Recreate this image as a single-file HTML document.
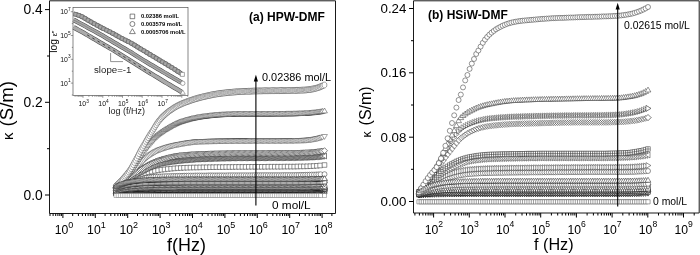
<!DOCTYPE html>
<html><head><meta charset="utf-8"><title>Conductivity spectra</title>
<style>
html,body{margin:0;padding:0;background:#fff;}
svg{display:block;}
svg text{font-family:"Liberation Sans",Arial,sans-serif;}
</style></head>
<body>
<svg width="700" height="255" viewBox="0 0 700 255">
<rect width="700" height="255" fill="#fff"/>
<defs><path id="m0" d="M-2.5 0a2.5 2.5 0 1 0 5 0a2.5 2.5 0 1 0 -5 0z"/><path id="m1" d="M-2.3 -2.3h4.6v4.6h-4.6z"/><path id="m2" d="M-2.9 0l4.9 2.9v-5.8z"/><path id="m3" d="M0 -3l3 3l-3 3l-3 -3z"/><path id="m4" d="M0 2.9l2.9 -4.9h-5.8z"/><path id="m5" d="M0 -2.9l2.9 4.9h-5.8z"/><path id="m6" d="M-2.4 0a2.4 2.4 0 1 0 4.7 0a2.4 2.4 0 1 0 -4.7 0z"/><path id="m7" d="M-2 -2h4v4h-4z"/><path id="m8" d="M-1.8 -1.8h3.6v3.6h-3.6z"/><path id="m9" d="M-2.2 0a2.2 2.2 0 1 0 4.4 0a2.2 2.2 0 1 0 -4.4 0z"/><path id="m10" d="M0 -2.5l2.5 4.2h-5z"/><path id="m11" d="M-2.3 -2.3h4.6v4.6h-4.6z"/><path id="m12" d="M-2.5 0a2.5 2.5 0 1 0 5 0a2.5 2.5 0 1 0 -5 0z"/><path id="m13" d="M0 -2.9l2.9 4.9h-5.8z"/><path id="m14" d="M2.9 0l-4.9 2.9v-5.8z"/><path id="m15" d="M-2.3 -2.3h4.6v4.6h-4.6zM0 -2.3v4.6M-2.3 0h4.6"/><path id="m16" d="M-2.1 -2.1h4.2v4.2h-4.2z"/></defs>
<g id="panelA">
<g fill="#fff" stroke="#2a2a2a" stroke-width="0.5"><use href="#m0" x="116" y="188.6"/><use href="#m0" x="118.2" y="187.1"/><use href="#m0" x="120.4" y="185.7"/><use href="#m0" x="122.6" y="184.4"/><use href="#m0" x="124.8" y="183.2"/><use href="#m0" x="127" y="182.2"/><use href="#m0" x="129.2" y="181.3"/><use href="#m0" x="131.4" y="180.5"/><use href="#m0" x="133.6" y="179.9"/><use href="#m0" x="135.8" y="179.3"/><use href="#m0" x="138" y="178.8"/><use href="#m0" x="140.2" y="178.5"/><use href="#m0" x="142.4" y="178.2"/><use href="#m0" x="144.6" y="177.9"/><use href="#m0" x="146.8" y="177.6"/><use href="#m0" x="149" y="177.3"/><use href="#m0" x="151.2" y="177.1"/><use href="#m0" x="153.4" y="176.9"/><use href="#m0" x="155.6" y="176.7"/><use href="#m0" x="157.8" y="176.6"/><use href="#m0" x="160" y="176.5"/><use href="#m0" x="162.2" y="176.4"/><use href="#m0" x="164.4" y="176.3"/><use href="#m0" x="166.6" y="176.2"/><use href="#m0" x="168.8" y="176.2"/><use href="#m0" x="171" y="176.1"/><use href="#m0" x="173.2" y="176"/><use href="#m0" x="175.4" y="176"/><use href="#m0" x="177.6" y="175.9"/><use href="#m0" x="179.8" y="175.8"/><use href="#m0" x="182" y="175.8"/><use href="#m0" x="184.2" y="175.7"/><use href="#m0" x="186.4" y="175.7"/><use href="#m0" x="188.6" y="175.6"/><use href="#m0" x="190.8" y="175.6"/><use href="#m0" x="193" y="175.6"/><use href="#m0" x="195.2" y="175.5"/><use href="#m0" x="197.4" y="175.5"/><use href="#m0" x="199.6" y="175.5"/><use href="#m0" x="201.8" y="175.5"/><use href="#m0" x="204" y="175.5"/><use href="#m0" x="206.2" y="175.5"/><use href="#m0" x="208.4" y="175.4"/><use href="#m0" x="210.6" y="175.4"/><use href="#m0" x="212.8" y="175.4"/><use href="#m0" x="215" y="175.4"/><use href="#m0" x="217.2" y="175.4"/><use href="#m0" x="219.4" y="175.4"/><use href="#m0" x="221.6" y="175.4"/><use href="#m0" x="223.8" y="175.4"/><use href="#m0" x="226" y="175.4"/><use href="#m0" x="228.2" y="175.3"/><use href="#m0" x="230.4" y="175.3"/><use href="#m0" x="232.6" y="175.3"/><use href="#m0" x="234.8" y="175.3"/><use href="#m0" x="237" y="175.3"/><use href="#m0" x="239.2" y="175.3"/><use href="#m0" x="241.4" y="175.3"/><use href="#m0" x="243.6" y="175.3"/><use href="#m0" x="245.8" y="175.3"/><use href="#m0" x="248" y="175.3"/><use href="#m0" x="250.2" y="175.3"/><use href="#m0" x="252.4" y="175.3"/><use href="#m0" x="254.6" y="175.2"/><use href="#m0" x="256.8" y="175.2"/><use href="#m0" x="259" y="175.2"/><use href="#m0" x="261.2" y="175.2"/><use href="#m0" x="263.4" y="175.2"/><use href="#m0" x="265.6" y="175.2"/><use href="#m0" x="267.8" y="175.2"/><use href="#m0" x="270" y="175.2"/><use href="#m0" x="272.2" y="175.2"/><use href="#m0" x="274.4" y="175.2"/><use href="#m0" x="276.6" y="175.2"/><use href="#m0" x="278.8" y="175.2"/><use href="#m0" x="281" y="175.2"/><use href="#m0" x="283.2" y="175.1"/><use href="#m0" x="285.4" y="175.1"/><use href="#m0" x="287.6" y="175.1"/><use href="#m0" x="289.8" y="175.1"/><use href="#m0" x="292" y="175.1"/><use href="#m0" x="294.2" y="175.1"/><use href="#m0" x="296.4" y="175"/><use href="#m0" x="298.6" y="175"/><use href="#m0" x="300.8" y="174.9"/><use href="#m0" x="303" y="174.9"/><use href="#m0" x="305.2" y="174.8"/><use href="#m0" x="307.4" y="174.8"/><use href="#m0" x="309.6" y="174.7"/><use href="#m0" x="311.8" y="174.6"/><use href="#m0" x="314" y="174.6"/><use href="#m0" x="316.2" y="174.5"/><use href="#m0" x="318.4" y="174.4"/><use href="#m0" x="320.6" y="174.3"/><use href="#m0" x="324.5" y="174.2"/></g>
<g fill="#fff" stroke="#2a2a2a" stroke-width="0.5"><use href="#m1" x="116" y="188.1"/><use href="#m1" x="119.2" y="185.4"/><use href="#m1" x="122.5" y="183.1"/><use href="#m1" x="125.7" y="180.9"/><use href="#m1" x="129" y="179"/><use href="#m1" x="132.2" y="177.4"/><use href="#m1" x="135.4" y="176"/><use href="#m1" x="138.7" y="174.8"/><use href="#m1" x="141.9" y="173.9"/><use href="#m1" x="145.2" y="173.1"/><use href="#m1" x="148.4" y="172.3"/><use href="#m1" x="151.6" y="171.6"/><use href="#m1" x="154.9" y="170.9"/><use href="#m1" x="158.1" y="170.3"/><use href="#m1" x="161.4" y="169.8"/><use href="#m1" x="164.6" y="169.4"/><use href="#m1" x="167.8" y="169"/><use href="#m1" x="171.1" y="168.7"/><use href="#m1" x="174.3" y="168.4"/><use href="#m1" x="177.6" y="168.1"/><use href="#m1" x="180.8" y="168"/><use href="#m1" x="184" y="167.8"/><use href="#m1" x="187.3" y="167.7"/><use href="#m1" x="190.5" y="167.6"/><use href="#m1" x="193.8" y="167.5"/><use href="#m1" x="197" y="167.5"/><use href="#m1" x="200.2" y="167.4"/><use href="#m1" x="203.5" y="167.3"/><use href="#m1" x="206.7" y="167.3"/><use href="#m1" x="210" y="167.2"/><use href="#m1" x="213.2" y="167.2"/><use href="#m1" x="216.4" y="167.1"/><use href="#m1" x="219.7" y="167.1"/><use href="#m1" x="222.9" y="167.1"/><use href="#m1" x="226.2" y="167"/><use href="#m1" x="229.4" y="167"/><use href="#m1" x="232.6" y="167"/><use href="#m1" x="235.9" y="166.9"/><use href="#m1" x="239.1" y="166.9"/><use href="#m1" x="242.4" y="166.9"/><use href="#m1" x="245.6" y="166.9"/><use href="#m1" x="248.8" y="166.8"/><use href="#m1" x="252.1" y="166.8"/><use href="#m1" x="255.3" y="166.8"/><use href="#m1" x="258.6" y="166.8"/><use href="#m1" x="261.8" y="166.8"/><use href="#m1" x="265" y="166.8"/><use href="#m1" x="268.3" y="166.7"/><use href="#m1" x="271.5" y="166.7"/><use href="#m1" x="274.8" y="166.7"/><use href="#m1" x="278" y="166.7"/><use href="#m1" x="281.2" y="166.7"/><use href="#m1" x="284.5" y="166.6"/><use href="#m1" x="287.7" y="166.6"/><use href="#m1" x="291" y="166.6"/><use href="#m1" x="294.2" y="166.6"/><use href="#m1" x="297.4" y="166.5"/><use href="#m1" x="300.7" y="166.4"/><use href="#m1" x="303.9" y="166.4"/><use href="#m1" x="307.2" y="166.3"/><use href="#m1" x="310.4" y="166.2"/><use href="#m1" x="313.6" y="166"/><use href="#m1" x="316.9" y="165.8"/><use href="#m1" x="320.1" y="165.5"/><use href="#m1" x="324.5" y="165"/></g>
<g fill="#fff" stroke="#2a2a2a" stroke-width="0.6"><use href="#m2" x="116" y="187.9"/><use href="#m2" x="117.2" y="186.9"/><use href="#m2" x="118.4" y="185.9"/><use href="#m2" x="119.6" y="184.9"/><use href="#m2" x="120.8" y="184"/><use href="#m2" x="122" y="183.1"/><use href="#m2" x="123.2" y="182.2"/><use href="#m2" x="124.4" y="181.3"/><use href="#m2" x="125.6" y="180.4"/><use href="#m2" x="126.8" y="179.6"/><use href="#m2" x="128" y="178.8"/><use href="#m2" x="129.2" y="178"/><use href="#m2" x="130.4" y="177.3"/><use href="#m2" x="131.6" y="176.5"/><use href="#m2" x="132.8" y="175.8"/><use href="#m2" x="134" y="175.2"/><use href="#m2" x="135.2" y="174.5"/><use href="#m2" x="136.4" y="173.9"/><use href="#m2" x="137.6" y="173.2"/><use href="#m2" x="138.8" y="172.6"/><use href="#m2" x="140" y="172"/><use href="#m2" x="141.2" y="171.4"/><use href="#m2" x="142.4" y="170.7"/><use href="#m2" x="143.6" y="170.1"/><use href="#m2" x="144.8" y="169.5"/><use href="#m2" x="146" y="168.9"/><use href="#m2" x="147.2" y="168.3"/><use href="#m2" x="148.4" y="167.7"/><use href="#m2" x="149.6" y="167.2"/><use href="#m2" x="150.8" y="166.7"/><use href="#m2" x="152" y="166.2"/><use href="#m2" x="153.2" y="165.7"/><use href="#m2" x="154.4" y="165.2"/><use href="#m2" x="155.6" y="164.8"/><use href="#m2" x="156.8" y="164.4"/><use href="#m2" x="158" y="164"/><use href="#m2" x="159.2" y="163.7"/><use href="#m2" x="160.4" y="163.4"/><use href="#m2" x="161.6" y="163.2"/><use href="#m2" x="162.8" y="162.9"/><use href="#m2" x="164" y="162.7"/><use href="#m2" x="165.2" y="162.5"/><use href="#m2" x="166.4" y="162.3"/><use href="#m2" x="167.6" y="162.1"/><use href="#m2" x="168.8" y="161.9"/><use href="#m2" x="170" y="161.7"/><use href="#m2" x="171.2" y="161.5"/><use href="#m2" x="172.4" y="161.4"/><use href="#m2" x="173.6" y="161.2"/><use href="#m2" x="174.8" y="161.1"/><use href="#m2" x="176" y="160.9"/><use href="#m2" x="177.2" y="160.8"/><use href="#m2" x="178.4" y="160.7"/><use href="#m2" x="179.6" y="160.5"/><use href="#m2" x="180.8" y="160.4"/><use href="#m2" x="182" y="160.3"/><use href="#m2" x="183.2" y="160.2"/><use href="#m2" x="184.4" y="160.1"/><use href="#m2" x="185.6" y="160"/><use href="#m2" x="186.8" y="159.9"/><use href="#m2" x="188" y="159.8"/><use href="#m2" x="189.2" y="159.7"/><use href="#m2" x="190.4" y="159.6"/><use href="#m2" x="191.6" y="159.5"/><use href="#m2" x="192.8" y="159.4"/><use href="#m2" x="194" y="159.3"/><use href="#m2" x="195.2" y="159.2"/><use href="#m2" x="196.4" y="159.2"/><use href="#m2" x="197.6" y="159.1"/><use href="#m2" x="198.8" y="159.1"/><use href="#m2" x="200" y="159"/><use href="#m2" x="201.2" y="159"/><use href="#m2" x="202.4" y="158.9"/><use href="#m2" x="203.6" y="158.9"/><use href="#m2" x="204.8" y="158.8"/><use href="#m2" x="206" y="158.8"/><use href="#m2" x="207.2" y="158.7"/><use href="#m2" x="208.4" y="158.7"/><use href="#m2" x="209.6" y="158.7"/><use href="#m2" x="210.8" y="158.6"/><use href="#m2" x="212" y="158.6"/><use href="#m2" x="213.2" y="158.5"/><use href="#m2" x="214.4" y="158.5"/><use href="#m2" x="215.6" y="158.5"/><use href="#m2" x="216.8" y="158.4"/><use href="#m2" x="218" y="158.4"/><use href="#m2" x="219.2" y="158.4"/><use href="#m2" x="220.4" y="158.3"/><use href="#m2" x="221.6" y="158.3"/><use href="#m2" x="222.8" y="158.3"/><use href="#m2" x="224" y="158.3"/><use href="#m2" x="225.2" y="158.2"/><use href="#m2" x="226.4" y="158.2"/><use href="#m2" x="227.6" y="158.2"/><use href="#m2" x="228.8" y="158.2"/><use href="#m2" x="230" y="158.1"/><use href="#m2" x="231.2" y="158.1"/><use href="#m2" x="232.4" y="158.1"/><use href="#m2" x="233.6" y="158.1"/><use href="#m2" x="234.8" y="158.1"/><use href="#m2" x="236" y="158"/><use href="#m2" x="237.2" y="158"/><use href="#m2" x="238.4" y="158"/><use href="#m2" x="239.6" y="158"/><use href="#m2" x="240.8" y="158"/><use href="#m2" x="242" y="158"/><use href="#m2" x="243.2" y="158"/><use href="#m2" x="244.4" y="158"/><use href="#m2" x="245.6" y="158"/><use href="#m2" x="246.8" y="157.9"/><use href="#m2" x="248" y="157.9"/><use href="#m2" x="249.2" y="157.9"/><use href="#m2" x="250.4" y="157.9"/><use href="#m2" x="251.6" y="157.9"/><use href="#m2" x="252.8" y="157.9"/><use href="#m2" x="254" y="157.9"/><use href="#m2" x="255.2" y="157.9"/><use href="#m2" x="256.4" y="157.9"/><use href="#m2" x="257.6" y="157.9"/><use href="#m2" x="258.8" y="157.9"/><use href="#m2" x="260" y="157.9"/><use href="#m2" x="261.2" y="157.9"/><use href="#m2" x="262.4" y="157.9"/><use href="#m2" x="263.6" y="157.9"/><use href="#m2" x="264.8" y="157.9"/><use href="#m2" x="266" y="157.9"/><use href="#m2" x="267.2" y="157.8"/><use href="#m2" x="268.4" y="157.8"/><use href="#m2" x="269.6" y="157.8"/><use href="#m2" x="270.8" y="157.8"/><use href="#m2" x="272" y="157.8"/><use href="#m2" x="273.2" y="157.8"/><use href="#m2" x="274.4" y="157.8"/><use href="#m2" x="275.6" y="157.8"/><use href="#m2" x="276.8" y="157.8"/><use href="#m2" x="278" y="157.8"/><use href="#m2" x="279.2" y="157.8"/><use href="#m2" x="280.4" y="157.8"/><use href="#m2" x="281.6" y="157.8"/><use href="#m2" x="282.8" y="157.8"/><use href="#m2" x="284" y="157.8"/><use href="#m2" x="285.2" y="157.7"/><use href="#m2" x="286.4" y="157.7"/><use href="#m2" x="287.6" y="157.7"/><use href="#m2" x="288.8" y="157.7"/><use href="#m2" x="290" y="157.7"/><use href="#m2" x="291.2" y="157.7"/><use href="#m2" x="292.4" y="157.7"/><use href="#m2" x="293.6" y="157.7"/><use href="#m2" x="294.8" y="157.6"/><use href="#m2" x="296" y="157.6"/><use href="#m2" x="297.2" y="157.6"/><use href="#m2" x="298.4" y="157.6"/><use href="#m2" x="299.6" y="157.5"/><use href="#m2" x="300.8" y="157.5"/><use href="#m2" x="302" y="157.5"/><use href="#m2" x="303.2" y="157.4"/><use href="#m2" x="304.4" y="157.4"/><use href="#m2" x="305.6" y="157.4"/><use href="#m2" x="306.8" y="157.3"/><use href="#m2" x="308" y="157.3"/><use href="#m2" x="309.2" y="157.2"/><use href="#m2" x="310.4" y="157.2"/><use href="#m2" x="311.6" y="157.1"/><use href="#m2" x="312.8" y="157.1"/><use href="#m2" x="314" y="157"/><use href="#m2" x="315.2" y="156.9"/><use href="#m2" x="316.4" y="156.8"/><use href="#m2" x="317.6" y="156.7"/><use href="#m2" x="318.8" y="156.6"/><use href="#m2" x="320" y="156.5"/><use href="#m2" x="321.2" y="156.3"/><use href="#m2" x="322.4" y="156.2"/><use href="#m2" x="324.5" y="156"/></g>
<g fill="#fff" stroke="#2a2a2a" stroke-width="0.6"><use href="#m3" x="116" y="187.4"/><use href="#m3" x="117.2" y="186.3"/><use href="#m3" x="118.4" y="185.2"/><use href="#m3" x="119.6" y="184.1"/><use href="#m3" x="120.8" y="183.1"/><use href="#m3" x="122" y="182.1"/><use href="#m3" x="123.2" y="181.1"/><use href="#m3" x="124.4" y="180.1"/><use href="#m3" x="125.6" y="179.2"/><use href="#m3" x="126.8" y="178.3"/><use href="#m3" x="128" y="177.4"/><use href="#m3" x="129.2" y="176.6"/><use href="#m3" x="130.4" y="175.7"/><use href="#m3" x="131.6" y="174.9"/><use href="#m3" x="132.8" y="174.2"/><use href="#m3" x="134" y="173.5"/><use href="#m3" x="135.2" y="172.8"/><use href="#m3" x="136.4" y="172.1"/><use href="#m3" x="137.6" y="171.4"/><use href="#m3" x="138.8" y="170.7"/><use href="#m3" x="140" y="170"/><use href="#m3" x="141.2" y="169.3"/><use href="#m3" x="142.4" y="168.5"/><use href="#m3" x="143.6" y="167.7"/><use href="#m3" x="144.8" y="167"/><use href="#m3" x="146" y="166.2"/><use href="#m3" x="147.2" y="165.5"/><use href="#m3" x="148.4" y="164.8"/><use href="#m3" x="149.6" y="164.2"/><use href="#m3" x="150.8" y="163.6"/><use href="#m3" x="152" y="163.1"/><use href="#m3" x="153.2" y="162.5"/><use href="#m3" x="154.4" y="162"/><use href="#m3" x="155.6" y="161.5"/><use href="#m3" x="156.8" y="161.1"/><use href="#m3" x="158" y="160.6"/><use href="#m3" x="159.2" y="160.2"/><use href="#m3" x="160.4" y="159.9"/><use href="#m3" x="161.6" y="159.5"/><use href="#m3" x="162.8" y="159.2"/><use href="#m3" x="164" y="158.9"/><use href="#m3" x="165.2" y="158.5"/><use href="#m3" x="166.4" y="158.2"/><use href="#m3" x="167.6" y="157.9"/><use href="#m3" x="168.8" y="157.6"/><use href="#m3" x="170" y="157.3"/><use href="#m3" x="171.2" y="157.1"/><use href="#m3" x="172.4" y="156.8"/><use href="#m3" x="173.6" y="156.6"/><use href="#m3" x="174.8" y="156.3"/><use href="#m3" x="176" y="156.1"/><use href="#m3" x="177.2" y="156"/><use href="#m3" x="178.4" y="155.8"/><use href="#m3" x="179.6" y="155.6"/><use href="#m3" x="180.8" y="155.5"/><use href="#m3" x="182" y="155.4"/><use href="#m3" x="183.2" y="155.3"/><use href="#m3" x="184.4" y="155.2"/><use href="#m3" x="185.6" y="155.1"/><use href="#m3" x="186.8" y="155"/><use href="#m3" x="188" y="154.9"/><use href="#m3" x="189.2" y="154.8"/><use href="#m3" x="190.4" y="154.7"/><use href="#m3" x="191.6" y="154.6"/><use href="#m3" x="192.8" y="154.5"/><use href="#m3" x="194" y="154.5"/><use href="#m3" x="195.2" y="154.4"/><use href="#m3" x="196.4" y="154.4"/><use href="#m3" x="197.6" y="154.3"/><use href="#m3" x="198.8" y="154.2"/><use href="#m3" x="200" y="154.2"/><use href="#m3" x="201.2" y="154.2"/><use href="#m3" x="202.4" y="154.1"/><use href="#m3" x="203.6" y="154.1"/><use href="#m3" x="204.8" y="154"/><use href="#m3" x="206" y="154"/><use href="#m3" x="207.2" y="154"/><use href="#m3" x="208.4" y="153.9"/><use href="#m3" x="209.6" y="153.9"/><use href="#m3" x="210.8" y="153.8"/><use href="#m3" x="212" y="153.8"/><use href="#m3" x="213.2" y="153.8"/><use href="#m3" x="214.4" y="153.7"/><use href="#m3" x="215.6" y="153.7"/><use href="#m3" x="216.8" y="153.7"/><use href="#m3" x="218" y="153.6"/><use href="#m3" x="219.2" y="153.6"/><use href="#m3" x="220.4" y="153.6"/><use href="#m3" x="221.6" y="153.6"/><use href="#m3" x="222.8" y="153.5"/><use href="#m3" x="224" y="153.5"/><use href="#m3" x="225.2" y="153.5"/><use href="#m3" x="226.4" y="153.5"/><use href="#m3" x="227.6" y="153.4"/><use href="#m3" x="228.8" y="153.4"/><use href="#m3" x="230" y="153.4"/><use href="#m3" x="231.2" y="153.4"/><use href="#m3" x="232.4" y="153.4"/><use href="#m3" x="233.6" y="153.3"/><use href="#m3" x="234.8" y="153.3"/><use href="#m3" x="236" y="153.3"/><use href="#m3" x="237.2" y="153.3"/><use href="#m3" x="238.4" y="153.3"/><use href="#m3" x="239.6" y="153.3"/><use href="#m3" x="240.8" y="153.3"/><use href="#m3" x="242" y="153.3"/><use href="#m3" x="243.2" y="153.3"/><use href="#m3" x="244.4" y="153.3"/><use href="#m3" x="245.6" y="153.3"/><use href="#m3" x="246.8" y="153.3"/><use href="#m3" x="248" y="153.3"/><use href="#m3" x="249.2" y="153.3"/><use href="#m3" x="250.4" y="153.3"/><use href="#m3" x="251.6" y="153.3"/><use href="#m3" x="252.8" y="153.3"/><use href="#m3" x="254" y="153.3"/><use href="#m3" x="255.2" y="153.3"/><use href="#m3" x="256.4" y="153.3"/><use href="#m3" x="257.6" y="153.3"/><use href="#m3" x="258.8" y="153.3"/><use href="#m3" x="260" y="153.3"/><use href="#m3" x="261.2" y="153.3"/><use href="#m3" x="262.4" y="153.3"/><use href="#m3" x="263.6" y="153.3"/><use href="#m3" x="264.8" y="153.3"/><use href="#m3" x="266" y="153.3"/><use href="#m3" x="267.2" y="153.3"/><use href="#m3" x="268.4" y="153.2"/><use href="#m3" x="269.6" y="153.2"/><use href="#m3" x="270.8" y="153.2"/><use href="#m3" x="272" y="153.2"/><use href="#m3" x="273.2" y="153.2"/><use href="#m3" x="274.4" y="153.2"/><use href="#m3" x="275.6" y="153.2"/><use href="#m3" x="276.8" y="153.2"/><use href="#m3" x="278" y="153.2"/><use href="#m3" x="279.2" y="153.2"/><use href="#m3" x="280.4" y="153.2"/><use href="#m3" x="281.6" y="153.2"/><use href="#m3" x="282.8" y="153.2"/><use href="#m3" x="284" y="153.2"/><use href="#m3" x="285.2" y="153.2"/><use href="#m3" x="286.4" y="153.2"/><use href="#m3" x="287.6" y="153.2"/><use href="#m3" x="288.8" y="153.2"/><use href="#m3" x="290" y="153.2"/><use href="#m3" x="291.2" y="153.2"/><use href="#m3" x="292.4" y="153.2"/><use href="#m3" x="293.6" y="153.2"/><use href="#m3" x="294.8" y="153.1"/><use href="#m3" x="296" y="153.1"/><use href="#m3" x="297.2" y="153.1"/><use href="#m3" x="298.4" y="153"/><use href="#m3" x="299.6" y="153"/><use href="#m3" x="300.8" y="152.9"/><use href="#m3" x="302" y="152.9"/><use href="#m3" x="303.2" y="152.8"/><use href="#m3" x="304.4" y="152.8"/><use href="#m3" x="305.6" y="152.7"/><use href="#m3" x="306.8" y="152.7"/><use href="#m3" x="308" y="152.6"/><use href="#m3" x="309.2" y="152.5"/><use href="#m3" x="310.4" y="152.5"/><use href="#m3" x="311.6" y="152.4"/><use href="#m3" x="312.8" y="152.3"/><use href="#m3" x="314" y="152.2"/><use href="#m3" x="315.2" y="152"/><use href="#m3" x="316.4" y="151.9"/><use href="#m3" x="317.6" y="151.7"/><use href="#m3" x="318.8" y="151.6"/><use href="#m3" x="320" y="151.4"/><use href="#m3" x="321.2" y="151.2"/><use href="#m3" x="322.4" y="151"/><use href="#m3" x="324.5" y="150.7"/></g>
<g fill="#fff" stroke="#2a2a2a" stroke-width="0.42"><use href="#m4" x="116" y="187"/><use href="#m4" x="117.2" y="186"/><use href="#m4" x="118.4" y="184.9"/><use href="#m4" x="119.6" y="183.8"/><use href="#m4" x="120.8" y="182.7"/><use href="#m4" x="122" y="181.6"/><use href="#m4" x="123.2" y="180.5"/><use href="#m4" x="124.4" y="179.3"/><use href="#m4" x="125.6" y="178.2"/><use href="#m4" x="126.8" y="177.1"/><use href="#m4" x="128" y="175.9"/><use href="#m4" x="129.2" y="174.8"/><use href="#m4" x="130.4" y="173.6"/><use href="#m4" x="131.6" y="172.4"/><use href="#m4" x="132.8" y="171.2"/><use href="#m4" x="134" y="170"/><use href="#m4" x="135.2" y="168.8"/><use href="#m4" x="136.4" y="167.6"/><use href="#m4" x="137.6" y="166.3"/><use href="#m4" x="138.8" y="165.2"/><use href="#m4" x="140" y="164"/><use href="#m4" x="141.2" y="162.8"/><use href="#m4" x="142.4" y="161.7"/><use href="#m4" x="143.6" y="160.5"/><use href="#m4" x="144.8" y="159.3"/><use href="#m4" x="146" y="158.2"/><use href="#m4" x="147.2" y="157.2"/><use href="#m4" x="148.4" y="156.2"/><use href="#m4" x="149.6" y="155.3"/><use href="#m4" x="150.8" y="154.5"/><use href="#m4" x="152" y="153.7"/><use href="#m4" x="153.2" y="153"/><use href="#m4" x="154.4" y="152.3"/><use href="#m4" x="155.6" y="151.6"/><use href="#m4" x="156.8" y="151"/><use href="#m4" x="158" y="150.4"/><use href="#m4" x="159.2" y="149.9"/><use href="#m4" x="160.4" y="149.5"/><use href="#m4" x="161.6" y="149"/><use href="#m4" x="162.8" y="148.6"/><use href="#m4" x="164" y="148.2"/><use href="#m4" x="165.2" y="147.8"/><use href="#m4" x="166.4" y="147.4"/><use href="#m4" x="167.6" y="147.1"/><use href="#m4" x="168.8" y="146.7"/><use href="#m4" x="170" y="146.4"/><use href="#m4" x="171.2" y="146.1"/><use href="#m4" x="172.4" y="145.8"/><use href="#m4" x="173.6" y="145.5"/><use href="#m4" x="174.8" y="145.2"/><use href="#m4" x="176" y="145"/><use href="#m4" x="177.2" y="144.7"/><use href="#m4" x="178.4" y="144.5"/><use href="#m4" x="179.6" y="144.3"/><use href="#m4" x="180.8" y="144.1"/><use href="#m4" x="182" y="143.8"/><use href="#m4" x="183.2" y="143.6"/><use href="#m4" x="184.4" y="143.4"/><use href="#m4" x="185.6" y="143.2"/><use href="#m4" x="186.8" y="143"/><use href="#m4" x="188" y="142.8"/><use href="#m4" x="189.2" y="142.7"/><use href="#m4" x="190.4" y="142.5"/><use href="#m4" x="191.6" y="142.3"/><use href="#m4" x="192.8" y="142.2"/><use href="#m4" x="194" y="142"/><use href="#m4" x="195.2" y="141.9"/><use href="#m4" x="196.4" y="141.8"/><use href="#m4" x="197.6" y="141.7"/><use href="#m4" x="198.8" y="141.7"/><use href="#m4" x="200" y="141.6"/><use href="#m4" x="201.2" y="141.6"/><use href="#m4" x="202.4" y="141.5"/><use href="#m4" x="203.6" y="141.5"/><use href="#m4" x="204.8" y="141.5"/><use href="#m4" x="206" y="141.4"/><use href="#m4" x="207.2" y="141.4"/><use href="#m4" x="208.4" y="141.4"/><use href="#m4" x="209.6" y="141.3"/><use href="#m4" x="210.8" y="141.3"/><use href="#m4" x="212" y="141.3"/><use href="#m4" x="213.2" y="141.2"/><use href="#m4" x="214.4" y="141.2"/><use href="#m4" x="215.6" y="141.2"/><use href="#m4" x="216.8" y="141.2"/><use href="#m4" x="218" y="141.1"/><use href="#m4" x="219.2" y="141.1"/><use href="#m4" x="220.4" y="141.1"/><use href="#m4" x="221.6" y="141.1"/><use href="#m4" x="222.8" y="141.1"/><use href="#m4" x="224" y="141.1"/><use href="#m4" x="225.2" y="141"/><use href="#m4" x="226.4" y="141"/><use href="#m4" x="227.6" y="141"/><use href="#m4" x="228.8" y="141"/><use href="#m4" x="230" y="141"/><use href="#m4" x="231.2" y="141"/><use href="#m4" x="232.4" y="141"/><use href="#m4" x="233.6" y="140.9"/><use href="#m4" x="234.8" y="140.9"/><use href="#m4" x="236" y="140.9"/><use href="#m4" x="237.2" y="140.9"/><use href="#m4" x="238.4" y="140.9"/><use href="#m4" x="239.6" y="140.9"/><use href="#m4" x="240.8" y="140.9"/><use href="#m4" x="242" y="140.9"/><use href="#m4" x="243.2" y="140.9"/><use href="#m4" x="244.4" y="140.9"/><use href="#m4" x="245.6" y="140.9"/><use href="#m4" x="246.8" y="140.9"/><use href="#m4" x="248" y="140.9"/><use href="#m4" x="249.2" y="140.9"/><use href="#m4" x="250.4" y="140.8"/><use href="#m4" x="251.6" y="140.8"/><use href="#m4" x="252.8" y="140.8"/><use href="#m4" x="254" y="140.8"/><use href="#m4" x="255.2" y="140.8"/><use href="#m4" x="256.4" y="140.8"/><use href="#m4" x="257.6" y="140.8"/><use href="#m4" x="258.8" y="140.8"/><use href="#m4" x="260" y="140.8"/><use href="#m4" x="261.2" y="140.8"/><use href="#m4" x="262.4" y="140.8"/><use href="#m4" x="263.6" y="140.8"/><use href="#m4" x="264.8" y="140.8"/><use href="#m4" x="266" y="140.8"/><use href="#m4" x="267.2" y="140.8"/><use href="#m4" x="268.4" y="140.8"/><use href="#m4" x="269.6" y="140.8"/><use href="#m4" x="270.8" y="140.8"/><use href="#m4" x="272" y="140.8"/><use href="#m4" x="273.2" y="140.8"/><use href="#m4" x="274.4" y="140.8"/><use href="#m4" x="275.6" y="140.8"/><use href="#m4" x="276.8" y="140.8"/><use href="#m4" x="278" y="140.8"/><use href="#m4" x="279.2" y="140.8"/><use href="#m4" x="280.4" y="140.8"/><use href="#m4" x="281.6" y="140.8"/><use href="#m4" x="282.8" y="140.7"/><use href="#m4" x="284" y="140.7"/><use href="#m4" x="285.2" y="140.7"/><use href="#m4" x="286.4" y="140.7"/><use href="#m4" x="287.6" y="140.7"/><use href="#m4" x="288.8" y="140.7"/><use href="#m4" x="290" y="140.7"/><use href="#m4" x="291.2" y="140.7"/><use href="#m4" x="292.4" y="140.7"/><use href="#m4" x="293.6" y="140.7"/><use href="#m4" x="294.8" y="140.6"/><use href="#m4" x="296" y="140.6"/><use href="#m4" x="297.2" y="140.6"/><use href="#m4" x="298.4" y="140.5"/><use href="#m4" x="299.6" y="140.5"/><use href="#m4" x="300.8" y="140.5"/><use href="#m4" x="302" y="140.4"/><use href="#m4" x="303.2" y="140.4"/><use href="#m4" x="304.4" y="140.3"/><use href="#m4" x="305.6" y="140.3"/><use href="#m4" x="306.8" y="140.2"/><use href="#m4" x="308" y="140.1"/><use href="#m4" x="309.2" y="139.9"/><use href="#m4" x="310.4" y="139.8"/><use href="#m4" x="311.6" y="139.6"/><use href="#m4" x="312.8" y="139.4"/><use href="#m4" x="314" y="139.2"/><use href="#m4" x="315.2" y="139"/><use href="#m4" x="316.4" y="138.7"/><use href="#m4" x="317.6" y="138.5"/><use href="#m4" x="318.8" y="138.2"/><use href="#m4" x="320" y="137.9"/><use href="#m4" x="321.2" y="137.5"/><use href="#m4" x="322.4" y="137.2"/><use href="#m4" x="324.5" y="136.5"/></g>
<g fill="#fff" stroke="#2a2a2a" stroke-width="0.47"><use href="#m5" x="116" y="186.7"/><use href="#m5" x="117.2" y="185.6"/><use href="#m5" x="118.4" y="184.5"/><use href="#m5" x="119.6" y="183.4"/><use href="#m5" x="120.8" y="182.2"/><use href="#m5" x="122" y="181"/><use href="#m5" x="123.2" y="179.7"/><use href="#m5" x="124.4" y="178.4"/><use href="#m5" x="125.6" y="177"/><use href="#m5" x="126.8" y="175.6"/><use href="#m5" x="128" y="174.1"/><use href="#m5" x="129.2" y="172.6"/><use href="#m5" x="130.4" y="171"/><use href="#m5" x="131.6" y="169.2"/><use href="#m5" x="132.8" y="167.4"/><use href="#m5" x="134" y="165.5"/><use href="#m5" x="135.2" y="163.5"/><use href="#m5" x="136.4" y="161.5"/><use href="#m5" x="137.6" y="159.5"/><use href="#m5" x="138.8" y="157.4"/><use href="#m5" x="140" y="155.5"/><use href="#m5" x="141.2" y="153.6"/><use href="#m5" x="142.4" y="151.8"/><use href="#m5" x="143.6" y="150.2"/><use href="#m5" x="144.8" y="148.6"/><use href="#m5" x="146" y="147.1"/><use href="#m5" x="147.2" y="145.6"/><use href="#m5" x="148.4" y="144.1"/><use href="#m5" x="149.6" y="142.7"/><use href="#m5" x="150.8" y="141.3"/><use href="#m5" x="152" y="140"/><use href="#m5" x="153.2" y="138.7"/><use href="#m5" x="154.4" y="137.5"/><use href="#m5" x="155.6" y="136.3"/><use href="#m5" x="156.8" y="135.3"/><use href="#m5" x="158" y="134.4"/><use href="#m5" x="159.2" y="133.5"/><use href="#m5" x="160.4" y="132.6"/><use href="#m5" x="161.6" y="131.8"/><use href="#m5" x="162.8" y="131"/><use href="#m5" x="164" y="130.2"/><use href="#m5" x="165.2" y="129.5"/><use href="#m5" x="166.4" y="128.8"/><use href="#m5" x="167.6" y="128.1"/><use href="#m5" x="168.8" y="127.4"/><use href="#m5" x="170" y="126.7"/><use href="#m5" x="171.2" y="126"/><use href="#m5" x="172.4" y="125.4"/><use href="#m5" x="173.6" y="124.8"/><use href="#m5" x="174.8" y="124.2"/><use href="#m5" x="176" y="123.6"/><use href="#m5" x="177.2" y="123.1"/><use href="#m5" x="178.4" y="122.6"/><use href="#m5" x="179.6" y="122.1"/><use href="#m5" x="180.8" y="121.7"/><use href="#m5" x="182" y="121.3"/><use href="#m5" x="183.2" y="121"/><use href="#m5" x="184.4" y="120.6"/><use href="#m5" x="185.6" y="120.2"/><use href="#m5" x="186.8" y="119.9"/><use href="#m5" x="188" y="119.6"/><use href="#m5" x="189.2" y="119.2"/><use href="#m5" x="190.4" y="118.9"/><use href="#m5" x="191.6" y="118.6"/><use href="#m5" x="192.8" y="118.4"/><use href="#m5" x="194" y="118.1"/><use href="#m5" x="195.2" y="117.9"/><use href="#m5" x="196.4" y="117.6"/><use href="#m5" x="197.6" y="117.4"/><use href="#m5" x="198.8" y="117.2"/><use href="#m5" x="200" y="117"/><use href="#m5" x="201.2" y="116.8"/><use href="#m5" x="202.4" y="116.6"/><use href="#m5" x="203.6" y="116.5"/><use href="#m5" x="204.8" y="116.3"/><use href="#m5" x="206" y="116.1"/><use href="#m5" x="207.2" y="116"/><use href="#m5" x="208.4" y="115.9"/><use href="#m5" x="209.6" y="115.7"/><use href="#m5" x="210.8" y="115.6"/><use href="#m5" x="212" y="115.5"/><use href="#m5" x="213.2" y="115.3"/><use href="#m5" x="214.4" y="115.2"/><use href="#m5" x="215.6" y="115.1"/><use href="#m5" x="216.8" y="115"/><use href="#m5" x="218" y="114.9"/><use href="#m5" x="219.2" y="114.8"/><use href="#m5" x="220.4" y="114.8"/><use href="#m5" x="221.6" y="114.7"/><use href="#m5" x="222.8" y="114.6"/><use href="#m5" x="224" y="114.6"/><use href="#m5" x="225.2" y="114.5"/><use href="#m5" x="226.4" y="114.4"/><use href="#m5" x="227.6" y="114.4"/><use href="#m5" x="228.8" y="114.3"/><use href="#m5" x="230" y="114.3"/><use href="#m5" x="231.2" y="114.2"/><use href="#m5" x="232.4" y="114.2"/><use href="#m5" x="233.6" y="114.1"/><use href="#m5" x="234.8" y="114.1"/><use href="#m5" x="236" y="114"/><use href="#m5" x="237.2" y="114"/><use href="#m5" x="238.4" y="114"/><use href="#m5" x="239.6" y="114"/><use href="#m5" x="240.8" y="114"/><use href="#m5" x="242" y="114"/><use href="#m5" x="243.2" y="114"/><use href="#m5" x="244.4" y="114"/><use href="#m5" x="245.6" y="114"/><use href="#m5" x="246.8" y="114"/><use href="#m5" x="248" y="114"/><use href="#m5" x="249.2" y="114"/><use href="#m5" x="250.4" y="114"/><use href="#m5" x="251.6" y="114"/><use href="#m5" x="252.8" y="114"/><use href="#m5" x="254" y="114"/><use href="#m5" x="255.2" y="114"/><use href="#m5" x="256.4" y="114"/><use href="#m5" x="257.6" y="114"/><use href="#m5" x="258.8" y="114"/><use href="#m5" x="260" y="114"/><use href="#m5" x="261.2" y="114"/><use href="#m5" x="262.4" y="114"/><use href="#m5" x="263.6" y="114"/><use href="#m5" x="264.8" y="114"/><use href="#m5" x="266" y="114"/><use href="#m5" x="267.2" y="114"/><use href="#m5" x="268.4" y="114"/><use href="#m5" x="269.6" y="114"/><use href="#m5" x="270.8" y="114"/><use href="#m5" x="272" y="114"/><use href="#m5" x="273.2" y="114"/><use href="#m5" x="274.4" y="113.9"/><use href="#m5" x="275.6" y="113.9"/><use href="#m5" x="276.8" y="113.9"/><use href="#m5" x="278" y="113.9"/><use href="#m5" x="279.2" y="113.9"/><use href="#m5" x="280.4" y="113.9"/><use href="#m5" x="281.6" y="113.9"/><use href="#m5" x="282.8" y="113.9"/><use href="#m5" x="284" y="113.9"/><use href="#m5" x="285.2" y="113.9"/><use href="#m5" x="286.4" y="113.8"/><use href="#m5" x="287.6" y="113.8"/><use href="#m5" x="288.8" y="113.8"/><use href="#m5" x="290" y="113.8"/><use href="#m5" x="291.2" y="113.8"/><use href="#m5" x="292.4" y="113.8"/><use href="#m5" x="293.6" y="113.7"/><use href="#m5" x="294.8" y="113.7"/><use href="#m5" x="296" y="113.7"/><use href="#m5" x="297.2" y="113.6"/><use href="#m5" x="298.4" y="113.6"/><use href="#m5" x="299.6" y="113.5"/><use href="#m5" x="300.8" y="113.5"/><use href="#m5" x="302" y="113.4"/><use href="#m5" x="303.2" y="113.4"/><use href="#m5" x="304.4" y="113.3"/><use href="#m5" x="305.6" y="113.3"/><use href="#m5" x="306.8" y="113.2"/><use href="#m5" x="308" y="113.1"/><use href="#m5" x="309.2" y="113"/><use href="#m5" x="310.4" y="112.9"/><use href="#m5" x="311.6" y="112.8"/><use href="#m5" x="312.8" y="112.7"/><use href="#m5" x="314" y="112.6"/><use href="#m5" x="315.2" y="112.5"/><use href="#m5" x="316.4" y="112.3"/><use href="#m5" x="317.6" y="112.2"/><use href="#m5" x="318.8" y="112"/><use href="#m5" x="320" y="111.8"/><use href="#m5" x="321.2" y="111.6"/><use href="#m5" x="322.4" y="111.3"/><use href="#m5" x="324.5" y="110.9"/></g>
<g fill="#fff" stroke="#333" stroke-width="0.45"><use href="#m6" x="116" y="186"/><use href="#m6" x="117.2" y="184.9"/><use href="#m6" x="118.3" y="183.8"/><use href="#m6" x="119.5" y="182.6"/><use href="#m6" x="120.6" y="181.4"/><use href="#m6" x="121.8" y="180.2"/><use href="#m6" x="122.9" y="178.9"/><use href="#m6" x="124.1" y="177.6"/><use href="#m6" x="125.2" y="176.3"/><use href="#m6" x="126.4" y="174.9"/><use href="#m6" x="127.5" y="173.4"/><use href="#m6" x="128.7" y="171.9"/><use href="#m6" x="129.8" y="170.3"/><use href="#m6" x="131" y="168.6"/><use href="#m6" x="132.1" y="166.7"/><use href="#m6" x="133.3" y="164.6"/><use href="#m6" x="134.4" y="162.5"/><use href="#m6" x="135.6" y="160.3"/><use href="#m6" x="136.7" y="158.1"/><use href="#m6" x="137.9" y="155.9"/><use href="#m6" x="139" y="153.7"/><use href="#m6" x="140.2" y="151.5"/><use href="#m6" x="141.3" y="149.5"/><use href="#m6" x="142.5" y="147.5"/><use href="#m6" x="143.6" y="145.5"/><use href="#m6" x="144.8" y="143.5"/><use href="#m6" x="145.9" y="141.5"/><use href="#m6" x="147.1" y="139.6"/><use href="#m6" x="148.2" y="137.7"/><use href="#m6" x="149.4" y="135.8"/><use href="#m6" x="150.5" y="133.9"/><use href="#m6" x="151.7" y="132.1"/><use href="#m6" x="152.8" y="130.3"/><use href="#m6" x="154" y="128.5"/><use href="#m6" x="155.1" y="126.6"/><use href="#m6" x="156.3" y="124.8"/><use href="#m6" x="157.4" y="123"/><use href="#m6" x="158.6" y="121.3"/><use href="#m6" x="159.7" y="119.9"/><use href="#m6" x="160.9" y="118.6"/><use href="#m6" x="162" y="117.3"/><use href="#m6" x="163.2" y="116.2"/><use href="#m6" x="164.3" y="115.1"/><use href="#m6" x="165.5" y="114.1"/><use href="#m6" x="166.6" y="113.1"/><use href="#m6" x="167.8" y="112.2"/><use href="#m6" x="168.9" y="111.3"/><use href="#m6" x="170.1" y="110.5"/><use href="#m6" x="171.2" y="109.7"/><use href="#m6" x="172.4" y="108.9"/><use href="#m6" x="173.5" y="108.1"/><use href="#m6" x="174.7" y="107.4"/><use href="#m6" x="175.8" y="106.8"/><use href="#m6" x="177" y="106.1"/><use href="#m6" x="178.1" y="105.5"/><use href="#m6" x="179.3" y="104.9"/><use href="#m6" x="180.4" y="104.4"/><use href="#m6" x="181.6" y="103.9"/><use href="#m6" x="182.7" y="103.4"/><use href="#m6" x="183.9" y="102.9"/><use href="#m6" x="185" y="102.5"/><use href="#m6" x="186.2" y="102"/><use href="#m6" x="187.3" y="101.6"/><use href="#m6" x="188.5" y="101.2"/><use href="#m6" x="189.6" y="100.8"/><use href="#m6" x="190.8" y="100.4"/><use href="#m6" x="191.9" y="100"/><use href="#m6" x="193.1" y="99.6"/><use href="#m6" x="194.2" y="99.2"/><use href="#m6" x="195.4" y="98.9"/><use href="#m6" x="196.5" y="98.6"/><use href="#m6" x="197.7" y="98.2"/><use href="#m6" x="198.8" y="97.9"/><use href="#m6" x="200" y="97.6"/><use href="#m6" x="201.1" y="97.3"/><use href="#m6" x="202.3" y="97"/><use href="#m6" x="203.4" y="96.7"/><use href="#m6" x="204.6" y="96.5"/><use href="#m6" x="205.7" y="96.2"/><use href="#m6" x="206.9" y="95.9"/><use href="#m6" x="208" y="95.7"/><use href="#m6" x="209.2" y="95.4"/><use href="#m6" x="210.3" y="95.2"/><use href="#m6" x="211.5" y="94.9"/><use href="#m6" x="212.6" y="94.7"/><use href="#m6" x="213.8" y="94.5"/><use href="#m6" x="214.9" y="94.3"/><use href="#m6" x="216.1" y="94.1"/><use href="#m6" x="217.2" y="93.9"/><use href="#m6" x="218.4" y="93.7"/><use href="#m6" x="219.5" y="93.6"/><use href="#m6" x="220.7" y="93.4"/><use href="#m6" x="221.8" y="93.3"/><use href="#m6" x="223" y="93.1"/><use href="#m6" x="224.1" y="93"/><use href="#m6" x="225.3" y="92.9"/><use href="#m6" x="226.4" y="92.7"/><use href="#m6" x="227.6" y="92.6"/><use href="#m6" x="228.7" y="92.5"/><use href="#m6" x="229.9" y="92.4"/><use href="#m6" x="231" y="92.3"/><use href="#m6" x="232.2" y="92.2"/><use href="#m6" x="233.3" y="92.1"/><use href="#m6" x="234.5" y="92"/><use href="#m6" x="235.6" y="91.9"/><use href="#m6" x="236.8" y="91.8"/><use href="#m6" x="237.9" y="91.7"/><use href="#m6" x="239.1" y="91.7"/><use href="#m6" x="240.2" y="91.6"/><use href="#m6" x="241.4" y="91.5"/><use href="#m6" x="242.5" y="91.5"/><use href="#m6" x="243.7" y="91.4"/><use href="#m6" x="244.8" y="91.4"/><use href="#m6" x="246" y="91.3"/><use href="#m6" x="247.1" y="91.3"/><use href="#m6" x="248.3" y="91.2"/><use href="#m6" x="249.4" y="91.2"/><use href="#m6" x="250.6" y="91.2"/><use href="#m6" x="251.7" y="91.1"/><use href="#m6" x="252.9" y="91.1"/><use href="#m6" x="254" y="91"/><use href="#m6" x="255.2" y="91"/><use href="#m6" x="256.3" y="91"/><use href="#m6" x="257.5" y="91"/><use href="#m6" x="258.6" y="90.9"/><use href="#m6" x="259.8" y="90.9"/><use href="#m6" x="260.9" y="90.9"/><use href="#m6" x="262.1" y="90.9"/><use href="#m6" x="263.2" y="90.8"/><use href="#m6" x="264.4" y="90.8"/><use href="#m6" x="265.5" y="90.8"/><use href="#m6" x="266.7" y="90.8"/><use href="#m6" x="267.8" y="90.8"/><use href="#m6" x="269" y="90.8"/><use href="#m6" x="270.1" y="90.8"/><use href="#m6" x="271.3" y="90.7"/><use href="#m6" x="272.4" y="90.7"/><use href="#m6" x="273.6" y="90.7"/><use href="#m6" x="274.7" y="90.7"/><use href="#m6" x="275.9" y="90.7"/><use href="#m6" x="277" y="90.7"/><use href="#m6" x="278.2" y="90.7"/><use href="#m6" x="279.3" y="90.7"/><use href="#m6" x="280.5" y="90.6"/><use href="#m6" x="281.6" y="90.6"/><use href="#m6" x="282.8" y="90.6"/><use href="#m6" x="283.9" y="90.6"/><use href="#m6" x="285.1" y="90.6"/><use href="#m6" x="286.2" y="90.6"/><use href="#m6" x="287.4" y="90.5"/><use href="#m6" x="288.5" y="90.5"/><use href="#m6" x="289.7" y="90.5"/><use href="#m6" x="290.8" y="90.5"/><use href="#m6" x="292" y="90.5"/><use href="#m6" x="293.1" y="90.4"/><use href="#m6" x="294.3" y="90.4"/><use href="#m6" x="295.4" y="90.4"/><use href="#m6" x="296.6" y="90.3"/><use href="#m6" x="297.7" y="90.3"/><use href="#m6" x="298.9" y="90.3"/><use href="#m6" x="300" y="90.2"/><use href="#m6" x="301.2" y="90.2"/><use href="#m6" x="302.3" y="90.1"/><use href="#m6" x="303.5" y="90.1"/><use href="#m6" x="304.6" y="90"/><use href="#m6" x="305.8" y="90"/><use href="#m6" x="306.9" y="89.8"/><use href="#m6" x="308.1" y="89.7"/><use href="#m6" x="309.2" y="89.6"/><use href="#m6" x="310.4" y="89.4"/><use href="#m6" x="311.5" y="89.2"/><use href="#m6" x="312.7" y="89"/><use href="#m6" x="313.8" y="88.8"/><use href="#m6" x="315" y="88.5"/><use href="#m6" x="316.1" y="88.2"/><use href="#m6" x="317.3" y="87.9"/><use href="#m6" x="318.4" y="87.5"/><use href="#m6" x="319.6" y="87.1"/><use href="#m6" x="320.7" y="86.7"/><use href="#m6" x="321.9" y="86.2"/><use href="#m6" x="323" y="85.7"/><use href="#m6" x="324.5" y="85"/></g>
<g fill="#fff" stroke="#1a1a1a" stroke-width="0.75"><use href="#m1" x="116" y="193.6"/><use href="#m1" x="117.2" y="193.5"/><use href="#m1" x="118.4" y="193.4"/><use href="#m1" x="119.6" y="193.3"/><use href="#m1" x="120.8" y="193.3"/><use href="#m1" x="122" y="193.2"/><use href="#m1" x="123.2" y="193.2"/><use href="#m1" x="124.4" y="193.1"/><use href="#m1" x="125.6" y="193.1"/><use href="#m1" x="126.8" y="193"/><use href="#m1" x="128" y="193"/><use href="#m1" x="129.2" y="192.9"/><use href="#m1" x="130.4" y="192.9"/><use href="#m1" x="131.6" y="192.9"/><use href="#m1" x="132.8" y="192.8"/><use href="#m1" x="134" y="192.8"/><use href="#m1" x="135.2" y="192.8"/><use href="#m1" x="136.4" y="192.8"/><use href="#m1" x="137.6" y="192.7"/><use href="#m1" x="138.8" y="192.7"/><use href="#m1" x="140" y="192.7"/><use href="#m1" x="141.2" y="192.7"/><use href="#m1" x="142.4" y="192.7"/><use href="#m1" x="143.6" y="192.7"/><use href="#m1" x="144.8" y="192.6"/><use href="#m1" x="146" y="192.6"/><use href="#m1" x="147.2" y="192.6"/><use href="#m1" x="148.4" y="192.6"/><use href="#m1" x="149.6" y="192.6"/><use href="#m1" x="150.8" y="192.6"/><use href="#m1" x="152" y="192.6"/><use href="#m1" x="153.2" y="192.6"/><use href="#m1" x="154.4" y="192.6"/><use href="#m1" x="155.6" y="192.6"/><use href="#m1" x="156.8" y="192.6"/><use href="#m1" x="158" y="192.6"/><use href="#m1" x="159.2" y="192.6"/><use href="#m1" x="160.4" y="192.5"/><use href="#m1" x="161.6" y="192.5"/><use href="#m1" x="162.8" y="192.5"/><use href="#m1" x="164" y="192.5"/><use href="#m1" x="165.2" y="192.5"/><use href="#m1" x="166.4" y="192.5"/><use href="#m1" x="167.6" y="192.5"/><use href="#m1" x="168.8" y="192.5"/><use href="#m1" x="170" y="192.5"/><use href="#m1" x="171.2" y="192.5"/><use href="#m1" x="172.4" y="192.5"/><use href="#m1" x="173.6" y="192.5"/><use href="#m1" x="174.8" y="192.5"/><use href="#m1" x="176" y="192.5"/><use href="#m1" x="177.2" y="192.5"/><use href="#m1" x="178.4" y="192.5"/><use href="#m1" x="179.6" y="192.5"/><use href="#m1" x="180.8" y="192.5"/><use href="#m1" x="182" y="192.5"/><use href="#m1" x="183.2" y="192.5"/><use href="#m1" x="184.4" y="192.5"/><use href="#m1" x="185.6" y="192.5"/><use href="#m1" x="186.8" y="192.5"/><use href="#m1" x="188" y="192.5"/><use href="#m1" x="189.2" y="192.5"/><use href="#m1" x="190.4" y="192.5"/><use href="#m1" x="191.6" y="192.5"/><use href="#m1" x="192.8" y="192.5"/><use href="#m1" x="194" y="192.5"/><use href="#m1" x="195.2" y="192.5"/><use href="#m1" x="196.4" y="192.5"/><use href="#m1" x="197.6" y="192.5"/><use href="#m1" x="198.8" y="192.5"/><use href="#m1" x="200" y="192.5"/><use href="#m1" x="201.2" y="192.5"/><use href="#m1" x="202.4" y="192.5"/><use href="#m1" x="203.6" y="192.5"/><use href="#m1" x="204.8" y="192.5"/><use href="#m1" x="206" y="192.5"/><use href="#m1" x="207.2" y="192.5"/><use href="#m1" x="208.4" y="192.5"/><use href="#m1" x="209.6" y="192.5"/><use href="#m1" x="210.8" y="192.5"/><use href="#m1" x="212" y="192.5"/><use href="#m1" x="213.2" y="192.5"/><use href="#m1" x="214.4" y="192.5"/><use href="#m1" x="215.6" y="192.5"/><use href="#m1" x="216.8" y="192.5"/><use href="#m1" x="218" y="192.5"/><use href="#m1" x="219.2" y="192.5"/><use href="#m1" x="220.4" y="192.5"/><use href="#m1" x="221.6" y="192.5"/><use href="#m1" x="222.8" y="192.5"/><use href="#m1" x="224" y="192.5"/><use href="#m1" x="225.2" y="192.5"/><use href="#m1" x="226.4" y="192.5"/><use href="#m1" x="227.6" y="192.5"/><use href="#m1" x="228.8" y="192.5"/><use href="#m1" x="230" y="192.5"/><use href="#m1" x="231.2" y="192.5"/><use href="#m1" x="232.4" y="192.5"/><use href="#m1" x="233.6" y="192.5"/><use href="#m1" x="234.8" y="192.5"/><use href="#m1" x="236" y="192.5"/><use href="#m1" x="237.2" y="192.5"/><use href="#m1" x="238.4" y="192.5"/><use href="#m1" x="239.6" y="192.5"/><use href="#m1" x="240.8" y="192.5"/><use href="#m1" x="242" y="192.5"/><use href="#m1" x="243.2" y="192.5"/><use href="#m1" x="244.4" y="192.5"/><use href="#m1" x="245.6" y="192.5"/><use href="#m1" x="246.8" y="192.5"/><use href="#m1" x="248" y="192.5"/><use href="#m1" x="249.2" y="192.5"/><use href="#m1" x="250.4" y="192.5"/><use href="#m1" x="251.6" y="192.5"/><use href="#m1" x="252.8" y="192.5"/><use href="#m1" x="254" y="192.5"/><use href="#m1" x="255.2" y="192.5"/><use href="#m1" x="256.4" y="192.5"/><use href="#m1" x="257.6" y="192.5"/><use href="#m1" x="258.8" y="192.5"/><use href="#m1" x="260" y="192.5"/><use href="#m1" x="261.2" y="192.5"/><use href="#m1" x="262.4" y="192.5"/><use href="#m1" x="263.6" y="192.5"/><use href="#m1" x="264.8" y="192.5"/><use href="#m1" x="266" y="192.5"/><use href="#m1" x="267.2" y="192.5"/><use href="#m1" x="268.4" y="192.5"/><use href="#m1" x="269.6" y="192.5"/><use href="#m1" x="270.8" y="192.5"/><use href="#m1" x="272" y="192.5"/><use href="#m1" x="273.2" y="192.5"/><use href="#m1" x="274.4" y="192.5"/><use href="#m1" x="275.6" y="192.5"/><use href="#m1" x="276.8" y="192.5"/><use href="#m1" x="278" y="192.5"/><use href="#m1" x="279.2" y="192.5"/><use href="#m1" x="280.4" y="192.5"/><use href="#m1" x="281.6" y="192.5"/><use href="#m1" x="282.8" y="192.5"/><use href="#m1" x="284" y="192.5"/><use href="#m1" x="285.2" y="192.5"/><use href="#m1" x="286.4" y="192.5"/><use href="#m1" x="287.6" y="192.5"/><use href="#m1" x="288.8" y="192.5"/><use href="#m1" x="290" y="192.5"/><use href="#m1" x="291.2" y="192.5"/><use href="#m1" x="292.4" y="192.5"/><use href="#m1" x="293.6" y="192.5"/><use href="#m1" x="294.8" y="192.5"/><use href="#m1" x="296" y="192.5"/><use href="#m1" x="297.2" y="192.5"/><use href="#m1" x="298.4" y="192.5"/><use href="#m1" x="299.6" y="192.4"/><use href="#m1" x="300.8" y="192.4"/><use href="#m1" x="302" y="192.4"/><use href="#m1" x="303.2" y="192.4"/><use href="#m1" x="304.4" y="192.4"/><use href="#m1" x="305.6" y="192.4"/><use href="#m1" x="306.8" y="192.4"/><use href="#m1" x="308" y="192.4"/><use href="#m1" x="309.2" y="192.4"/><use href="#m1" x="310.4" y="192.3"/><use href="#m1" x="311.6" y="192.3"/><use href="#m1" x="312.8" y="192.3"/><use href="#m1" x="314" y="192.3"/><use href="#m1" x="315.2" y="192.2"/><use href="#m1" x="316.4" y="192.2"/><use href="#m1" x="317.6" y="192.1"/><use href="#m1" x="318.8" y="192.1"/><use href="#m1" x="320" y="192"/><use href="#m1" x="321.2" y="191.9"/><use href="#m1" x="322.4" y="191.9"/><use href="#m1" x="324.5" y="191.7"/></g>
<g fill="#fff" stroke="#1a1a1a" stroke-width="0.75"><use href="#m0" x="116" y="193.2"/><use href="#m0" x="117.2" y="193"/><use href="#m0" x="118.4" y="192.9"/><use href="#m0" x="119.6" y="192.8"/><use href="#m0" x="120.8" y="192.7"/><use href="#m0" x="122" y="192.7"/><use href="#m0" x="123.2" y="192.6"/><use href="#m0" x="124.4" y="192.5"/><use href="#m0" x="125.6" y="192.4"/><use href="#m0" x="126.8" y="192.4"/><use href="#m0" x="128" y="192.3"/><use href="#m0" x="129.2" y="192.3"/><use href="#m0" x="130.4" y="192.2"/><use href="#m0" x="131.6" y="192.2"/><use href="#m0" x="132.8" y="192.1"/><use href="#m0" x="134" y="192.1"/><use href="#m0" x="135.2" y="192.1"/><use href="#m0" x="136.4" y="192"/><use href="#m0" x="137.6" y="192"/><use href="#m0" x="138.8" y="192"/><use href="#m0" x="140" y="192"/><use href="#m0" x="141.2" y="191.9"/><use href="#m0" x="142.4" y="191.9"/><use href="#m0" x="143.6" y="191.9"/><use href="#m0" x="144.8" y="191.9"/><use href="#m0" x="146" y="191.9"/><use href="#m0" x="147.2" y="191.9"/><use href="#m0" x="148.4" y="191.8"/><use href="#m0" x="149.6" y="191.8"/><use href="#m0" x="150.8" y="191.8"/><use href="#m0" x="152" y="191.8"/><use href="#m0" x="153.2" y="191.8"/><use href="#m0" x="154.4" y="191.8"/><use href="#m0" x="155.6" y="191.8"/><use href="#m0" x="156.8" y="191.8"/><use href="#m0" x="158" y="191.8"/><use href="#m0" x="159.2" y="191.8"/><use href="#m0" x="160.4" y="191.8"/><use href="#m0" x="161.6" y="191.8"/><use href="#m0" x="162.8" y="191.8"/><use href="#m0" x="164" y="191.7"/><use href="#m0" x="165.2" y="191.7"/><use href="#m0" x="166.4" y="191.7"/><use href="#m0" x="167.6" y="191.7"/><use href="#m0" x="168.8" y="191.7"/><use href="#m0" x="170" y="191.7"/><use href="#m0" x="171.2" y="191.7"/><use href="#m0" x="172.4" y="191.7"/><use href="#m0" x="173.6" y="191.7"/><use href="#m0" x="174.8" y="191.7"/><use href="#m0" x="176" y="191.7"/><use href="#m0" x="177.2" y="191.7"/><use href="#m0" x="178.4" y="191.7"/><use href="#m0" x="179.6" y="191.7"/><use href="#m0" x="180.8" y="191.7"/><use href="#m0" x="182" y="191.7"/><use href="#m0" x="183.2" y="191.7"/><use href="#m0" x="184.4" y="191.7"/><use href="#m0" x="185.6" y="191.7"/><use href="#m0" x="186.8" y="191.7"/><use href="#m0" x="188" y="191.7"/><use href="#m0" x="189.2" y="191.7"/><use href="#m0" x="190.4" y="191.7"/><use href="#m0" x="191.6" y="191.7"/><use href="#m0" x="192.8" y="191.7"/><use href="#m0" x="194" y="191.7"/><use href="#m0" x="195.2" y="191.7"/><use href="#m0" x="196.4" y="191.7"/><use href="#m0" x="197.6" y="191.7"/><use href="#m0" x="198.8" y="191.7"/><use href="#m0" x="200" y="191.7"/><use href="#m0" x="201.2" y="191.7"/><use href="#m0" x="202.4" y="191.7"/><use href="#m0" x="203.6" y="191.7"/><use href="#m0" x="204.8" y="191.7"/><use href="#m0" x="206" y="191.7"/><use href="#m0" x="207.2" y="191.7"/><use href="#m0" x="208.4" y="191.7"/><use href="#m0" x="209.6" y="191.7"/><use href="#m0" x="210.8" y="191.7"/><use href="#m0" x="212" y="191.7"/><use href="#m0" x="213.2" y="191.7"/><use href="#m0" x="214.4" y="191.7"/><use href="#m0" x="215.6" y="191.7"/><use href="#m0" x="216.8" y="191.7"/><use href="#m0" x="218" y="191.7"/><use href="#m0" x="219.2" y="191.7"/><use href="#m0" x="220.4" y="191.7"/><use href="#m0" x="221.6" y="191.7"/><use href="#m0" x="222.8" y="191.7"/><use href="#m0" x="224" y="191.7"/><use href="#m0" x="225.2" y="191.7"/><use href="#m0" x="226.4" y="191.7"/><use href="#m0" x="227.6" y="191.7"/><use href="#m0" x="228.8" y="191.7"/><use href="#m0" x="230" y="191.7"/><use href="#m0" x="231.2" y="191.7"/><use href="#m0" x="232.4" y="191.7"/><use href="#m0" x="233.6" y="191.7"/><use href="#m0" x="234.8" y="191.7"/><use href="#m0" x="236" y="191.7"/><use href="#m0" x="237.2" y="191.7"/><use href="#m0" x="238.4" y="191.7"/><use href="#m0" x="239.6" y="191.7"/><use href="#m0" x="240.8" y="191.7"/><use href="#m0" x="242" y="191.7"/><use href="#m0" x="243.2" y="191.7"/><use href="#m0" x="244.4" y="191.7"/><use href="#m0" x="245.6" y="191.7"/><use href="#m0" x="246.8" y="191.7"/><use href="#m0" x="248" y="191.7"/><use href="#m0" x="249.2" y="191.7"/><use href="#m0" x="250.4" y="191.7"/><use href="#m0" x="251.6" y="191.7"/><use href="#m0" x="252.8" y="191.7"/><use href="#m0" x="254" y="191.7"/><use href="#m0" x="255.2" y="191.7"/><use href="#m0" x="256.4" y="191.7"/><use href="#m0" x="257.6" y="191.7"/><use href="#m0" x="258.8" y="191.7"/><use href="#m0" x="260" y="191.7"/><use href="#m0" x="261.2" y="191.7"/><use href="#m0" x="262.4" y="191.7"/><use href="#m0" x="263.6" y="191.7"/><use href="#m0" x="264.8" y="191.7"/><use href="#m0" x="266" y="191.7"/><use href="#m0" x="267.2" y="191.7"/><use href="#m0" x="268.4" y="191.7"/><use href="#m0" x="269.6" y="191.7"/><use href="#m0" x="270.8" y="191.7"/><use href="#m0" x="272" y="191.7"/><use href="#m0" x="273.2" y="191.7"/><use href="#m0" x="274.4" y="191.7"/><use href="#m0" x="275.6" y="191.7"/><use href="#m0" x="276.8" y="191.7"/><use href="#m0" x="278" y="191.7"/><use href="#m0" x="279.2" y="191.7"/><use href="#m0" x="280.4" y="191.7"/><use href="#m0" x="281.6" y="191.7"/><use href="#m0" x="282.8" y="191.7"/><use href="#m0" x="284" y="191.7"/><use href="#m0" x="285.2" y="191.7"/><use href="#m0" x="286.4" y="191.7"/><use href="#m0" x="287.6" y="191.7"/><use href="#m0" x="288.8" y="191.7"/><use href="#m0" x="290" y="191.7"/><use href="#m0" x="291.2" y="191.7"/><use href="#m0" x="292.4" y="191.7"/><use href="#m0" x="293.6" y="191.7"/><use href="#m0" x="294.8" y="191.7"/><use href="#m0" x="296" y="191.7"/><use href="#m0" x="297.2" y="191.7"/><use href="#m0" x="298.4" y="191.7"/><use href="#m0" x="299.6" y="191.6"/><use href="#m0" x="300.8" y="191.6"/><use href="#m0" x="302" y="191.6"/><use href="#m0" x="303.2" y="191.6"/><use href="#m0" x="304.4" y="191.6"/><use href="#m0" x="305.6" y="191.6"/><use href="#m0" x="306.8" y="191.6"/><use href="#m0" x="308" y="191.6"/><use href="#m0" x="309.2" y="191.6"/><use href="#m0" x="310.4" y="191.5"/><use href="#m0" x="311.6" y="191.5"/><use href="#m0" x="312.8" y="191.5"/><use href="#m0" x="314" y="191.5"/><use href="#m0" x="315.2" y="191.4"/><use href="#m0" x="316.4" y="191.4"/><use href="#m0" x="317.6" y="191.3"/><use href="#m0" x="318.8" y="191.3"/><use href="#m0" x="320" y="191.2"/><use href="#m0" x="321.2" y="191.1"/><use href="#m0" x="322.4" y="191.1"/><use href="#m0" x="324.5" y="190.9"/></g>
<g fill="#fff" stroke="#1a1a1a" stroke-width="0.75"><use href="#m4" x="116" y="192.6"/><use href="#m4" x="117.2" y="192.5"/><use href="#m4" x="118.4" y="192.3"/><use href="#m4" x="119.6" y="192.2"/><use href="#m4" x="120.8" y="192.1"/><use href="#m4" x="122" y="191.9"/><use href="#m4" x="123.2" y="191.8"/><use href="#m4" x="124.4" y="191.8"/><use href="#m4" x="125.6" y="191.7"/><use href="#m4" x="126.8" y="191.6"/><use href="#m4" x="128" y="191.5"/><use href="#m4" x="129.2" y="191.4"/><use href="#m4" x="130.4" y="191.4"/><use href="#m4" x="131.6" y="191.3"/><use href="#m4" x="132.8" y="191.3"/><use href="#m4" x="134" y="191.2"/><use href="#m4" x="135.2" y="191.2"/><use href="#m4" x="136.4" y="191.1"/><use href="#m4" x="137.6" y="191.1"/><use href="#m4" x="138.8" y="191.1"/><use href="#m4" x="140" y="191"/><use href="#m4" x="141.2" y="191"/><use href="#m4" x="142.4" y="191"/><use href="#m4" x="143.6" y="191"/><use href="#m4" x="144.8" y="190.9"/><use href="#m4" x="146" y="190.9"/><use href="#m4" x="147.2" y="190.9"/><use href="#m4" x="148.4" y="190.9"/><use href="#m4" x="149.6" y="190.9"/><use href="#m4" x="150.8" y="190.9"/><use href="#m4" x="152" y="190.8"/><use href="#m4" x="153.2" y="190.8"/><use href="#m4" x="154.4" y="190.8"/><use href="#m4" x="155.6" y="190.8"/><use href="#m4" x="156.8" y="190.8"/><use href="#m4" x="158" y="190.8"/><use href="#m4" x="159.2" y="190.8"/><use href="#m4" x="160.4" y="190.8"/><use href="#m4" x="161.6" y="190.8"/><use href="#m4" x="162.8" y="190.8"/><use href="#m4" x="164" y="190.8"/><use href="#m4" x="165.2" y="190.8"/><use href="#m4" x="166.4" y="190.8"/><use href="#m4" x="167.6" y="190.7"/><use href="#m4" x="168.8" y="190.7"/><use href="#m4" x="170" y="190.7"/><use href="#m4" x="171.2" y="190.7"/><use href="#m4" x="172.4" y="190.7"/><use href="#m4" x="173.6" y="190.7"/><use href="#m4" x="174.8" y="190.7"/><use href="#m4" x="176" y="190.7"/><use href="#m4" x="177.2" y="190.7"/><use href="#m4" x="178.4" y="190.7"/><use href="#m4" x="179.6" y="190.7"/><use href="#m4" x="180.8" y="190.7"/><use href="#m4" x="182" y="190.7"/><use href="#m4" x="183.2" y="190.7"/><use href="#m4" x="184.4" y="190.7"/><use href="#m4" x="185.6" y="190.7"/><use href="#m4" x="186.8" y="190.7"/><use href="#m4" x="188" y="190.7"/><use href="#m4" x="189.2" y="190.7"/><use href="#m4" x="190.4" y="190.7"/><use href="#m4" x="191.6" y="190.7"/><use href="#m4" x="192.8" y="190.7"/><use href="#m4" x="194" y="190.7"/><use href="#m4" x="195.2" y="190.7"/><use href="#m4" x="196.4" y="190.7"/><use href="#m4" x="197.6" y="190.7"/><use href="#m4" x="198.8" y="190.7"/><use href="#m4" x="200" y="190.7"/><use href="#m4" x="201.2" y="190.7"/><use href="#m4" x="202.4" y="190.7"/><use href="#m4" x="203.6" y="190.7"/><use href="#m4" x="204.8" y="190.7"/><use href="#m4" x="206" y="190.7"/><use href="#m4" x="207.2" y="190.7"/><use href="#m4" x="208.4" y="190.7"/><use href="#m4" x="209.6" y="190.7"/><use href="#m4" x="210.8" y="190.7"/><use href="#m4" x="212" y="190.7"/><use href="#m4" x="213.2" y="190.7"/><use href="#m4" x="214.4" y="190.7"/><use href="#m4" x="215.6" y="190.7"/><use href="#m4" x="216.8" y="190.7"/><use href="#m4" x="218" y="190.7"/><use href="#m4" x="219.2" y="190.7"/><use href="#m4" x="220.4" y="190.7"/><use href="#m4" x="221.6" y="190.7"/><use href="#m4" x="222.8" y="190.7"/><use href="#m4" x="224" y="190.7"/><use href="#m4" x="225.2" y="190.7"/><use href="#m4" x="226.4" y="190.7"/><use href="#m4" x="227.6" y="190.7"/><use href="#m4" x="228.8" y="190.7"/><use href="#m4" x="230" y="190.7"/><use href="#m4" x="231.2" y="190.7"/><use href="#m4" x="232.4" y="190.7"/><use href="#m4" x="233.6" y="190.7"/><use href="#m4" x="234.8" y="190.7"/><use href="#m4" x="236" y="190.7"/><use href="#m4" x="237.2" y="190.7"/><use href="#m4" x="238.4" y="190.7"/><use href="#m4" x="239.6" y="190.7"/><use href="#m4" x="240.8" y="190.7"/><use href="#m4" x="242" y="190.7"/><use href="#m4" x="243.2" y="190.7"/><use href="#m4" x="244.4" y="190.7"/><use href="#m4" x="245.6" y="190.7"/><use href="#m4" x="246.8" y="190.7"/><use href="#m4" x="248" y="190.7"/><use href="#m4" x="249.2" y="190.7"/><use href="#m4" x="250.4" y="190.7"/><use href="#m4" x="251.6" y="190.7"/><use href="#m4" x="252.8" y="190.7"/><use href="#m4" x="254" y="190.7"/><use href="#m4" x="255.2" y="190.7"/><use href="#m4" x="256.4" y="190.7"/><use href="#m4" x="257.6" y="190.7"/><use href="#m4" x="258.8" y="190.7"/><use href="#m4" x="260" y="190.7"/><use href="#m4" x="261.2" y="190.7"/><use href="#m4" x="262.4" y="190.7"/><use href="#m4" x="263.6" y="190.7"/><use href="#m4" x="264.8" y="190.7"/><use href="#m4" x="266" y="190.7"/><use href="#m4" x="267.2" y="190.7"/><use href="#m4" x="268.4" y="190.7"/><use href="#m4" x="269.6" y="190.7"/><use href="#m4" x="270.8" y="190.7"/><use href="#m4" x="272" y="190.7"/><use href="#m4" x="273.2" y="190.7"/><use href="#m4" x="274.4" y="190.7"/><use href="#m4" x="275.6" y="190.7"/><use href="#m4" x="276.8" y="190.7"/><use href="#m4" x="278" y="190.7"/><use href="#m4" x="279.2" y="190.7"/><use href="#m4" x="280.4" y="190.7"/><use href="#m4" x="281.6" y="190.7"/><use href="#m4" x="282.8" y="190.7"/><use href="#m4" x="284" y="190.7"/><use href="#m4" x="285.2" y="190.7"/><use href="#m4" x="286.4" y="190.7"/><use href="#m4" x="287.6" y="190.7"/><use href="#m4" x="288.8" y="190.7"/><use href="#m4" x="290" y="190.7"/><use href="#m4" x="291.2" y="190.7"/><use href="#m4" x="292.4" y="190.7"/><use href="#m4" x="293.6" y="190.7"/><use href="#m4" x="294.8" y="190.7"/><use href="#m4" x="296" y="190.7"/><use href="#m4" x="297.2" y="190.7"/><use href="#m4" x="298.4" y="190.7"/><use href="#m4" x="299.6" y="190.6"/><use href="#m4" x="300.8" y="190.6"/><use href="#m4" x="302" y="190.6"/><use href="#m4" x="303.2" y="190.6"/><use href="#m4" x="304.4" y="190.6"/><use href="#m4" x="305.6" y="190.6"/><use href="#m4" x="306.8" y="190.6"/><use href="#m4" x="308" y="190.6"/><use href="#m4" x="309.2" y="190.6"/><use href="#m4" x="310.4" y="190.5"/><use href="#m4" x="311.6" y="190.5"/><use href="#m4" x="312.8" y="190.5"/><use href="#m4" x="314" y="190.5"/><use href="#m4" x="315.2" y="190.4"/><use href="#m4" x="316.4" y="190.4"/><use href="#m4" x="317.6" y="190.3"/><use href="#m4" x="318.8" y="190.3"/><use href="#m4" x="320" y="190.2"/><use href="#m4" x="321.2" y="190.1"/><use href="#m4" x="322.4" y="190.1"/><use href="#m4" x="324.5" y="189.9"/></g>
<g fill="#fff" stroke="#1a1a1a" stroke-width="0.75"><use href="#m1" x="116" y="192"/><use href="#m1" x="117.2" y="191.8"/><use href="#m1" x="118.4" y="191.6"/><use href="#m1" x="119.6" y="191.5"/><use href="#m1" x="120.8" y="191.3"/><use href="#m1" x="122" y="191.2"/><use href="#m1" x="123.2" y="191"/><use href="#m1" x="124.4" y="190.9"/><use href="#m1" x="125.6" y="190.8"/><use href="#m1" x="126.8" y="190.7"/><use href="#m1" x="128" y="190.6"/><use href="#m1" x="129.2" y="190.5"/><use href="#m1" x="130.4" y="190.5"/><use href="#m1" x="131.6" y="190.4"/><use href="#m1" x="132.8" y="190.3"/><use href="#m1" x="134" y="190.3"/><use href="#m1" x="135.2" y="190.2"/><use href="#m1" x="136.4" y="190.2"/><use href="#m1" x="137.6" y="190.1"/><use href="#m1" x="138.8" y="190.1"/><use href="#m1" x="140" y="190"/><use href="#m1" x="141.2" y="190"/><use href="#m1" x="142.4" y="190"/><use href="#m1" x="143.6" y="189.9"/><use href="#m1" x="144.8" y="189.9"/><use href="#m1" x="146" y="189.9"/><use href="#m1" x="147.2" y="189.9"/><use href="#m1" x="148.4" y="189.8"/><use href="#m1" x="149.6" y="189.8"/><use href="#m1" x="150.8" y="189.8"/><use href="#m1" x="152" y="189.8"/><use href="#m1" x="153.2" y="189.8"/><use href="#m1" x="154.4" y="189.8"/><use href="#m1" x="155.6" y="189.7"/><use href="#m1" x="156.8" y="189.7"/><use href="#m1" x="158" y="189.7"/><use href="#m1" x="159.2" y="189.7"/><use href="#m1" x="160.4" y="189.7"/><use href="#m1" x="161.6" y="189.7"/><use href="#m1" x="162.8" y="189.7"/><use href="#m1" x="164" y="189.7"/><use href="#m1" x="165.2" y="189.7"/><use href="#m1" x="166.4" y="189.7"/><use href="#m1" x="167.6" y="189.7"/><use href="#m1" x="168.8" y="189.7"/><use href="#m1" x="170" y="189.7"/><use href="#m1" x="171.2" y="189.6"/><use href="#m1" x="172.4" y="189.6"/><use href="#m1" x="173.6" y="189.6"/><use href="#m1" x="174.8" y="189.6"/><use href="#m1" x="176" y="189.6"/><use href="#m1" x="177.2" y="189.6"/><use href="#m1" x="178.4" y="189.6"/><use href="#m1" x="179.6" y="189.6"/><use href="#m1" x="180.8" y="189.6"/><use href="#m1" x="182" y="189.6"/><use href="#m1" x="183.2" y="189.6"/><use href="#m1" x="184.4" y="189.6"/><use href="#m1" x="185.6" y="189.6"/><use href="#m1" x="186.8" y="189.6"/><use href="#m1" x="188" y="189.6"/><use href="#m1" x="189.2" y="189.6"/><use href="#m1" x="190.4" y="189.6"/><use href="#m1" x="191.6" y="189.6"/><use href="#m1" x="192.8" y="189.6"/><use href="#m1" x="194" y="189.6"/><use href="#m1" x="195.2" y="189.6"/><use href="#m1" x="196.4" y="189.6"/><use href="#m1" x="197.6" y="189.6"/><use href="#m1" x="198.8" y="189.6"/><use href="#m1" x="200" y="189.6"/><use href="#m1" x="201.2" y="189.6"/><use href="#m1" x="202.4" y="189.6"/><use href="#m1" x="203.6" y="189.6"/><use href="#m1" x="204.8" y="189.6"/><use href="#m1" x="206" y="189.6"/><use href="#m1" x="207.2" y="189.6"/><use href="#m1" x="208.4" y="189.6"/><use href="#m1" x="209.6" y="189.6"/><use href="#m1" x="210.8" y="189.6"/><use href="#m1" x="212" y="189.6"/><use href="#m1" x="213.2" y="189.6"/><use href="#m1" x="214.4" y="189.6"/><use href="#m1" x="215.6" y="189.6"/><use href="#m1" x="216.8" y="189.6"/><use href="#m1" x="218" y="189.6"/><use href="#m1" x="219.2" y="189.6"/><use href="#m1" x="220.4" y="189.6"/><use href="#m1" x="221.6" y="189.6"/><use href="#m1" x="222.8" y="189.6"/><use href="#m1" x="224" y="189.6"/><use href="#m1" x="225.2" y="189.6"/><use href="#m1" x="226.4" y="189.6"/><use href="#m1" x="227.6" y="189.6"/><use href="#m1" x="228.8" y="189.6"/><use href="#m1" x="230" y="189.6"/><use href="#m1" x="231.2" y="189.6"/><use href="#m1" x="232.4" y="189.6"/><use href="#m1" x="233.6" y="189.6"/><use href="#m1" x="234.8" y="189.6"/><use href="#m1" x="236" y="189.6"/><use href="#m1" x="237.2" y="189.6"/><use href="#m1" x="238.4" y="189.6"/><use href="#m1" x="239.6" y="189.6"/><use href="#m1" x="240.8" y="189.6"/><use href="#m1" x="242" y="189.6"/><use href="#m1" x="243.2" y="189.6"/><use href="#m1" x="244.4" y="189.6"/><use href="#m1" x="245.6" y="189.6"/><use href="#m1" x="246.8" y="189.6"/><use href="#m1" x="248" y="189.6"/><use href="#m1" x="249.2" y="189.6"/><use href="#m1" x="250.4" y="189.6"/><use href="#m1" x="251.6" y="189.6"/><use href="#m1" x="252.8" y="189.6"/><use href="#m1" x="254" y="189.6"/><use href="#m1" x="255.2" y="189.6"/><use href="#m1" x="256.4" y="189.6"/><use href="#m1" x="257.6" y="189.6"/><use href="#m1" x="258.8" y="189.6"/><use href="#m1" x="260" y="189.6"/><use href="#m1" x="261.2" y="189.6"/><use href="#m1" x="262.4" y="189.6"/><use href="#m1" x="263.6" y="189.6"/><use href="#m1" x="264.8" y="189.6"/><use href="#m1" x="266" y="189.6"/><use href="#m1" x="267.2" y="189.6"/><use href="#m1" x="268.4" y="189.6"/><use href="#m1" x="269.6" y="189.6"/><use href="#m1" x="270.8" y="189.6"/><use href="#m1" x="272" y="189.6"/><use href="#m1" x="273.2" y="189.6"/><use href="#m1" x="274.4" y="189.6"/><use href="#m1" x="275.6" y="189.6"/><use href="#m1" x="276.8" y="189.6"/><use href="#m1" x="278" y="189.6"/><use href="#m1" x="279.2" y="189.6"/><use href="#m1" x="280.4" y="189.6"/><use href="#m1" x="281.6" y="189.6"/><use href="#m1" x="282.8" y="189.6"/><use href="#m1" x="284" y="189.6"/><use href="#m1" x="285.2" y="189.6"/><use href="#m1" x="286.4" y="189.6"/><use href="#m1" x="287.6" y="189.6"/><use href="#m1" x="288.8" y="189.6"/><use href="#m1" x="290" y="189.6"/><use href="#m1" x="291.2" y="189.6"/><use href="#m1" x="292.4" y="189.6"/><use href="#m1" x="293.6" y="189.6"/><use href="#m1" x="294.8" y="189.6"/><use href="#m1" x="296" y="189.6"/><use href="#m1" x="297.2" y="189.6"/><use href="#m1" x="298.4" y="189.6"/><use href="#m1" x="299.6" y="189.5"/><use href="#m1" x="300.8" y="189.5"/><use href="#m1" x="302" y="189.5"/><use href="#m1" x="303.2" y="189.5"/><use href="#m1" x="304.4" y="189.5"/><use href="#m1" x="305.6" y="189.5"/><use href="#m1" x="306.8" y="189.5"/><use href="#m1" x="308" y="189.5"/><use href="#m1" x="309.2" y="189.5"/><use href="#m1" x="310.4" y="189.4"/><use href="#m1" x="311.6" y="189.4"/><use href="#m1" x="312.8" y="189.4"/><use href="#m1" x="314" y="189.4"/><use href="#m1" x="315.2" y="189.3"/><use href="#m1" x="316.4" y="189.3"/><use href="#m1" x="317.6" y="189.2"/><use href="#m1" x="318.8" y="189.2"/><use href="#m1" x="320" y="189.1"/><use href="#m1" x="321.2" y="189"/><use href="#m1" x="322.4" y="189"/><use href="#m1" x="324.5" y="188.8"/></g>
<g fill="#fff" stroke="#1a1a1a" stroke-width="0.65"><use href="#m5" x="116" y="191.4"/><use href="#m5" x="117.2" y="191.1"/><use href="#m5" x="118.4" y="190.9"/><use href="#m5" x="119.6" y="190.7"/><use href="#m5" x="120.8" y="190.5"/><use href="#m5" x="122" y="190.3"/><use href="#m5" x="123.2" y="190.2"/><use href="#m5" x="124.4" y="190"/><use href="#m5" x="125.6" y="189.9"/><use href="#m5" x="126.8" y="189.8"/><use href="#m5" x="128" y="189.7"/><use href="#m5" x="129.2" y="189.6"/><use href="#m5" x="130.4" y="189.5"/><use href="#m5" x="131.6" y="189.4"/><use href="#m5" x="132.8" y="189.3"/><use href="#m5" x="134" y="189.2"/><use href="#m5" x="135.2" y="189.1"/><use href="#m5" x="136.4" y="189.1"/><use href="#m5" x="137.6" y="189"/><use href="#m5" x="138.8" y="189"/><use href="#m5" x="140" y="188.9"/><use href="#m5" x="141.2" y="188.9"/><use href="#m5" x="142.4" y="188.8"/><use href="#m5" x="143.6" y="188.8"/><use href="#m5" x="144.8" y="188.8"/><use href="#m5" x="146" y="188.7"/><use href="#m5" x="147.2" y="188.7"/><use href="#m5" x="148.4" y="188.7"/><use href="#m5" x="149.6" y="188.7"/><use href="#m5" x="150.8" y="188.6"/><use href="#m5" x="152" y="188.6"/><use href="#m5" x="153.2" y="188.6"/><use href="#m5" x="154.4" y="188.6"/><use href="#m5" x="155.6" y="188.6"/><use href="#m5" x="156.8" y="188.6"/><use href="#m5" x="158" y="188.5"/><use href="#m5" x="159.2" y="188.5"/><use href="#m5" x="160.4" y="188.5"/><use href="#m5" x="161.6" y="188.5"/><use href="#m5" x="162.8" y="188.5"/><use href="#m5" x="164" y="188.5"/><use href="#m5" x="165.2" y="188.5"/><use href="#m5" x="166.4" y="188.5"/><use href="#m5" x="167.6" y="188.5"/><use href="#m5" x="168.8" y="188.5"/><use href="#m5" x="170" y="188.5"/><use href="#m5" x="171.2" y="188.5"/><use href="#m5" x="172.4" y="188.5"/><use href="#m5" x="173.6" y="188.4"/><use href="#m5" x="174.8" y="188.4"/><use href="#m5" x="176" y="188.4"/><use href="#m5" x="177.2" y="188.4"/><use href="#m5" x="178.4" y="188.4"/><use href="#m5" x="179.6" y="188.4"/><use href="#m5" x="180.8" y="188.4"/><use href="#m5" x="182" y="188.4"/><use href="#m5" x="183.2" y="188.4"/><use href="#m5" x="184.4" y="188.4"/><use href="#m5" x="185.6" y="188.4"/><use href="#m5" x="186.8" y="188.4"/><use href="#m5" x="188" y="188.4"/><use href="#m5" x="189.2" y="188.4"/><use href="#m5" x="190.4" y="188.4"/><use href="#m5" x="191.6" y="188.4"/><use href="#m5" x="192.8" y="188.4"/><use href="#m5" x="194" y="188.4"/><use href="#m5" x="195.2" y="188.4"/><use href="#m5" x="196.4" y="188.4"/><use href="#m5" x="197.6" y="188.4"/><use href="#m5" x="198.8" y="188.4"/><use href="#m5" x="200" y="188.4"/><use href="#m5" x="201.2" y="188.4"/><use href="#m5" x="202.4" y="188.4"/><use href="#m5" x="203.6" y="188.4"/><use href="#m5" x="204.8" y="188.4"/><use href="#m5" x="206" y="188.4"/><use href="#m5" x="207.2" y="188.4"/><use href="#m5" x="208.4" y="188.4"/><use href="#m5" x="209.6" y="188.4"/><use href="#m5" x="210.8" y="188.4"/><use href="#m5" x="212" y="188.4"/><use href="#m5" x="213.2" y="188.4"/><use href="#m5" x="214.4" y="188.4"/><use href="#m5" x="215.6" y="188.4"/><use href="#m5" x="216.8" y="188.4"/><use href="#m5" x="218" y="188.4"/><use href="#m5" x="219.2" y="188.4"/><use href="#m5" x="220.4" y="188.4"/><use href="#m5" x="221.6" y="188.4"/><use href="#m5" x="222.8" y="188.4"/><use href="#m5" x="224" y="188.4"/><use href="#m5" x="225.2" y="188.4"/><use href="#m5" x="226.4" y="188.4"/><use href="#m5" x="227.6" y="188.4"/><use href="#m5" x="228.8" y="188.4"/><use href="#m5" x="230" y="188.4"/><use href="#m5" x="231.2" y="188.4"/><use href="#m5" x="232.4" y="188.4"/><use href="#m5" x="233.6" y="188.4"/><use href="#m5" x="234.8" y="188.4"/><use href="#m5" x="236" y="188.4"/><use href="#m5" x="237.2" y="188.4"/><use href="#m5" x="238.4" y="188.4"/><use href="#m5" x="239.6" y="188.4"/><use href="#m5" x="240.8" y="188.4"/><use href="#m5" x="242" y="188.4"/><use href="#m5" x="243.2" y="188.4"/><use href="#m5" x="244.4" y="188.4"/><use href="#m5" x="245.6" y="188.4"/><use href="#m5" x="246.8" y="188.4"/><use href="#m5" x="248" y="188.4"/><use href="#m5" x="249.2" y="188.4"/><use href="#m5" x="250.4" y="188.4"/><use href="#m5" x="251.6" y="188.4"/><use href="#m5" x="252.8" y="188.4"/><use href="#m5" x="254" y="188.4"/><use href="#m5" x="255.2" y="188.4"/><use href="#m5" x="256.4" y="188.4"/><use href="#m5" x="257.6" y="188.4"/><use href="#m5" x="258.8" y="188.4"/><use href="#m5" x="260" y="188.4"/><use href="#m5" x="261.2" y="188.4"/><use href="#m5" x="262.4" y="188.4"/><use href="#m5" x="263.6" y="188.4"/><use href="#m5" x="264.8" y="188.4"/><use href="#m5" x="266" y="188.4"/><use href="#m5" x="267.2" y="188.4"/><use href="#m5" x="268.4" y="188.4"/><use href="#m5" x="269.6" y="188.4"/><use href="#m5" x="270.8" y="188.4"/><use href="#m5" x="272" y="188.4"/><use href="#m5" x="273.2" y="188.4"/><use href="#m5" x="274.4" y="188.4"/><use href="#m5" x="275.6" y="188.4"/><use href="#m5" x="276.8" y="188.4"/><use href="#m5" x="278" y="188.4"/><use href="#m5" x="279.2" y="188.4"/><use href="#m5" x="280.4" y="188.4"/><use href="#m5" x="281.6" y="188.4"/><use href="#m5" x="282.8" y="188.4"/><use href="#m5" x="284" y="188.4"/><use href="#m5" x="285.2" y="188.4"/><use href="#m5" x="286.4" y="188.4"/><use href="#m5" x="287.6" y="188.4"/><use href="#m5" x="288.8" y="188.4"/><use href="#m5" x="290" y="188.4"/><use href="#m5" x="291.2" y="188.4"/><use href="#m5" x="292.4" y="188.4"/><use href="#m5" x="293.6" y="188.4"/><use href="#m5" x="294.8" y="188.4"/><use href="#m5" x="296" y="188.4"/><use href="#m5" x="297.2" y="188.4"/><use href="#m5" x="298.4" y="188.4"/><use href="#m5" x="299.6" y="188.3"/><use href="#m5" x="300.8" y="188.3"/><use href="#m5" x="302" y="188.3"/><use href="#m5" x="303.2" y="188.3"/><use href="#m5" x="304.4" y="188.3"/><use href="#m5" x="305.6" y="188.3"/><use href="#m5" x="306.8" y="188.3"/><use href="#m5" x="308" y="188.3"/><use href="#m5" x="309.2" y="188.3"/><use href="#m5" x="310.4" y="188.2"/><use href="#m5" x="311.6" y="188.2"/><use href="#m5" x="312.8" y="188.2"/><use href="#m5" x="314" y="188.2"/><use href="#m5" x="315.2" y="188.1"/><use href="#m5" x="316.4" y="188.1"/><use href="#m5" x="317.6" y="188"/><use href="#m5" x="318.8" y="188"/><use href="#m5" x="320" y="187.9"/><use href="#m5" x="321.2" y="187.8"/><use href="#m5" x="322.4" y="187.8"/><use href="#m5" x="324.5" y="187.6"/></g>
<g fill="#fff" stroke="#1a1a1a" stroke-width="0.55"><use href="#m0" x="116" y="190.5"/><use href="#m0" x="117.2" y="190.2"/><use href="#m0" x="118.4" y="189.9"/><use href="#m0" x="119.6" y="189.6"/><use href="#m0" x="120.8" y="189.4"/><use href="#m0" x="122" y="189.2"/><use href="#m0" x="123.2" y="189"/><use href="#m0" x="124.4" y="188.8"/><use href="#m0" x="125.6" y="188.7"/><use href="#m0" x="126.8" y="188.5"/><use href="#m0" x="128" y="188.4"/><use href="#m0" x="129.2" y="188.2"/><use href="#m0" x="130.4" y="188.1"/><use href="#m0" x="131.6" y="188"/><use href="#m0" x="132.8" y="187.9"/><use href="#m0" x="134" y="187.8"/><use href="#m0" x="135.2" y="187.7"/><use href="#m0" x="136.4" y="187.7"/><use href="#m0" x="137.6" y="187.6"/><use href="#m0" x="138.8" y="187.5"/><use href="#m0" x="140" y="187.5"/><use href="#m0" x="141.2" y="187.4"/><use href="#m0" x="142.4" y="187.4"/><use href="#m0" x="143.6" y="187.3"/><use href="#m0" x="144.8" y="187.3"/><use href="#m0" x="146" y="187.2"/><use href="#m0" x="147.2" y="187.2"/><use href="#m0" x="148.4" y="187.2"/><use href="#m0" x="149.6" y="187.1"/><use href="#m0" x="150.8" y="187.1"/><use href="#m0" x="152" y="187.1"/><use href="#m0" x="153.2" y="187.1"/><use href="#m0" x="154.4" y="187"/><use href="#m0" x="155.6" y="187"/><use href="#m0" x="156.8" y="187"/><use href="#m0" x="158" y="187"/><use href="#m0" x="159.2" y="187"/><use href="#m0" x="160.4" y="187"/><use href="#m0" x="161.6" y="186.9"/><use href="#m0" x="162.8" y="186.9"/><use href="#m0" x="164" y="186.9"/><use href="#m0" x="165.2" y="186.9"/><use href="#m0" x="166.4" y="186.9"/><use href="#m0" x="167.6" y="186.9"/><use href="#m0" x="168.8" y="186.9"/><use href="#m0" x="170" y="186.9"/><use href="#m0" x="171.2" y="186.9"/><use href="#m0" x="172.4" y="186.9"/><use href="#m0" x="173.6" y="186.9"/><use href="#m0" x="174.8" y="186.9"/><use href="#m0" x="176" y="186.9"/><use href="#m0" x="177.2" y="186.8"/><use href="#m0" x="178.4" y="186.8"/><use href="#m0" x="179.6" y="186.8"/><use href="#m0" x="180.8" y="186.8"/><use href="#m0" x="182" y="186.8"/><use href="#m0" x="183.2" y="186.8"/><use href="#m0" x="184.4" y="186.8"/><use href="#m0" x="185.6" y="186.8"/><use href="#m0" x="186.8" y="186.8"/><use href="#m0" x="188" y="186.8"/><use href="#m0" x="189.2" y="186.8"/><use href="#m0" x="190.4" y="186.8"/><use href="#m0" x="191.6" y="186.8"/><use href="#m0" x="192.8" y="186.8"/><use href="#m0" x="194" y="186.8"/><use href="#m0" x="195.2" y="186.8"/><use href="#m0" x="196.4" y="186.8"/><use href="#m0" x="197.6" y="186.8"/><use href="#m0" x="198.8" y="186.8"/><use href="#m0" x="200" y="186.8"/><use href="#m0" x="201.2" y="186.8"/><use href="#m0" x="202.4" y="186.8"/><use href="#m0" x="203.6" y="186.8"/><use href="#m0" x="204.8" y="186.8"/><use href="#m0" x="206" y="186.8"/><use href="#m0" x="207.2" y="186.8"/><use href="#m0" x="208.4" y="186.8"/><use href="#m0" x="209.6" y="186.8"/><use href="#m0" x="210.8" y="186.8"/><use href="#m0" x="212" y="186.8"/><use href="#m0" x="213.2" y="186.8"/><use href="#m0" x="214.4" y="186.8"/><use href="#m0" x="215.6" y="186.8"/><use href="#m0" x="216.8" y="186.8"/><use href="#m0" x="218" y="186.8"/><use href="#m0" x="219.2" y="186.8"/><use href="#m0" x="220.4" y="186.8"/><use href="#m0" x="221.6" y="186.8"/><use href="#m0" x="222.8" y="186.8"/><use href="#m0" x="224" y="186.8"/><use href="#m0" x="225.2" y="186.8"/><use href="#m0" x="226.4" y="186.8"/><use href="#m0" x="227.6" y="186.8"/><use href="#m0" x="228.8" y="186.8"/><use href="#m0" x="230" y="186.8"/><use href="#m0" x="231.2" y="186.8"/><use href="#m0" x="232.4" y="186.8"/><use href="#m0" x="233.6" y="186.8"/><use href="#m0" x="234.8" y="186.8"/><use href="#m0" x="236" y="186.8"/><use href="#m0" x="237.2" y="186.8"/><use href="#m0" x="238.4" y="186.8"/><use href="#m0" x="239.6" y="186.8"/><use href="#m0" x="240.8" y="186.8"/><use href="#m0" x="242" y="186.8"/><use href="#m0" x="243.2" y="186.8"/><use href="#m0" x="244.4" y="186.8"/><use href="#m0" x="245.6" y="186.8"/><use href="#m0" x="246.8" y="186.8"/><use href="#m0" x="248" y="186.8"/><use href="#m0" x="249.2" y="186.8"/><use href="#m0" x="250.4" y="186.8"/><use href="#m0" x="251.6" y="186.8"/><use href="#m0" x="252.8" y="186.8"/><use href="#m0" x="254" y="186.8"/><use href="#m0" x="255.2" y="186.8"/><use href="#m0" x="256.4" y="186.8"/><use href="#m0" x="257.6" y="186.8"/><use href="#m0" x="258.8" y="186.8"/><use href="#m0" x="260" y="186.8"/><use href="#m0" x="261.2" y="186.8"/><use href="#m0" x="262.4" y="186.8"/><use href="#m0" x="263.6" y="186.8"/><use href="#m0" x="264.8" y="186.8"/><use href="#m0" x="266" y="186.8"/><use href="#m0" x="267.2" y="186.8"/><use href="#m0" x="268.4" y="186.8"/><use href="#m0" x="269.6" y="186.8"/><use href="#m0" x="270.8" y="186.8"/><use href="#m0" x="272" y="186.8"/><use href="#m0" x="273.2" y="186.8"/><use href="#m0" x="274.4" y="186.8"/><use href="#m0" x="275.6" y="186.8"/><use href="#m0" x="276.8" y="186.8"/><use href="#m0" x="278" y="186.8"/><use href="#m0" x="279.2" y="186.8"/><use href="#m0" x="280.4" y="186.8"/><use href="#m0" x="281.6" y="186.8"/><use href="#m0" x="282.8" y="186.8"/><use href="#m0" x="284" y="186.8"/><use href="#m0" x="285.2" y="186.8"/><use href="#m0" x="286.4" y="186.8"/><use href="#m0" x="287.6" y="186.8"/><use href="#m0" x="288.8" y="186.8"/><use href="#m0" x="290" y="186.8"/><use href="#m0" x="291.2" y="186.8"/><use href="#m0" x="292.4" y="186.8"/><use href="#m0" x="293.6" y="186.8"/><use href="#m0" x="294.8" y="186.8"/><use href="#m0" x="296" y="186.8"/><use href="#m0" x="297.2" y="186.8"/><use href="#m0" x="298.4" y="186.8"/><use href="#m0" x="299.6" y="186.7"/><use href="#m0" x="300.8" y="186.7"/><use href="#m0" x="302" y="186.7"/><use href="#m0" x="303.2" y="186.7"/><use href="#m0" x="304.4" y="186.7"/><use href="#m0" x="305.6" y="186.7"/><use href="#m0" x="306.8" y="186.7"/><use href="#m0" x="308" y="186.7"/><use href="#m0" x="309.2" y="186.7"/><use href="#m0" x="310.4" y="186.6"/><use href="#m0" x="311.6" y="186.6"/><use href="#m0" x="312.8" y="186.6"/><use href="#m0" x="314" y="186.6"/><use href="#m0" x="315.2" y="186.5"/><use href="#m0" x="316.4" y="186.5"/><use href="#m0" x="317.6" y="186.4"/><use href="#m0" x="318.8" y="186.4"/><use href="#m0" x="320" y="186.3"/><use href="#m0" x="321.2" y="186.2"/><use href="#m0" x="322.4" y="186.2"/><use href="#m0" x="324.5" y="186"/></g>
<g fill="#fff" stroke="#1a1a1a" stroke-width="0.55"><use href="#m4" x="116" y="189.4"/><use href="#m4" x="117.2" y="189"/><use href="#m4" x="118.4" y="188.7"/><use href="#m4" x="119.6" y="188.3"/><use href="#m4" x="120.8" y="188.1"/><use href="#m4" x="122" y="187.8"/><use href="#m4" x="123.2" y="187.5"/><use href="#m4" x="124.4" y="187.3"/><use href="#m4" x="125.6" y="187.1"/><use href="#m4" x="126.8" y="186.9"/><use href="#m4" x="128" y="186.7"/><use href="#m4" x="129.2" y="186.6"/><use href="#m4" x="130.4" y="186.4"/><use href="#m4" x="131.6" y="186.3"/><use href="#m4" x="132.8" y="186.2"/><use href="#m4" x="134" y="186.1"/><use href="#m4" x="135.2" y="186"/><use href="#m4" x="136.4" y="185.9"/><use href="#m4" x="137.6" y="185.8"/><use href="#m4" x="138.8" y="185.7"/><use href="#m4" x="140" y="185.6"/><use href="#m4" x="141.2" y="185.6"/><use href="#m4" x="142.4" y="185.5"/><use href="#m4" x="143.6" y="185.4"/><use href="#m4" x="144.8" y="185.4"/><use href="#m4" x="146" y="185.3"/><use href="#m4" x="147.2" y="185.3"/><use href="#m4" x="148.4" y="185.3"/><use href="#m4" x="149.6" y="185.2"/><use href="#m4" x="150.8" y="185.2"/><use href="#m4" x="152" y="185.2"/><use href="#m4" x="153.2" y="185.1"/><use href="#m4" x="154.4" y="185.1"/><use href="#m4" x="155.6" y="185.1"/><use href="#m4" x="156.8" y="185"/><use href="#m4" x="158" y="185"/><use href="#m4" x="159.2" y="185"/><use href="#m4" x="160.4" y="185"/><use href="#m4" x="161.6" y="185"/><use href="#m4" x="162.8" y="185"/><use href="#m4" x="164" y="184.9"/><use href="#m4" x="165.2" y="184.9"/><use href="#m4" x="166.4" y="184.9"/><use href="#m4" x="167.6" y="184.9"/><use href="#m4" x="168.8" y="184.9"/><use href="#m4" x="170" y="184.9"/><use href="#m4" x="171.2" y="184.9"/><use href="#m4" x="172.4" y="184.9"/><use href="#m4" x="173.6" y="184.9"/><use href="#m4" x="174.8" y="184.9"/><use href="#m4" x="176" y="184.9"/><use href="#m4" x="177.2" y="184.9"/><use href="#m4" x="178.4" y="184.9"/><use href="#m4" x="179.6" y="184.8"/><use href="#m4" x="180.8" y="184.8"/><use href="#m4" x="182" y="184.8"/><use href="#m4" x="183.2" y="184.8"/><use href="#m4" x="184.4" y="184.8"/><use href="#m4" x="185.6" y="184.8"/><use href="#m4" x="186.8" y="184.8"/><use href="#m4" x="188" y="184.8"/><use href="#m4" x="189.2" y="184.8"/><use href="#m4" x="190.4" y="184.8"/><use href="#m4" x="191.6" y="184.8"/><use href="#m4" x="192.8" y="184.8"/><use href="#m4" x="194" y="184.8"/><use href="#m4" x="195.2" y="184.8"/><use href="#m4" x="196.4" y="184.8"/><use href="#m4" x="197.6" y="184.8"/><use href="#m4" x="198.8" y="184.8"/><use href="#m4" x="200" y="184.8"/><use href="#m4" x="201.2" y="184.8"/><use href="#m4" x="202.4" y="184.8"/><use href="#m4" x="203.6" y="184.8"/><use href="#m4" x="204.8" y="184.8"/><use href="#m4" x="206" y="184.8"/><use href="#m4" x="207.2" y="184.8"/><use href="#m4" x="208.4" y="184.8"/><use href="#m4" x="209.6" y="184.8"/><use href="#m4" x="210.8" y="184.8"/><use href="#m4" x="212" y="184.8"/><use href="#m4" x="213.2" y="184.8"/><use href="#m4" x="214.4" y="184.8"/><use href="#m4" x="215.6" y="184.8"/><use href="#m4" x="216.8" y="184.8"/><use href="#m4" x="218" y="184.8"/><use href="#m4" x="219.2" y="184.8"/><use href="#m4" x="220.4" y="184.8"/><use href="#m4" x="221.6" y="184.8"/><use href="#m4" x="222.8" y="184.8"/><use href="#m4" x="224" y="184.8"/><use href="#m4" x="225.2" y="184.8"/><use href="#m4" x="226.4" y="184.8"/><use href="#m4" x="227.6" y="184.8"/><use href="#m4" x="228.8" y="184.8"/><use href="#m4" x="230" y="184.8"/><use href="#m4" x="231.2" y="184.8"/><use href="#m4" x="232.4" y="184.8"/><use href="#m4" x="233.6" y="184.8"/><use href="#m4" x="234.8" y="184.8"/><use href="#m4" x="236" y="184.8"/><use href="#m4" x="237.2" y="184.8"/><use href="#m4" x="238.4" y="184.8"/><use href="#m4" x="239.6" y="184.8"/><use href="#m4" x="240.8" y="184.8"/><use href="#m4" x="242" y="184.8"/><use href="#m4" x="243.2" y="184.8"/><use href="#m4" x="244.4" y="184.8"/><use href="#m4" x="245.6" y="184.8"/><use href="#m4" x="246.8" y="184.8"/><use href="#m4" x="248" y="184.8"/><use href="#m4" x="249.2" y="184.8"/><use href="#m4" x="250.4" y="184.8"/><use href="#m4" x="251.6" y="184.8"/><use href="#m4" x="252.8" y="184.8"/><use href="#m4" x="254" y="184.8"/><use href="#m4" x="255.2" y="184.8"/><use href="#m4" x="256.4" y="184.8"/><use href="#m4" x="257.6" y="184.8"/><use href="#m4" x="258.8" y="184.8"/><use href="#m4" x="260" y="184.8"/><use href="#m4" x="261.2" y="184.8"/><use href="#m4" x="262.4" y="184.8"/><use href="#m4" x="263.6" y="184.8"/><use href="#m4" x="264.8" y="184.8"/><use href="#m4" x="266" y="184.8"/><use href="#m4" x="267.2" y="184.8"/><use href="#m4" x="268.4" y="184.8"/><use href="#m4" x="269.6" y="184.8"/><use href="#m4" x="270.8" y="184.8"/><use href="#m4" x="272" y="184.8"/><use href="#m4" x="273.2" y="184.8"/><use href="#m4" x="274.4" y="184.8"/><use href="#m4" x="275.6" y="184.8"/><use href="#m4" x="276.8" y="184.8"/><use href="#m4" x="278" y="184.8"/><use href="#m4" x="279.2" y="184.8"/><use href="#m4" x="280.4" y="184.8"/><use href="#m4" x="281.6" y="184.8"/><use href="#m4" x="282.8" y="184.8"/><use href="#m4" x="284" y="184.8"/><use href="#m4" x="285.2" y="184.8"/><use href="#m4" x="286.4" y="184.8"/><use href="#m4" x="287.6" y="184.8"/><use href="#m4" x="288.8" y="184.8"/><use href="#m4" x="290" y="184.8"/><use href="#m4" x="291.2" y="184.8"/><use href="#m4" x="292.4" y="184.8"/><use href="#m4" x="293.6" y="184.8"/><use href="#m4" x="294.8" y="184.8"/><use href="#m4" x="296" y="184.8"/><use href="#m4" x="297.2" y="184.8"/><use href="#m4" x="298.4" y="184.8"/><use href="#m4" x="299.6" y="184.7"/><use href="#m4" x="300.8" y="184.7"/><use href="#m4" x="302" y="184.7"/><use href="#m4" x="303.2" y="184.7"/><use href="#m4" x="304.4" y="184.7"/><use href="#m4" x="305.6" y="184.7"/><use href="#m4" x="306.8" y="184.7"/><use href="#m4" x="308" y="184.7"/><use href="#m4" x="309.2" y="184.7"/><use href="#m4" x="310.4" y="184.6"/><use href="#m4" x="311.6" y="184.6"/><use href="#m4" x="312.8" y="184.6"/><use href="#m4" x="314" y="184.6"/><use href="#m4" x="315.2" y="184.5"/><use href="#m4" x="316.4" y="184.5"/><use href="#m4" x="317.6" y="184.4"/><use href="#m4" x="318.8" y="184.4"/><use href="#m4" x="320" y="184.3"/><use href="#m4" x="321.2" y="184.2"/><use href="#m4" x="322.4" y="184.2"/><use href="#m4" x="324.5" y="184"/></g>
<g fill="#fff" stroke="#1a1a1a" stroke-width="0.5"><use href="#m1" x="116" y="188.1"/><use href="#m1" x="117.2" y="187.6"/><use href="#m1" x="118.4" y="187.2"/><use href="#m1" x="119.6" y="186.8"/><use href="#m1" x="120.8" y="186.4"/><use href="#m1" x="122" y="186.1"/><use href="#m1" x="123.2" y="185.8"/><use href="#m1" x="124.4" y="185.5"/><use href="#m1" x="125.6" y="185.3"/><use href="#m1" x="126.8" y="185"/><use href="#m1" x="128" y="184.8"/><use href="#m1" x="129.2" y="184.6"/><use href="#m1" x="130.4" y="184.4"/><use href="#m1" x="131.6" y="184.3"/><use href="#m1" x="132.8" y="184.1"/><use href="#m1" x="134" y="184"/><use href="#m1" x="135.2" y="183.8"/><use href="#m1" x="136.4" y="183.7"/><use href="#m1" x="137.6" y="183.6"/><use href="#m1" x="138.8" y="183.5"/><use href="#m1" x="140" y="183.4"/><use href="#m1" x="141.2" y="183.3"/><use href="#m1" x="142.4" y="183.3"/><use href="#m1" x="143.6" y="183.2"/><use href="#m1" x="144.8" y="183.1"/><use href="#m1" x="146" y="183.1"/><use href="#m1" x="147.2" y="183"/><use href="#m1" x="148.4" y="183"/><use href="#m1" x="149.6" y="182.9"/><use href="#m1" x="150.8" y="182.9"/><use href="#m1" x="152" y="182.8"/><use href="#m1" x="153.2" y="182.8"/><use href="#m1" x="154.4" y="182.8"/><use href="#m1" x="155.6" y="182.7"/><use href="#m1" x="156.8" y="182.7"/><use href="#m1" x="158" y="182.7"/><use href="#m1" x="159.2" y="182.7"/><use href="#m1" x="160.4" y="182.6"/><use href="#m1" x="161.6" y="182.6"/><use href="#m1" x="162.8" y="182.6"/><use href="#m1" x="164" y="182.6"/><use href="#m1" x="165.2" y="182.6"/><use href="#m1" x="166.4" y="182.6"/><use href="#m1" x="167.6" y="182.5"/><use href="#m1" x="168.8" y="182.5"/><use href="#m1" x="170" y="182.5"/><use href="#m1" x="171.2" y="182.5"/><use href="#m1" x="172.4" y="182.5"/><use href="#m1" x="173.6" y="182.5"/><use href="#m1" x="174.8" y="182.5"/><use href="#m1" x="176" y="182.5"/><use href="#m1" x="177.2" y="182.5"/><use href="#m1" x="178.4" y="182.5"/><use href="#m1" x="179.6" y="182.5"/><use href="#m1" x="180.8" y="182.5"/><use href="#m1" x="182" y="182.5"/><use href="#m1" x="183.2" y="182.4"/><use href="#m1" x="184.4" y="182.4"/><use href="#m1" x="185.6" y="182.4"/><use href="#m1" x="186.8" y="182.4"/><use href="#m1" x="188" y="182.4"/><use href="#m1" x="189.2" y="182.4"/><use href="#m1" x="190.4" y="182.4"/><use href="#m1" x="191.6" y="182.4"/><use href="#m1" x="192.8" y="182.4"/><use href="#m1" x="194" y="182.4"/><use href="#m1" x="195.2" y="182.4"/><use href="#m1" x="196.4" y="182.4"/><use href="#m1" x="197.6" y="182.4"/><use href="#m1" x="198.8" y="182.4"/><use href="#m1" x="200" y="182.4"/><use href="#m1" x="201.2" y="182.4"/><use href="#m1" x="202.4" y="182.4"/><use href="#m1" x="203.6" y="182.4"/><use href="#m1" x="204.8" y="182.4"/><use href="#m1" x="206" y="182.4"/><use href="#m1" x="207.2" y="182.4"/><use href="#m1" x="208.4" y="182.4"/><use href="#m1" x="209.6" y="182.4"/><use href="#m1" x="210.8" y="182.4"/><use href="#m1" x="212" y="182.4"/><use href="#m1" x="213.2" y="182.4"/><use href="#m1" x="214.4" y="182.4"/><use href="#m1" x="215.6" y="182.4"/><use href="#m1" x="216.8" y="182.4"/><use href="#m1" x="218" y="182.4"/><use href="#m1" x="219.2" y="182.4"/><use href="#m1" x="220.4" y="182.4"/><use href="#m1" x="221.6" y="182.4"/><use href="#m1" x="222.8" y="182.4"/><use href="#m1" x="224" y="182.4"/><use href="#m1" x="225.2" y="182.4"/><use href="#m1" x="226.4" y="182.4"/><use href="#m1" x="227.6" y="182.4"/><use href="#m1" x="228.8" y="182.4"/><use href="#m1" x="230" y="182.4"/><use href="#m1" x="231.2" y="182.4"/><use href="#m1" x="232.4" y="182.4"/><use href="#m1" x="233.6" y="182.4"/><use href="#m1" x="234.8" y="182.4"/><use href="#m1" x="236" y="182.4"/><use href="#m1" x="237.2" y="182.4"/><use href="#m1" x="238.4" y="182.4"/><use href="#m1" x="239.6" y="182.4"/><use href="#m1" x="240.8" y="182.4"/><use href="#m1" x="242" y="182.4"/><use href="#m1" x="243.2" y="182.4"/><use href="#m1" x="244.4" y="182.4"/><use href="#m1" x="245.6" y="182.4"/><use href="#m1" x="246.8" y="182.4"/><use href="#m1" x="248" y="182.4"/><use href="#m1" x="249.2" y="182.4"/><use href="#m1" x="250.4" y="182.4"/><use href="#m1" x="251.6" y="182.4"/><use href="#m1" x="252.8" y="182.4"/><use href="#m1" x="254" y="182.4"/><use href="#m1" x="255.2" y="182.4"/><use href="#m1" x="256.4" y="182.4"/><use href="#m1" x="257.6" y="182.4"/><use href="#m1" x="258.8" y="182.4"/><use href="#m1" x="260" y="182.4"/><use href="#m1" x="261.2" y="182.4"/><use href="#m1" x="262.4" y="182.4"/><use href="#m1" x="263.6" y="182.4"/><use href="#m1" x="264.8" y="182.4"/><use href="#m1" x="266" y="182.4"/><use href="#m1" x="267.2" y="182.4"/><use href="#m1" x="268.4" y="182.4"/><use href="#m1" x="269.6" y="182.4"/><use href="#m1" x="270.8" y="182.4"/><use href="#m1" x="272" y="182.4"/><use href="#m1" x="273.2" y="182.4"/><use href="#m1" x="274.4" y="182.4"/><use href="#m1" x="275.6" y="182.4"/><use href="#m1" x="276.8" y="182.4"/><use href="#m1" x="278" y="182.4"/><use href="#m1" x="279.2" y="182.4"/><use href="#m1" x="280.4" y="182.4"/><use href="#m1" x="281.6" y="182.4"/><use href="#m1" x="282.8" y="182.4"/><use href="#m1" x="284" y="182.4"/><use href="#m1" x="285.2" y="182.4"/><use href="#m1" x="286.4" y="182.4"/><use href="#m1" x="287.6" y="182.4"/><use href="#m1" x="288.8" y="182.4"/><use href="#m1" x="290" y="182.4"/><use href="#m1" x="291.2" y="182.4"/><use href="#m1" x="292.4" y="182.4"/><use href="#m1" x="293.6" y="182.4"/><use href="#m1" x="294.8" y="182.4"/><use href="#m1" x="296" y="182.4"/><use href="#m1" x="297.2" y="182.4"/><use href="#m1" x="298.4" y="182.4"/><use href="#m1" x="299.6" y="182.3"/><use href="#m1" x="300.8" y="182.3"/><use href="#m1" x="302" y="182.3"/><use href="#m1" x="303.2" y="182.3"/><use href="#m1" x="304.4" y="182.3"/><use href="#m1" x="305.6" y="182.3"/><use href="#m1" x="306.8" y="182.3"/><use href="#m1" x="308" y="182.3"/><use href="#m1" x="309.2" y="182.3"/><use href="#m1" x="310.4" y="182.2"/><use href="#m1" x="311.6" y="182.2"/><use href="#m1" x="312.8" y="182.2"/><use href="#m1" x="314" y="182.2"/><use href="#m1" x="315.2" y="182.1"/><use href="#m1" x="316.4" y="182.1"/><use href="#m1" x="317.6" y="182"/><use href="#m1" x="318.8" y="182"/><use href="#m1" x="320" y="181.9"/><use href="#m1" x="321.2" y="181.8"/><use href="#m1" x="322.4" y="181.8"/><use href="#m1" x="324.5" y="181.6"/></g>
<g fill="#fff" stroke="#1a1a1a" stroke-width="0.55"><use href="#m5" x="116" y="186.4"/><use href="#m5" x="117.2" y="185.9"/><use href="#m5" x="118.4" y="185.3"/><use href="#m5" x="119.6" y="184.8"/><use href="#m5" x="120.8" y="184.4"/><use href="#m5" x="122" y="184"/><use href="#m5" x="123.2" y="183.6"/><use href="#m5" x="124.4" y="183.3"/><use href="#m5" x="125.6" y="182.9"/><use href="#m5" x="126.8" y="182.7"/><use href="#m5" x="128" y="182.4"/><use href="#m5" x="129.2" y="182.1"/><use href="#m5" x="130.4" y="181.9"/><use href="#m5" x="131.6" y="181.7"/><use href="#m5" x="132.8" y="181.5"/><use href="#m5" x="134" y="181.3"/><use href="#m5" x="135.2" y="181.2"/><use href="#m5" x="136.4" y="181"/><use href="#m5" x="137.6" y="180.9"/><use href="#m5" x="138.8" y="180.8"/><use href="#m5" x="140" y="180.7"/><use href="#m5" x="141.2" y="180.6"/><use href="#m5" x="142.4" y="180.5"/><use href="#m5" x="143.6" y="180.4"/><use href="#m5" x="144.8" y="180.3"/><use href="#m5" x="146" y="180.2"/><use href="#m5" x="147.2" y="180.2"/><use href="#m5" x="148.4" y="180.1"/><use href="#m5" x="149.6" y="180"/><use href="#m5" x="150.8" y="180"/><use href="#m5" x="152" y="179.9"/><use href="#m5" x="153.2" y="179.9"/><use href="#m5" x="154.4" y="179.9"/><use href="#m5" x="155.6" y="179.8"/><use href="#m5" x="156.8" y="179.8"/><use href="#m5" x="158" y="179.8"/><use href="#m5" x="159.2" y="179.7"/><use href="#m5" x="160.4" y="179.7"/><use href="#m5" x="161.6" y="179.7"/><use href="#m5" x="162.8" y="179.6"/><use href="#m5" x="164" y="179.6"/><use href="#m5" x="165.2" y="179.6"/><use href="#m5" x="166.4" y="179.6"/><use href="#m5" x="167.6" y="179.6"/><use href="#m5" x="168.8" y="179.6"/><use href="#m5" x="170" y="179.5"/><use href="#m5" x="171.2" y="179.5"/><use href="#m5" x="172.4" y="179.5"/><use href="#m5" x="173.6" y="179.5"/><use href="#m5" x="174.8" y="179.5"/><use href="#m5" x="176" y="179.5"/><use href="#m5" x="177.2" y="179.5"/><use href="#m5" x="178.4" y="179.5"/><use href="#m5" x="179.6" y="179.5"/><use href="#m5" x="180.8" y="179.5"/><use href="#m5" x="182" y="179.5"/><use href="#m5" x="183.2" y="179.5"/><use href="#m5" x="184.4" y="179.5"/><use href="#m5" x="185.6" y="179.4"/><use href="#m5" x="186.8" y="179.4"/><use href="#m5" x="188" y="179.4"/><use href="#m5" x="189.2" y="179.4"/><use href="#m5" x="190.4" y="179.4"/><use href="#m5" x="191.6" y="179.4"/><use href="#m5" x="192.8" y="179.4"/><use href="#m5" x="194" y="179.4"/><use href="#m5" x="195.2" y="179.4"/><use href="#m5" x="196.4" y="179.4"/><use href="#m5" x="197.6" y="179.4"/><use href="#m5" x="198.8" y="179.4"/><use href="#m5" x="200" y="179.4"/><use href="#m5" x="201.2" y="179.4"/><use href="#m5" x="202.4" y="179.4"/><use href="#m5" x="203.6" y="179.4"/><use href="#m5" x="204.8" y="179.4"/><use href="#m5" x="206" y="179.4"/><use href="#m5" x="207.2" y="179.4"/><use href="#m5" x="208.4" y="179.4"/><use href="#m5" x="209.6" y="179.4"/><use href="#m5" x="210.8" y="179.4"/><use href="#m5" x="212" y="179.4"/><use href="#m5" x="213.2" y="179.4"/><use href="#m5" x="214.4" y="179.4"/><use href="#m5" x="215.6" y="179.4"/><use href="#m5" x="216.8" y="179.4"/><use href="#m5" x="218" y="179.4"/><use href="#m5" x="219.2" y="179.4"/><use href="#m5" x="220.4" y="179.4"/><use href="#m5" x="221.6" y="179.4"/><use href="#m5" x="222.8" y="179.4"/><use href="#m5" x="224" y="179.4"/><use href="#m5" x="225.2" y="179.4"/><use href="#m5" x="226.4" y="179.4"/><use href="#m5" x="227.6" y="179.4"/><use href="#m5" x="228.8" y="179.4"/><use href="#m5" x="230" y="179.4"/><use href="#m5" x="231.2" y="179.4"/><use href="#m5" x="232.4" y="179.4"/><use href="#m5" x="233.6" y="179.4"/><use href="#m5" x="234.8" y="179.4"/><use href="#m5" x="236" y="179.4"/><use href="#m5" x="237.2" y="179.4"/><use href="#m5" x="238.4" y="179.4"/><use href="#m5" x="239.6" y="179.4"/><use href="#m5" x="240.8" y="179.4"/><use href="#m5" x="242" y="179.4"/><use href="#m5" x="243.2" y="179.4"/><use href="#m5" x="244.4" y="179.4"/><use href="#m5" x="245.6" y="179.4"/><use href="#m5" x="246.8" y="179.4"/><use href="#m5" x="248" y="179.4"/><use href="#m5" x="249.2" y="179.4"/><use href="#m5" x="250.4" y="179.4"/><use href="#m5" x="251.6" y="179.4"/><use href="#m5" x="252.8" y="179.4"/><use href="#m5" x="254" y="179.4"/><use href="#m5" x="255.2" y="179.4"/><use href="#m5" x="256.4" y="179.4"/><use href="#m5" x="257.6" y="179.4"/><use href="#m5" x="258.8" y="179.4"/><use href="#m5" x="260" y="179.4"/><use href="#m5" x="261.2" y="179.4"/><use href="#m5" x="262.4" y="179.4"/><use href="#m5" x="263.6" y="179.4"/><use href="#m5" x="264.8" y="179.4"/><use href="#m5" x="266" y="179.4"/><use href="#m5" x="267.2" y="179.4"/><use href="#m5" x="268.4" y="179.4"/><use href="#m5" x="269.6" y="179.4"/><use href="#m5" x="270.8" y="179.4"/><use href="#m5" x="272" y="179.4"/><use href="#m5" x="273.2" y="179.4"/><use href="#m5" x="274.4" y="179.4"/><use href="#m5" x="275.6" y="179.4"/><use href="#m5" x="276.8" y="179.4"/><use href="#m5" x="278" y="179.4"/><use href="#m5" x="279.2" y="179.4"/><use href="#m5" x="280.4" y="179.4"/><use href="#m5" x="281.6" y="179.4"/><use href="#m5" x="282.8" y="179.4"/><use href="#m5" x="284" y="179.4"/><use href="#m5" x="285.2" y="179.4"/><use href="#m5" x="286.4" y="179.4"/><use href="#m5" x="287.6" y="179.4"/><use href="#m5" x="288.8" y="179.4"/><use href="#m5" x="290" y="179.4"/><use href="#m5" x="291.2" y="179.4"/><use href="#m5" x="292.4" y="179.4"/><use href="#m5" x="293.6" y="179.4"/><use href="#m5" x="294.8" y="179.4"/><use href="#m5" x="296" y="179.4"/><use href="#m5" x="297.2" y="179.4"/><use href="#m5" x="298.4" y="179.4"/><use href="#m5" x="299.6" y="179.3"/><use href="#m5" x="300.8" y="179.3"/><use href="#m5" x="302" y="179.3"/><use href="#m5" x="303.2" y="179.3"/><use href="#m5" x="304.4" y="179.3"/><use href="#m5" x="305.6" y="179.3"/><use href="#m5" x="306.8" y="179.3"/><use href="#m5" x="308" y="179.3"/><use href="#m5" x="309.2" y="179.3"/><use href="#m5" x="310.4" y="179.2"/><use href="#m5" x="311.6" y="179.2"/><use href="#m5" x="312.8" y="179.2"/><use href="#m5" x="314" y="179.2"/><use href="#m5" x="315.2" y="179.1"/><use href="#m5" x="316.4" y="179.1"/><use href="#m5" x="317.6" y="179"/><use href="#m5" x="318.8" y="179"/><use href="#m5" x="320" y="178.9"/><use href="#m5" x="321.2" y="178.8"/><use href="#m5" x="322.4" y="178.8"/><use href="#m5" x="324.5" y="178.6"/></g>
<g fill="#fff" stroke="#666" stroke-width="0.45"><use href="#m7" x="116" y="195.5"/><use href="#m7" x="118.2" y="195.5"/><use href="#m7" x="120.4" y="195.5"/><use href="#m7" x="122.6" y="195.5"/><use href="#m7" x="124.8" y="195.5"/><use href="#m7" x="127" y="195.5"/><use href="#m7" x="129.2" y="195.5"/><use href="#m7" x="131.4" y="195.5"/><use href="#m7" x="133.6" y="195.5"/><use href="#m7" x="135.8" y="195.5"/><use href="#m7" x="138" y="195.5"/><use href="#m7" x="140.2" y="195.5"/><use href="#m7" x="142.4" y="195.5"/><use href="#m7" x="144.6" y="195.5"/><use href="#m7" x="146.8" y="195.5"/><use href="#m7" x="149" y="195.5"/><use href="#m7" x="151.2" y="195.5"/><use href="#m7" x="153.4" y="195.5"/><use href="#m7" x="155.6" y="195.5"/><use href="#m7" x="157.8" y="195.5"/><use href="#m7" x="160" y="195.5"/><use href="#m7" x="162.2" y="195.5"/><use href="#m7" x="164.4" y="195.5"/><use href="#m7" x="166.6" y="195.5"/><use href="#m7" x="168.8" y="195.5"/><use href="#m7" x="171" y="195.5"/><use href="#m7" x="173.2" y="195.5"/><use href="#m7" x="175.4" y="195.5"/><use href="#m7" x="177.6" y="195.5"/><use href="#m7" x="179.8" y="195.5"/><use href="#m7" x="182" y="195.5"/><use href="#m7" x="184.2" y="195.5"/><use href="#m7" x="186.4" y="195.5"/><use href="#m7" x="188.6" y="195.5"/><use href="#m7" x="190.8" y="195.5"/><use href="#m7" x="193" y="195.5"/><use href="#m7" x="195.2" y="195.5"/><use href="#m7" x="197.4" y="195.5"/><use href="#m7" x="199.6" y="195.5"/><use href="#m7" x="201.8" y="195.5"/><use href="#m7" x="204" y="195.5"/><use href="#m7" x="206.2" y="195.5"/><use href="#m7" x="208.4" y="195.5"/><use href="#m7" x="210.6" y="195.5"/><use href="#m7" x="212.8" y="195.5"/><use href="#m7" x="215" y="195.5"/><use href="#m7" x="217.2" y="195.5"/><use href="#m7" x="219.4" y="195.5"/><use href="#m7" x="221.6" y="195.5"/><use href="#m7" x="223.8" y="195.5"/><use href="#m7" x="226" y="195.5"/><use href="#m7" x="228.2" y="195.5"/><use href="#m7" x="230.4" y="195.5"/><use href="#m7" x="232.6" y="195.5"/><use href="#m7" x="234.8" y="195.5"/><use href="#m7" x="237" y="195.5"/><use href="#m7" x="239.2" y="195.5"/><use href="#m7" x="241.4" y="195.5"/><use href="#m7" x="243.6" y="195.5"/><use href="#m7" x="245.8" y="195.5"/><use href="#m7" x="248" y="195.5"/><use href="#m7" x="250.2" y="195.5"/><use href="#m7" x="252.4" y="195.5"/><use href="#m7" x="254.6" y="195.5"/><use href="#m7" x="256.8" y="195.5"/><use href="#m7" x="259" y="195.5"/><use href="#m7" x="261.2" y="195.5"/><use href="#m7" x="263.4" y="195.5"/><use href="#m7" x="265.6" y="195.5"/><use href="#m7" x="267.8" y="195.5"/><use href="#m7" x="270" y="195.5"/><use href="#m7" x="272.2" y="195.5"/><use href="#m7" x="274.4" y="195.5"/><use href="#m7" x="276.6" y="195.5"/><use href="#m7" x="278.8" y="195.5"/><use href="#m7" x="281" y="195.5"/><use href="#m7" x="283.2" y="195.5"/><use href="#m7" x="285.4" y="195.5"/><use href="#m7" x="287.6" y="195.5"/><use href="#m7" x="289.8" y="195.5"/><use href="#m7" x="292" y="195.5"/><use href="#m7" x="294.2" y="195.5"/><use href="#m7" x="296.4" y="195.5"/><use href="#m7" x="298.6" y="195.5"/><use href="#m7" x="300.8" y="195.5"/><use href="#m7" x="303" y="195.5"/><use href="#m7" x="305.2" y="195.5"/><use href="#m7" x="307.4" y="195.5"/><use href="#m7" x="309.6" y="195.5"/><use href="#m7" x="311.8" y="195.5"/><use href="#m7" x="314" y="195.5"/><use href="#m7" x="316.2" y="195.5"/><use href="#m7" x="318.4" y="195.5"/><use href="#m7" x="320.6" y="195.5"/><use href="#m7" x="324.5" y="195.5"/></g>
<path d="M49.5 213.5V0.8H335.5V213.5z" fill="none" stroke="#1a1a1a" stroke-width="1"/>
<path d="M49.5 195h-4.5M49.5 148.7h-2.5M49.5 102.3h-4.5M49.5 56h-2.5M49.5 9.6h-4.5M62.9 213.5v4.5M95.3 213.5v4.5M127.7 213.5v4.5M160.1 213.5v4.5M192.5 213.5v4.5M224.9 213.5v4.5M257.3 213.5v4.5M289.7 213.5v4.5M322.1 213.5v4.5M50 213.5v2.5M53.1 213.5v2.5M55.7 213.5v2.5M57.9 213.5v2.5M59.8 213.5v2.5M61.4 213.5v2.5M72.7 213.5v2.5M78.4 213.5v2.5M82.4 213.5v2.5M85.5 213.5v2.5M88.1 213.5v2.5M90.3 213.5v2.5M92.2 213.5v2.5M93.8 213.5v2.5M105.1 213.5v2.5M110.8 213.5v2.5M114.8 213.5v2.5M117.9 213.5v2.5M120.5 213.5v2.5M122.7 213.5v2.5M124.6 213.5v2.5M126.2 213.5v2.5M137.5 213.5v2.5M143.2 213.5v2.5M147.2 213.5v2.5M150.3 213.5v2.5M152.9 213.5v2.5M155.1 213.5v2.5M157 213.5v2.5M158.6 213.5v2.5M169.9 213.5v2.5M175.6 213.5v2.5M179.6 213.5v2.5M182.7 213.5v2.5M185.3 213.5v2.5M187.5 213.5v2.5M189.4 213.5v2.5M191 213.5v2.5M202.3 213.5v2.5M208 213.5v2.5M212 213.5v2.5M215.1 213.5v2.5M217.7 213.5v2.5M219.9 213.5v2.5M221.8 213.5v2.5M223.4 213.5v2.5M234.7 213.5v2.5M240.4 213.5v2.5M244.4 213.5v2.5M247.5 213.5v2.5M250.1 213.5v2.5M252.3 213.5v2.5M254.2 213.5v2.5M255.8 213.5v2.5M267.1 213.5v2.5M272.8 213.5v2.5M276.8 213.5v2.5M279.9 213.5v2.5M282.5 213.5v2.5M284.7 213.5v2.5M286.6 213.5v2.5M288.2 213.5v2.5M299.5 213.5v2.5M305.2 213.5v2.5M309.2 213.5v2.5M312.3 213.5v2.5M314.9 213.5v2.5M317.1 213.5v2.5M319 213.5v2.5M320.6 213.5v2.5M331.9 213.5v2.5" stroke="#000" stroke-width="1" fill="none"/>
<text x="42.8" y="199.7" font-size="13.8" text-anchor="end">0.0</text>
<text x="42.8" y="107" font-size="13.8" text-anchor="end">0.2</text>
<text x="42.8" y="14.3" font-size="13.8" text-anchor="end">0.4</text>
<text x="64" y="234.2" font-size="12.2" text-anchor="middle" fill="#000">10<tspan font-size="9" dy="-6.3">0</tspan></text>
<text x="96.4" y="234.2" font-size="12.2" text-anchor="middle" fill="#000">10<tspan font-size="9" dy="-6.3">1</tspan></text>
<text x="128.8" y="234.2" font-size="12.2" text-anchor="middle" fill="#000">10<tspan font-size="9" dy="-6.3">2</tspan></text>
<text x="161.2" y="234.2" font-size="12.2" text-anchor="middle" fill="#000">10<tspan font-size="9" dy="-6.3">3</tspan></text>
<text x="193.6" y="234.2" font-size="12.2" text-anchor="middle" fill="#000">10<tspan font-size="9" dy="-6.3">4</tspan></text>
<text x="226" y="234.2" font-size="12.2" text-anchor="middle" fill="#000">10<tspan font-size="9" dy="-6.3">5</tspan></text>
<text x="258.4" y="234.2" font-size="12.2" text-anchor="middle" fill="#000">10<tspan font-size="9" dy="-6.3">6</tspan></text>
<text x="290.8" y="234.2" font-size="12.2" text-anchor="middle" fill="#000">10<tspan font-size="9" dy="-6.3">7</tspan></text>
<text x="323.2" y="234.2" font-size="12.2" text-anchor="middle" fill="#000">10<tspan font-size="9" dy="-6.3">8</tspan></text>
<text x="186.5" y="251" font-size="17.9" text-anchor="middle">f(Hz)</text>
<text transform="translate(13.4 140) rotate(-90)" font-size="15">κ</text>
<text transform="translate(13.4 126.4) rotate(-90)" font-size="18.6">(S/m)</text>
<text x="324.8" y="21.3" font-size="12" font-weight="bold" text-anchor="end">(a) HPW-DMF</text>
<path d="M255.9 205.6V79" stroke="#000" stroke-width="1.1" fill="none"/>
<path d="M255.9 74.8l2.1 6.8h-4.2z" fill="#000"/>
<text x="262" y="80.7" font-size="10.9">0.02386 mol/L</text>
<text x="272" y="208.6" font-size="11.8">0 mol/L</text>
<rect x="73.0" y="7.6" width="115.0" height="88.0" fill="#fff" stroke="#555" stroke-width="0.7"/>
<path d="M73.6 13.75 76 14.4 78.4 15.21 80.8 16.15 83.2 17.35 85.6 18.74 88 20.2 90.4 21.6 92.8 22.94 95.2 24.27 97.6 25.59 100 26.88 102.4 28.12 104.8 29.31 107.2 30.48 109.6 31.69 112 32.96 114.4 34.29 116.8 35.63 119.2 36.96 121.6 38.22 124 39.43 126.4 40.62 128.8 41.84 131.2 43.14 133.6 44.54 136 46 138.4 47.48 140.8 48.94 143.2 50.38 145.6 51.82 148 53.26 150.4 54.7 152.8 56.13 155.2 57.57 157.6 59 160 60.44 162.4 61.87 164.8 63.29 167.2 64.71 169.6 66.16 172 67.65 174.4 69.16 176.8 70.7 179.2 72.27 181.6 73.86" fill="none" stroke="#4a4a4a" stroke-width="4.6"/>
<path d="M73.6 13.75 76 14.4 78.4 15.21 80.8 16.15 83.2 17.35 85.6 18.74 88 20.2 90.4 21.6 92.8 22.94 95.2 24.27 97.6 25.59 100 26.88 102.4 28.12 104.8 29.31 107.2 30.48 109.6 31.69 112 32.96 114.4 34.29 116.8 35.63 119.2 36.96 121.6 38.22 124 39.43 126.4 40.62 128.8 41.84 131.2 43.14 133.6 44.54 136 46 138.4 47.48 140.8 48.94 143.2 50.38 145.6 51.82 148 53.26 150.4 54.7 152.8 56.13 155.2 57.57 157.6 59 160 60.44 162.4 61.87 164.8 63.29 167.2 64.71 169.6 66.16 172 67.65 174.4 69.16 176.8 70.7 179.2 72.27 181.6 73.86" fill="none" stroke="#aaa" stroke-width="3.5"/>
<g fill="#a8a8a8" stroke="#5a5a5a" stroke-width="0.45"><use href="#m8" x="75.6" y="14.3"/><use href="#m8" x="78.7" y="15.3"/><use href="#m8" x="81.8" y="16.6"/><use href="#m8" x="84.9" y="18.3"/><use href="#m8" x="88" y="20.2"/><use href="#m8" x="91.1" y="22"/><use href="#m8" x="94.2" y="23.7"/><use href="#m8" x="97.3" y="25.4"/><use href="#m8" x="100.4" y="27.1"/><use href="#m8" x="103.5" y="28.7"/><use href="#m8" x="106.6" y="30.2"/><use href="#m8" x="109.7" y="31.7"/><use href="#m8" x="112.8" y="33.4"/><use href="#m8" x="115.9" y="35.1"/><use href="#m8" x="119" y="36.8"/><use href="#m8" x="122.1" y="38.5"/><use href="#m8" x="125.2" y="40"/><use href="#m8" x="128.3" y="41.6"/><use href="#m8" x="131.4" y="43.2"/><use href="#m8" x="134.5" y="45.1"/><use href="#m8" x="137.6" y="47"/><use href="#m8" x="140.7" y="48.9"/><use href="#m8" x="143.8" y="50.7"/><use href="#m8" x="146.9" y="52.6"/><use href="#m8" x="150" y="54.5"/><use href="#m8" x="153.1" y="56.3"/><use href="#m8" x="156.2" y="58.2"/><use href="#m8" x="159.3" y="60"/><use href="#m8" x="162.4" y="61.9"/><use href="#m8" x="165.5" y="63.7"/><use href="#m8" x="168.6" y="65.6"/><use href="#m8" x="171.7" y="67.5"/><use href="#m8" x="174.8" y="69.4"/><use href="#m8" x="177.9" y="71.4"/></g>
<g fill="#fff" stroke="#555" stroke-width="0.5"><use href="#m7" x="182.4" y="74.4"/></g>
<path d="M73.6 19.9 76 21.16 78.4 22.44 80.8 23.72 83.2 25.03 85.6 26.36 88 27.68 90.4 29 92.8 30.29 95.2 31.58 97.6 32.87 100 34.2 102.4 35.58 104.8 36.99 107.2 38.42 109.6 39.85 112 41.26 114.4 42.67 116.8 44.08 119.2 45.49 121.6 46.9 124 48.3 126.4 49.7 128.8 51.11 131.2 52.57 133.6 54.08 136 55.63 138.4 57.17 140.8 58.67 143.2 60.13 145.6 61.56 148 62.98 150.4 64.4 152.8 65.82 155.2 67.24 157.6 68.65 160 70.06 162.4 71.47 164.8 72.88 167.2 74.28 169.6 75.68 172 77.07 174.4 78.47 176.8 79.85 179.2 81.23 181.6 82.61" fill="none" stroke="#4a4a4a" stroke-width="4.6"/>
<path d="M73.6 19.9 76 21.16 78.4 22.44 80.8 23.72 83.2 25.03 85.6 26.36 88 27.68 90.4 29 92.8 30.29 95.2 31.58 97.6 32.87 100 34.2 102.4 35.58 104.8 36.99 107.2 38.42 109.6 39.85 112 41.26 114.4 42.67 116.8 44.08 119.2 45.49 121.6 46.9 124 48.3 126.4 49.7 128.8 51.11 131.2 52.57 133.6 54.08 136 55.63 138.4 57.17 140.8 58.67 143.2 60.13 145.6 61.56 148 62.98 150.4 64.4 152.8 65.82 155.2 67.24 157.6 68.65 160 70.06 162.4 71.47 164.8 72.88 167.2 74.28 169.6 75.68 172 77.07 174.4 78.47 176.8 79.85 179.2 81.23 181.6 82.61" fill="none" stroke="#aaa" stroke-width="3.5"/>
<path d="M73.6 19.9 76 21.16 78.4 22.44 80.8 23.72 83.2 25.03 85.6 26.36 88 27.68 90.4 29 92.8 30.29 95.2 31.58 97.6 32.87 100 34.2 102.4 35.58 104.8 36.99 107.2 38.42 109.6 39.85 112 41.26 114.4 42.67 116.8 44.08 119.2 45.49 121.6 46.9 124 48.3 126.4 49.7 128.8 51.11 131.2 52.57 133.6 54.08 136 55.63 138.4 57.17 140.8 58.67 143.2 60.13 145.6 61.56 148 62.98 150.4 64.4 152.8 65.82 155.2 67.24 157.6 68.65 160 70.06 162.4 71.47 164.8 72.88 167.2 74.28 169.6 75.68 172 77.07 174.4 78.47 176.8 79.85 179.2 81.23 181.6 82.61" fill="none" stroke="#666" stroke-width="0.5"/>
<g fill="#fff" stroke="#555" stroke-width="0.5"><use href="#m9" x="182.8" y="83.3"/></g>
<path d="M73.6 27.31 76 28.6 78.4 29.9 80.8 31.24 83.2 32.6 85.6 33.98 88 35.37 90.4 36.78 92.8 38.19 95.2 39.6 97.6 41 100 42.4 102.4 43.78 104.8 45.16 107.2 46.54 109.6 47.94 112 49.38 114.4 50.83 116.8 52.29 119.2 53.77 121.6 55.26 124 56.75 126.4 58.25 128.8 59.76 131.2 61.26 133.6 62.76 136 64.26 138.4 65.78 140.8 67.27 143.2 68.75 145.6 70.23 148 71.71 150.4 73.18 152.8 74.65 155.2 76.12 157.6 77.58 160 79.04 162.4 80.49 164.8 81.94 167.2 83.38 169.6 84.81 172 86.25 174.4 87.67 176.8 89.09 179.2 90.5 181.6 91.9" fill="none" stroke="#4a4a4a" stroke-width="4.6"/>
<path d="M73.6 27.31 76 28.6 78.4 29.9 80.8 31.24 83.2 32.6 85.6 33.98 88 35.37 90.4 36.78 92.8 38.19 95.2 39.6 97.6 41 100 42.4 102.4 43.78 104.8 45.16 107.2 46.54 109.6 47.94 112 49.38 114.4 50.83 116.8 52.29 119.2 53.77 121.6 55.26 124 56.75 126.4 58.25 128.8 59.76 131.2 61.26 133.6 62.76 136 64.26 138.4 65.78 140.8 67.27 143.2 68.75 145.6 70.23 148 71.71 150.4 73.18 152.8 74.65 155.2 76.12 157.6 77.58 160 79.04 162.4 80.49 164.8 81.94 167.2 83.38 169.6 84.81 172 86.25 174.4 87.67 176.8 89.09 179.2 90.5 181.6 91.9" fill="none" stroke="#aaa" stroke-width="3.5"/>
<path d="M87.2 34.9 89.6 36.31 92 37.72 94.4 39.13 96.8 40.53 99.2 41.94 101.6 43.32 104 44.7 106.4 46.08 108.8 47.47 111.2 48.9 113.6 50.34 116 51.8 118.4 53.28 120.8 54.76 123.2 56.25 125.6 57.75 128 59.26 130.4 60.76 132.8 62.26 135.2 63.76 137.6 65.27 140 66.78 142.4 68.26 144.8 69.74 147.2 71.22 149.6 72.69 152 74.16" fill="none" stroke="#333" stroke-width="0.9" stroke-dasharray="2.6 3.4"/>
<g fill="#fff" stroke="#555" stroke-width="0.5"><use href="#m10" x="182.8" y="92.6"/></g>
<path d="M73.0 95h-1.2M73.0 83.1h-2.2M73.0 71.2h-1.2M73.0 59.3h-2.2M73.0 47.4h-1.2M73.0 35.5h-2.2M73.0 23.6h-1.2M73.0 11.7h-2.2M83 95.6v2.2M102.8 95.6v2.2M122.5 95.6v2.2M142.2 95.6v2.2M162 95.6v2.2M181.8 95.6v2.2M75.1 95.6v1.2M77.1 95.6v1.2M78.6 95.6v1.2M79.9 95.6v1.2M81.1 95.6v1.2M82.1 95.6v1.2M88.9 95.6v1.2M92.4 95.6v1.2M94.9 95.6v1.2M96.8 95.6v1.2M98.4 95.6v1.2M99.7 95.6v1.2M100.8 95.6v1.2M101.8 95.6v1.2M108.7 95.6v1.2M112.2 95.6v1.2M114.6 95.6v1.2M116.6 95.6v1.2M118.1 95.6v1.2M119.4 95.6v1.2M120.6 95.6v1.2M121.6 95.6v1.2M128.4 95.6v1.2M131.9 95.6v1.2M134.4 95.6v1.2M136.3 95.6v1.2M137.9 95.6v1.2M139.2 95.6v1.2M140.3 95.6v1.2M141.3 95.6v1.2M148.2 95.6v1.2M151.7 95.6v1.2M154.1 95.6v1.2M156.1 95.6v1.2M157.6 95.6v1.2M158.9 95.6v1.2M160.1 95.6v1.2M161.1 95.6v1.2M167.9 95.6v1.2M171.4 95.6v1.2M173.9 95.6v1.2M175.8 95.6v1.2M177.4 95.6v1.2M178.7 95.6v1.2M179.8 95.6v1.2M180.8 95.6v1.2M187.7 95.6v1.2" stroke="#555" stroke-width="0.6" fill="none"/>
<text x="70.6" y="85.6" font-size="6.9" text-anchor="end" fill="#111">10<tspan font-size="4.8" dy="-3.4">1</tspan></text>
<text x="70.6" y="61.8" font-size="6.9" text-anchor="end" fill="#111">10<tspan font-size="4.8" dy="-3.4">3</tspan></text>
<text x="70.6" y="38" font-size="6.9" text-anchor="end" fill="#111">10<tspan font-size="4.8" dy="-3.4">5</tspan></text>
<text x="70.6" y="14.2" font-size="6.9" text-anchor="end" fill="#111">10<tspan font-size="4.8" dy="-3.4">7</tspan></text>
<text x="83.7" y="106.3" font-size="6.9" text-anchor="middle" fill="#111">10<tspan font-size="4.8" dy="-3.4">3</tspan></text>
<text x="103.5" y="106.3" font-size="6.9" text-anchor="middle" fill="#111">10<tspan font-size="4.8" dy="-3.4">4</tspan></text>
<text x="123.2" y="106.3" font-size="6.9" text-anchor="middle" fill="#111">10<tspan font-size="4.8" dy="-3.4">5</tspan></text>
<text x="142.9" y="106.3" font-size="6.9" text-anchor="middle" fill="#111">10<tspan font-size="4.8" dy="-3.4">6</tspan></text>
<text x="162.7" y="106.3" font-size="6.9" text-anchor="middle" fill="#111">10<tspan font-size="4.8" dy="-3.4">7</tspan></text>
<text x="126.8" y="114" font-size="9" text-anchor="middle" fill="#222">log (f/Hz)</text>
<text transform="translate(57.4 52.8) rotate(-90)" font-size="10.2" fill="#000">log <tspan font-size="7.2">ε″</tspan></text>
<path d="M110.6 53V61.6H123" fill="none" stroke="#666" stroke-width="0.7"/>
<text x="94" y="73" font-size="9.7" fill="#222">slope=-1</text>
<g fill="#fff" stroke="#333" stroke-width="0.6"><use href="#m11" x="132.4" y="16.4"/></g>
<g fill="#fff" stroke="#333" stroke-width="0.6"><use href="#m12" x="132.4" y="24"/></g>
<g fill="#fff" stroke="#333" stroke-width="0.6"><use href="#m13" x="132.4" y="31.6"/></g>
<text x="141" y="18.4" font-size="5.8" font-weight="bold" fill="#000">0.02386 mol/L</text>
<text x="141" y="26" font-size="5.8" font-weight="bold" fill="#000">0.003579 mol/L</text>
<text x="141" y="33.5" font-size="5.8" font-weight="bold" fill="#000">0.0005706 mol/L</text>
</g>
<g id="panelB">
<g fill="#fff" stroke="#2a2a2a" stroke-width="0.5"><use href="#m0" x="419" y="192.5"/><use href="#m0" x="421.2" y="191.1"/><use href="#m0" x="423.4" y="189.8"/><use href="#m0" x="425.6" y="188.5"/><use href="#m0" x="427.8" y="187.2"/><use href="#m0" x="430" y="186"/><use href="#m0" x="432.2" y="184.8"/><use href="#m0" x="434.4" y="183.6"/><use href="#m0" x="436.6" y="182.5"/><use href="#m0" x="438.8" y="181.5"/><use href="#m0" x="441" y="180.6"/><use href="#m0" x="443.2" y="179.7"/><use href="#m0" x="445.4" y="178.9"/><use href="#m0" x="447.6" y="178.2"/><use href="#m0" x="449.8" y="177.6"/><use href="#m0" x="452" y="177"/><use href="#m0" x="454.2" y="176.4"/><use href="#m0" x="456.4" y="176"/><use href="#m0" x="458.6" y="175.5"/><use href="#m0" x="460.8" y="175.2"/><use href="#m0" x="463" y="174.8"/><use href="#m0" x="465.2" y="174.5"/><use href="#m0" x="467.4" y="174.2"/><use href="#m0" x="469.6" y="174"/><use href="#m0" x="471.8" y="173.9"/><use href="#m0" x="474" y="173.7"/><use href="#m0" x="476.2" y="173.6"/><use href="#m0" x="478.4" y="173.4"/><use href="#m0" x="480.6" y="173.3"/><use href="#m0" x="482.8" y="173.2"/><use href="#m0" x="485" y="173.1"/><use href="#m0" x="487.2" y="173.1"/><use href="#m0" x="489.4" y="173"/><use href="#m0" x="491.6" y="173"/><use href="#m0" x="493.8" y="172.9"/><use href="#m0" x="496" y="172.9"/><use href="#m0" x="498.2" y="172.8"/><use href="#m0" x="500.4" y="172.8"/><use href="#m0" x="502.6" y="172.8"/><use href="#m0" x="504.8" y="172.7"/><use href="#m0" x="507" y="172.7"/><use href="#m0" x="509.2" y="172.7"/><use href="#m0" x="511.4" y="172.6"/><use href="#m0" x="513.6" y="172.6"/><use href="#m0" x="515.8" y="172.6"/><use href="#m0" x="518" y="172.6"/><use href="#m0" x="520.2" y="172.5"/><use href="#m0" x="522.4" y="172.5"/><use href="#m0" x="524.6" y="172.5"/><use href="#m0" x="526.8" y="172.5"/><use href="#m0" x="529" y="172.5"/><use href="#m0" x="531.2" y="172.4"/><use href="#m0" x="533.4" y="172.4"/><use href="#m0" x="535.6" y="172.4"/><use href="#m0" x="537.8" y="172.4"/><use href="#m0" x="540" y="172.4"/><use href="#m0" x="542.2" y="172.4"/><use href="#m0" x="544.4" y="172.3"/><use href="#m0" x="546.6" y="172.3"/><use href="#m0" x="548.8" y="172.3"/><use href="#m0" x="551" y="172.3"/><use href="#m0" x="553.2" y="172.3"/><use href="#m0" x="555.4" y="172.3"/><use href="#m0" x="557.6" y="172.2"/><use href="#m0" x="559.8" y="172.2"/><use href="#m0" x="562" y="172.2"/><use href="#m0" x="564.2" y="172.2"/><use href="#m0" x="566.4" y="172.2"/><use href="#m0" x="568.6" y="172.1"/><use href="#m0" x="570.8" y="172.1"/><use href="#m0" x="573" y="172.1"/><use href="#m0" x="575.2" y="172.1"/><use href="#m0" x="577.4" y="172.1"/><use href="#m0" x="579.6" y="172.1"/><use href="#m0" x="581.8" y="172.1"/><use href="#m0" x="584" y="172"/><use href="#m0" x="586.2" y="172"/><use href="#m0" x="588.4" y="172"/><use href="#m0" x="590.6" y="172"/><use href="#m0" x="592.8" y="172"/><use href="#m0" x="595" y="172"/><use href="#m0" x="597.2" y="172"/><use href="#m0" x="599.4" y="172"/><use href="#m0" x="601.6" y="172"/><use href="#m0" x="603.8" y="172"/><use href="#m0" x="606" y="172"/><use href="#m0" x="608.2" y="172"/><use href="#m0" x="610.4" y="172"/><use href="#m0" x="612.6" y="172"/><use href="#m0" x="614.8" y="172"/><use href="#m0" x="617" y="172"/><use href="#m0" x="619.2" y="172"/><use href="#m0" x="621.4" y="172"/><use href="#m0" x="623.6" y="172"/><use href="#m0" x="625.8" y="172"/><use href="#m0" x="628" y="172"/><use href="#m0" x="630.2" y="171.9"/><use href="#m0" x="632.4" y="171.9"/><use href="#m0" x="634.6" y="171.8"/><use href="#m0" x="636.8" y="171.7"/><use href="#m0" x="639" y="171.6"/><use href="#m0" x="641.2" y="171.5"/><use href="#m0" x="643.4" y="171.4"/><use href="#m0" x="645.6" y="171.2"/><use href="#m0" x="648" y="171"/></g>
<g fill="#fff" stroke="#2a2a2a" stroke-width="0.5"><use href="#m14" x="419" y="192.3"/><use href="#m14" x="421.2" y="190.6"/><use href="#m14" x="423.4" y="189"/><use href="#m14" x="425.6" y="187.5"/><use href="#m14" x="427.8" y="186"/><use href="#m14" x="430" y="184.5"/><use href="#m14" x="432.2" y="183.1"/><use href="#m14" x="434.4" y="181.7"/><use href="#m14" x="436.6" y="180.4"/><use href="#m14" x="438.8" y="179.1"/><use href="#m14" x="441" y="178"/><use href="#m14" x="443.2" y="176.9"/><use href="#m14" x="445.4" y="175.8"/><use href="#m14" x="447.6" y="174.9"/><use href="#m14" x="449.8" y="174.1"/><use href="#m14" x="452" y="173.4"/><use href="#m14" x="454.2" y="172.7"/><use href="#m14" x="456.4" y="172.1"/><use href="#m14" x="458.6" y="171.6"/><use href="#m14" x="460.8" y="171.1"/><use href="#m14" x="463" y="170.7"/><use href="#m14" x="465.2" y="170.3"/><use href="#m14" x="467.4" y="170"/><use href="#m14" x="469.6" y="169.7"/><use href="#m14" x="471.8" y="169.5"/><use href="#m14" x="474" y="169.4"/><use href="#m14" x="476.2" y="169.2"/><use href="#m14" x="478.4" y="169"/><use href="#m14" x="480.6" y="168.9"/><use href="#m14" x="482.8" y="168.8"/><use href="#m14" x="485" y="168.7"/><use href="#m14" x="487.2" y="168.6"/><use href="#m14" x="489.4" y="168.5"/><use href="#m14" x="491.6" y="168.5"/><use href="#m14" x="493.8" y="168.4"/><use href="#m14" x="496" y="168.3"/><use href="#m14" x="498.2" y="168.3"/><use href="#m14" x="500.4" y="168.3"/><use href="#m14" x="502.6" y="168.2"/><use href="#m14" x="504.8" y="168.2"/><use href="#m14" x="507" y="168.1"/><use href="#m14" x="509.2" y="168.1"/><use href="#m14" x="511.4" y="168"/><use href="#m14" x="513.6" y="168"/><use href="#m14" x="515.8" y="168"/><use href="#m14" x="518" y="167.9"/><use href="#m14" x="520.2" y="167.9"/><use href="#m14" x="522.4" y="167.9"/><use href="#m14" x="524.6" y="167.9"/><use href="#m14" x="526.8" y="167.8"/><use href="#m14" x="529" y="167.8"/><use href="#m14" x="531.2" y="167.8"/><use href="#m14" x="533.4" y="167.8"/><use href="#m14" x="535.6" y="167.7"/><use href="#m14" x="537.8" y="167.7"/><use href="#m14" x="540" y="167.7"/><use href="#m14" x="542.2" y="167.7"/><use href="#m14" x="544.4" y="167.6"/><use href="#m14" x="546.6" y="167.6"/><use href="#m14" x="548.8" y="167.6"/><use href="#m14" x="551" y="167.6"/><use href="#m14" x="553.2" y="167.6"/><use href="#m14" x="555.4" y="167.6"/><use href="#m14" x="557.6" y="167.5"/><use href="#m14" x="559.8" y="167.5"/><use href="#m14" x="562" y="167.5"/><use href="#m14" x="564.2" y="167.5"/><use href="#m14" x="566.4" y="167.5"/><use href="#m14" x="568.6" y="167.5"/><use href="#m14" x="570.8" y="167.5"/><use href="#m14" x="573" y="167.4"/><use href="#m14" x="575.2" y="167.4"/><use href="#m14" x="577.4" y="167.4"/><use href="#m14" x="579.6" y="167.4"/><use href="#m14" x="581.8" y="167.4"/><use href="#m14" x="584" y="167.4"/><use href="#m14" x="586.2" y="167.4"/><use href="#m14" x="588.4" y="167.4"/><use href="#m14" x="590.6" y="167.3"/><use href="#m14" x="592.8" y="167.3"/><use href="#m14" x="595" y="167.3"/><use href="#m14" x="597.2" y="167.3"/><use href="#m14" x="599.4" y="167.3"/><use href="#m14" x="601.6" y="167.3"/><use href="#m14" x="603.8" y="167.3"/><use href="#m14" x="606" y="167.3"/><use href="#m14" x="608.2" y="167.3"/><use href="#m14" x="610.4" y="167.3"/><use href="#m14" x="612.6" y="167.3"/><use href="#m14" x="614.8" y="167.3"/><use href="#m14" x="617" y="167.2"/><use href="#m14" x="619.2" y="167.2"/><use href="#m14" x="621.4" y="167.2"/><use href="#m14" x="623.6" y="167.2"/><use href="#m14" x="625.8" y="167.2"/><use href="#m14" x="628" y="167.1"/><use href="#m14" x="630.2" y="167.1"/><use href="#m14" x="632.4" y="167"/><use href="#m14" x="634.6" y="166.9"/><use href="#m14" x="636.8" y="166.7"/><use href="#m14" x="639" y="166.6"/><use href="#m14" x="641.2" y="166.4"/><use href="#m14" x="643.4" y="166.2"/><use href="#m14" x="645.6" y="165.9"/><use href="#m14" x="648" y="165.5"/></g>
<g fill="#fff" stroke="#2a2a2a" stroke-width="0.5"><use href="#m2" x="419" y="192"/><use href="#m2" x="421.2" y="189.9"/><use href="#m2" x="423.4" y="187.8"/><use href="#m2" x="425.6" y="185.8"/><use href="#m2" x="427.8" y="183.8"/><use href="#m2" x="430" y="182"/><use href="#m2" x="432.2" y="180.2"/><use href="#m2" x="434.4" y="178.5"/><use href="#m2" x="436.6" y="176.9"/><use href="#m2" x="438.8" y="175.3"/><use href="#m2" x="441" y="173.8"/><use href="#m2" x="443.2" y="172.4"/><use href="#m2" x="445.4" y="171.1"/><use href="#m2" x="447.6" y="169.8"/><use href="#m2" x="449.8" y="168.6"/><use href="#m2" x="452" y="167.5"/><use href="#m2" x="454.2" y="166.4"/><use href="#m2" x="456.4" y="165.4"/><use href="#m2" x="458.6" y="164.5"/><use href="#m2" x="460.8" y="163.7"/><use href="#m2" x="463" y="162.9"/><use href="#m2" x="465.2" y="162.2"/><use href="#m2" x="467.4" y="161.5"/><use href="#m2" x="469.6" y="161.1"/><use href="#m2" x="471.8" y="160.7"/><use href="#m2" x="474" y="160.4"/><use href="#m2" x="476.2" y="160.1"/><use href="#m2" x="478.4" y="159.9"/><use href="#m2" x="480.6" y="159.6"/><use href="#m2" x="482.8" y="159.4"/><use href="#m2" x="485" y="159.3"/><use href="#m2" x="487.2" y="159.1"/><use href="#m2" x="489.4" y="159"/><use href="#m2" x="491.6" y="158.9"/><use href="#m2" x="493.8" y="158.9"/><use href="#m2" x="496" y="158.8"/><use href="#m2" x="498.2" y="158.8"/><use href="#m2" x="500.4" y="158.7"/><use href="#m2" x="502.6" y="158.6"/><use href="#m2" x="504.8" y="158.6"/><use href="#m2" x="507" y="158.5"/><use href="#m2" x="509.2" y="158.5"/><use href="#m2" x="511.4" y="158.4"/><use href="#m2" x="513.6" y="158.4"/><use href="#m2" x="515.8" y="158.3"/><use href="#m2" x="518" y="158.3"/><use href="#m2" x="520.2" y="158.3"/><use href="#m2" x="522.4" y="158.2"/><use href="#m2" x="524.6" y="158.2"/><use href="#m2" x="526.8" y="158.2"/><use href="#m2" x="529" y="158.1"/><use href="#m2" x="531.2" y="158.1"/><use href="#m2" x="533.4" y="158.1"/><use href="#m2" x="535.6" y="158.1"/><use href="#m2" x="537.8" y="158"/><use href="#m2" x="540" y="158"/><use href="#m2" x="542.2" y="158"/><use href="#m2" x="544.4" y="158"/><use href="#m2" x="546.6" y="158"/><use href="#m2" x="548.8" y="158"/><use href="#m2" x="551" y="158"/><use href="#m2" x="553.2" y="158"/><use href="#m2" x="555.4" y="158"/><use href="#m2" x="557.6" y="158"/><use href="#m2" x="559.8" y="158"/><use href="#m2" x="562" y="158"/><use href="#m2" x="564.2" y="158"/><use href="#m2" x="566.4" y="158"/><use href="#m2" x="568.6" y="158"/><use href="#m2" x="570.8" y="158"/><use href="#m2" x="573" y="158"/><use href="#m2" x="575.2" y="158"/><use href="#m2" x="577.4" y="158"/><use href="#m2" x="579.6" y="158"/><use href="#m2" x="581.8" y="158"/><use href="#m2" x="584" y="158"/><use href="#m2" x="586.2" y="158"/><use href="#m2" x="588.4" y="158"/><use href="#m2" x="590.6" y="158"/><use href="#m2" x="592.8" y="158"/><use href="#m2" x="595" y="158"/><use href="#m2" x="597.2" y="158"/><use href="#m2" x="599.4" y="158"/><use href="#m2" x="601.6" y="158"/><use href="#m2" x="603.8" y="158"/><use href="#m2" x="606" y="158"/><use href="#m2" x="608.2" y="157.9"/><use href="#m2" x="610.4" y="157.9"/><use href="#m2" x="612.6" y="157.9"/><use href="#m2" x="614.8" y="157.8"/><use href="#m2" x="617" y="157.7"/><use href="#m2" x="619.2" y="157.7"/><use href="#m2" x="621.4" y="157.6"/><use href="#m2" x="623.6" y="157.5"/><use href="#m2" x="625.8" y="157.5"/><use href="#m2" x="628" y="157.4"/><use href="#m2" x="630.2" y="157.2"/><use href="#m2" x="632.4" y="157.1"/><use href="#m2" x="634.6" y="156.9"/><use href="#m2" x="636.8" y="156.6"/><use href="#m2" x="639" y="156.4"/><use href="#m2" x="641.2" y="156.2"/><use href="#m2" x="643.4" y="155.8"/><use href="#m2" x="645.6" y="155.4"/><use href="#m2" x="648" y="155"/></g>
<g fill="#fff" stroke="#2a2a2a" stroke-width="0.5"><use href="#m15" x="419" y="192"/><use href="#m15" x="421.2" y="189.7"/><use href="#m15" x="423.4" y="187.5"/><use href="#m15" x="425.6" y="185.3"/><use href="#m15" x="427.8" y="183.1"/><use href="#m15" x="430" y="181"/><use href="#m15" x="432.2" y="178.9"/><use href="#m15" x="434.4" y="176.9"/><use href="#m15" x="436.6" y="174.9"/><use href="#m15" x="438.8" y="173"/><use href="#m15" x="441" y="171.2"/><use href="#m15" x="443.2" y="169.5"/><use href="#m15" x="445.4" y="168"/><use href="#m15" x="447.6" y="166.5"/><use href="#m15" x="449.8" y="165.1"/><use href="#m15" x="452" y="163.9"/><use href="#m15" x="454.2" y="162.7"/><use href="#m15" x="456.4" y="161.5"/><use href="#m15" x="458.6" y="160.6"/><use href="#m15" x="460.8" y="159.7"/><use href="#m15" x="463" y="158.9"/><use href="#m15" x="465.2" y="158.2"/><use href="#m15" x="467.4" y="157.6"/><use href="#m15" x="469.6" y="157.1"/><use href="#m15" x="471.8" y="156.7"/><use href="#m15" x="474" y="156.3"/><use href="#m15" x="476.2" y="156"/><use href="#m15" x="478.4" y="155.6"/><use href="#m15" x="480.6" y="155.4"/><use href="#m15" x="482.8" y="155.1"/><use href="#m15" x="485" y="154.9"/><use href="#m15" x="487.2" y="154.7"/><use href="#m15" x="489.4" y="154.6"/><use href="#m15" x="491.6" y="154.5"/><use href="#m15" x="493.8" y="154.5"/><use href="#m15" x="496" y="154.4"/><use href="#m15" x="498.2" y="154.3"/><use href="#m15" x="500.4" y="154.3"/><use href="#m15" x="502.6" y="154.2"/><use href="#m15" x="504.8" y="154.2"/><use href="#m15" x="507" y="154.1"/><use href="#m15" x="509.2" y="154.1"/><use href="#m15" x="511.4" y="154"/><use href="#m15" x="513.6" y="154"/><use href="#m15" x="515.8" y="153.9"/><use href="#m15" x="518" y="153.9"/><use href="#m15" x="520.2" y="153.8"/><use href="#m15" x="522.4" y="153.8"/><use href="#m15" x="524.6" y="153.8"/><use href="#m15" x="526.8" y="153.7"/><use href="#m15" x="529" y="153.7"/><use href="#m15" x="531.2" y="153.7"/><use href="#m15" x="533.4" y="153.7"/><use href="#m15" x="535.6" y="153.7"/><use href="#m15" x="537.8" y="153.6"/><use href="#m15" x="540" y="153.6"/><use href="#m15" x="542.2" y="153.6"/><use href="#m15" x="544.4" y="153.6"/><use href="#m15" x="546.6" y="153.6"/><use href="#m15" x="548.8" y="153.6"/><use href="#m15" x="551" y="153.6"/><use href="#m15" x="553.2" y="153.6"/><use href="#m15" x="555.4" y="153.6"/><use href="#m15" x="557.6" y="153.6"/><use href="#m15" x="559.8" y="153.6"/><use href="#m15" x="562" y="153.6"/><use href="#m15" x="564.2" y="153.6"/><use href="#m15" x="566.4" y="153.6"/><use href="#m15" x="568.6" y="153.6"/><use href="#m15" x="570.8" y="153.6"/><use href="#m15" x="573" y="153.6"/><use href="#m15" x="575.2" y="153.6"/><use href="#m15" x="577.4" y="153.6"/><use href="#m15" x="579.6" y="153.6"/><use href="#m15" x="581.8" y="153.6"/><use href="#m15" x="584" y="153.6"/><use href="#m15" x="586.2" y="153.6"/><use href="#m15" x="588.4" y="153.6"/><use href="#m15" x="590.6" y="153.6"/><use href="#m15" x="592.8" y="153.6"/><use href="#m15" x="595" y="153.6"/><use href="#m15" x="597.2" y="153.6"/><use href="#m15" x="599.4" y="153.6"/><use href="#m15" x="601.6" y="153.6"/><use href="#m15" x="603.8" y="153.6"/><use href="#m15" x="606" y="153.6"/><use href="#m15" x="608.2" y="153.5"/><use href="#m15" x="610.4" y="153.5"/><use href="#m15" x="612.6" y="153.4"/><use href="#m15" x="614.8" y="153.4"/><use href="#m15" x="617" y="153.3"/><use href="#m15" x="619.2" y="153.2"/><use href="#m15" x="621.4" y="153.1"/><use href="#m15" x="623.6" y="153.1"/><use href="#m15" x="625.8" y="153"/><use href="#m15" x="628" y="152.8"/><use href="#m15" x="630.2" y="152.6"/><use href="#m15" x="632.4" y="152.3"/><use href="#m15" x="634.6" y="151.9"/><use href="#m15" x="636.8" y="151.6"/><use href="#m15" x="639" y="151.2"/><use href="#m15" x="641.2" y="150.8"/><use href="#m15" x="643.4" y="150.3"/><use href="#m15" x="645.6" y="149.7"/><use href="#m15" x="648" y="149"/></g>
<g fill="none" stroke="#2a2a2a" stroke-width="0.45"><use href="#m3" x="419" y="192"/><use href="#m3" x="421.2" y="189.6"/><use href="#m3" x="423.4" y="187.1"/><use href="#m3" x="425.6" y="184.5"/><use href="#m3" x="427.8" y="181.8"/><use href="#m3" x="430" y="179"/><use href="#m3" x="432.2" y="176.1"/><use href="#m3" x="434.4" y="173"/><use href="#m3" x="436.6" y="169.8"/><use href="#m3" x="438.8" y="166.7"/><use href="#m3" x="441" y="163.6"/><use href="#m3" x="443.2" y="160.6"/><use href="#m3" x="445.4" y="157.5"/><use href="#m3" x="447.6" y="154.5"/><use href="#m3" x="449.8" y="151.6"/><use href="#m3" x="452" y="148.8"/><use href="#m3" x="454.2" y="146"/><use href="#m3" x="456.4" y="143.2"/><use href="#m3" x="458.6" y="140.5"/><use href="#m3" x="460.8" y="138.3"/><use href="#m3" x="463" y="136.5"/><use href="#m3" x="465.2" y="134.9"/><use href="#m3" x="467.4" y="133.4"/><use href="#m3" x="469.6" y="132.2"/><use href="#m3" x="471.8" y="131.1"/><use href="#m3" x="474" y="130.1"/><use href="#m3" x="476.2" y="129.2"/><use href="#m3" x="478.4" y="128.5"/><use href="#m3" x="480.6" y="127.8"/><use href="#m3" x="482.8" y="127.3"/><use href="#m3" x="485" y="126.8"/><use href="#m3" x="487.2" y="126.4"/><use href="#m3" x="489.4" y="126.1"/><use href="#m3" x="491.6" y="125.8"/><use href="#m3" x="493.8" y="125.5"/><use href="#m3" x="496" y="125.3"/><use href="#m3" x="498.2" y="125.1"/><use href="#m3" x="500.4" y="124.9"/><use href="#m3" x="502.6" y="124.7"/><use href="#m3" x="504.8" y="124.5"/><use href="#m3" x="507" y="124.4"/><use href="#m3" x="509.2" y="124.2"/><use href="#m3" x="511.4" y="124.1"/><use href="#m3" x="513.6" y="124"/><use href="#m3" x="515.8" y="123.9"/><use href="#m3" x="518" y="123.8"/><use href="#m3" x="520.2" y="123.8"/><use href="#m3" x="522.4" y="123.7"/><use href="#m3" x="524.6" y="123.6"/><use href="#m3" x="526.8" y="123.6"/><use href="#m3" x="529" y="123.5"/><use href="#m3" x="531.2" y="123.4"/><use href="#m3" x="533.4" y="123.4"/><use href="#m3" x="535.6" y="123.3"/><use href="#m3" x="537.8" y="123.3"/><use href="#m3" x="540" y="123.2"/><use href="#m3" x="542.2" y="123.1"/><use href="#m3" x="544.4" y="123.1"/><use href="#m3" x="546.6" y="123"/><use href="#m3" x="548.8" y="123"/><use href="#m3" x="551" y="122.9"/><use href="#m3" x="553.2" y="122.8"/><use href="#m3" x="555.4" y="122.8"/><use href="#m3" x="557.6" y="122.7"/><use href="#m3" x="559.8" y="122.7"/><use href="#m3" x="562" y="122.6"/><use href="#m3" x="564.2" y="122.6"/><use href="#m3" x="566.4" y="122.5"/><use href="#m3" x="568.6" y="122.5"/><use href="#m3" x="570.8" y="122.5"/><use href="#m3" x="573" y="122.4"/><use href="#m3" x="575.2" y="122.4"/><use href="#m3" x="577.4" y="122.4"/><use href="#m3" x="579.6" y="122.4"/><use href="#m3" x="581.8" y="122.4"/><use href="#m3" x="584" y="122.4"/><use href="#m3" x="586.2" y="122.4"/><use href="#m3" x="588.4" y="122.4"/><use href="#m3" x="590.6" y="122.4"/><use href="#m3" x="592.8" y="122.4"/><use href="#m3" x="595" y="122.4"/><use href="#m3" x="597.2" y="122.4"/><use href="#m3" x="599.4" y="122.4"/><use href="#m3" x="601.6" y="122.4"/><use href="#m3" x="603.8" y="122.4"/><use href="#m3" x="606" y="122.4"/><use href="#m3" x="608.2" y="122.3"/><use href="#m3" x="610.4" y="122.3"/><use href="#m3" x="612.6" y="122.2"/><use href="#m3" x="614.8" y="122.2"/><use href="#m3" x="617" y="122.1"/><use href="#m3" x="619.2" y="122"/><use href="#m3" x="621.4" y="121.9"/><use href="#m3" x="623.6" y="121.8"/><use href="#m3" x="625.8" y="121.6"/><use href="#m3" x="628" y="121.4"/><use href="#m3" x="630.2" y="121.2"/><use href="#m3" x="632.4" y="120.9"/><use href="#m3" x="634.6" y="120.7"/><use href="#m3" x="636.8" y="120.3"/><use href="#m3" x="639" y="119.9"/><use href="#m3" x="641.2" y="119.4"/><use href="#m3" x="643.4" y="118.9"/><use href="#m3" x="645.6" y="118.3"/><use href="#m3" x="648" y="117.6"/></g>
<g fill="#fff" stroke="#2a2a2a" stroke-width="0.45"><use href="#m3" x="648" y="117.6"/></g>
<g fill="none" stroke="#2a2a2a" stroke-width="0.45"><use href="#m14" x="419" y="192"/><use href="#m14" x="421.2" y="189.5"/><use href="#m14" x="423.4" y="186.8"/><use href="#m14" x="425.6" y="184"/><use href="#m14" x="427.8" y="181.1"/><use href="#m14" x="430" y="178"/><use href="#m14" x="432.2" y="174.8"/><use href="#m14" x="434.4" y="171.3"/><use href="#m14" x="436.6" y="167.8"/><use href="#m14" x="438.8" y="164.1"/><use href="#m14" x="441" y="160.2"/><use href="#m14" x="443.2" y="156.1"/><use href="#m14" x="445.4" y="151.9"/><use href="#m14" x="447.6" y="148"/><use href="#m14" x="449.8" y="144.4"/><use href="#m14" x="452" y="141"/><use href="#m14" x="454.2" y="137.6"/><use href="#m14" x="456.4" y="134.3"/><use href="#m14" x="458.6" y="131.4"/><use href="#m14" x="460.8" y="129.3"/><use href="#m14" x="463" y="127.7"/><use href="#m14" x="465.2" y="126.4"/><use href="#m14" x="467.4" y="125.2"/><use href="#m14" x="469.6" y="124.2"/><use href="#m14" x="471.8" y="123.3"/><use href="#m14" x="474" y="122.4"/><use href="#m14" x="476.2" y="121.7"/><use href="#m14" x="478.4" y="121"/><use href="#m14" x="480.6" y="120.4"/><use href="#m14" x="482.8" y="119.9"/><use href="#m14" x="485" y="119.4"/><use href="#m14" x="487.2" y="119"/><use href="#m14" x="489.4" y="118.7"/><use href="#m14" x="491.6" y="118.4"/><use href="#m14" x="493.8" y="118.2"/><use href="#m14" x="496" y="118"/><use href="#m14" x="498.2" y="117.8"/><use href="#m14" x="500.4" y="117.6"/><use href="#m14" x="502.6" y="117.4"/><use href="#m14" x="504.8" y="117.3"/><use href="#m14" x="507" y="117.2"/><use href="#m14" x="509.2" y="117"/><use href="#m14" x="511.4" y="116.9"/><use href="#m14" x="513.6" y="116.8"/><use href="#m14" x="515.8" y="116.7"/><use href="#m14" x="518" y="116.6"/><use href="#m14" x="520.2" y="116.6"/><use href="#m14" x="522.4" y="116.5"/><use href="#m14" x="524.6" y="116.4"/><use href="#m14" x="526.8" y="116.3"/><use href="#m14" x="529" y="116.3"/><use href="#m14" x="531.2" y="116.2"/><use href="#m14" x="533.4" y="116.2"/><use href="#m14" x="535.6" y="116.1"/><use href="#m14" x="537.8" y="116"/><use href="#m14" x="540" y="116"/><use href="#m14" x="542.2" y="116"/><use href="#m14" x="544.4" y="115.9"/><use href="#m14" x="546.6" y="115.9"/><use href="#m14" x="548.8" y="115.8"/><use href="#m14" x="551" y="115.8"/><use href="#m14" x="553.2" y="115.7"/><use href="#m14" x="555.4" y="115.7"/><use href="#m14" x="557.6" y="115.7"/><use href="#m14" x="559.8" y="115.6"/><use href="#m14" x="562" y="115.6"/><use href="#m14" x="564.2" y="115.6"/><use href="#m14" x="566.4" y="115.5"/><use href="#m14" x="568.6" y="115.5"/><use href="#m14" x="570.8" y="115.5"/><use href="#m14" x="573" y="115.5"/><use href="#m14" x="575.2" y="115.4"/><use href="#m14" x="577.4" y="115.4"/><use href="#m14" x="579.6" y="115.4"/><use href="#m14" x="581.8" y="115.4"/><use href="#m14" x="584" y="115.4"/><use href="#m14" x="586.2" y="115.4"/><use href="#m14" x="588.4" y="115.4"/><use href="#m14" x="590.6" y="115.4"/><use href="#m14" x="592.8" y="115.3"/><use href="#m14" x="595" y="115.3"/><use href="#m14" x="597.2" y="115.3"/><use href="#m14" x="599.4" y="115.3"/><use href="#m14" x="601.6" y="115.3"/><use href="#m14" x="603.8" y="115.2"/><use href="#m14" x="606" y="115.2"/><use href="#m14" x="608.2" y="115.1"/><use href="#m14" x="610.4" y="115.1"/><use href="#m14" x="612.6" y="115"/><use href="#m14" x="614.8" y="114.9"/><use href="#m14" x="617" y="114.8"/><use href="#m14" x="619.2" y="114.6"/><use href="#m14" x="621.4" y="114.5"/><use href="#m14" x="623.6" y="114.3"/><use href="#m14" x="625.8" y="114"/><use href="#m14" x="628" y="113.7"/><use href="#m14" x="630.2" y="113.4"/><use href="#m14" x="632.4" y="113"/><use href="#m14" x="634.6" y="112.6"/><use href="#m14" x="636.8" y="112.1"/><use href="#m14" x="639" y="111.5"/><use href="#m14" x="641.2" y="110.9"/><use href="#m14" x="643.4" y="110.1"/><use href="#m14" x="645.6" y="109.3"/><use href="#m14" x="648" y="108.4"/></g>
<g fill="#fff" stroke="#2a2a2a" stroke-width="0.45"><use href="#m14" x="648" y="108.4"/></g>
<g fill="#fff" stroke="#2a2a2a" stroke-width="0.5"><use href="#m5" x="419" y="192"/><use href="#m5" x="421.2" y="189.3"/><use href="#m5" x="423.4" y="186.4"/><use href="#m5" x="425.6" y="183.4"/><use href="#m5" x="427.8" y="180.3"/><use href="#m5" x="430" y="177"/><use href="#m5" x="432.2" y="173.6"/><use href="#m5" x="434.4" y="170"/><use href="#m5" x="436.6" y="166.2"/><use href="#m5" x="438.8" y="162.2"/><use href="#m5" x="441" y="158"/><use href="#m5" x="443.2" y="153.4"/><use href="#m5" x="445.4" y="148.6"/><use href="#m5" x="447.6" y="143.8"/><use href="#m5" x="449.8" y="139.4"/><use href="#m5" x="452" y="135"/><use href="#m5" x="454.2" y="130.6"/><use href="#m5" x="456.4" y="125.6"/><use href="#m5" x="458.6" y="120.7"/><use href="#m5" x="460.8" y="117.6"/><use href="#m5" x="463" y="115.5"/><use href="#m5" x="465.2" y="113.9"/><use href="#m5" x="467.4" y="112.4"/><use href="#m5" x="469.6" y="111.2"/><use href="#m5" x="471.8" y="110.1"/><use href="#m5" x="474" y="109"/><use href="#m5" x="476.2" y="108"/><use href="#m5" x="478.4" y="107.2"/><use href="#m5" x="480.6" y="106.4"/><use href="#m5" x="482.8" y="105.7"/><use href="#m5" x="485" y="105.1"/><use href="#m5" x="487.2" y="104.6"/><use href="#m5" x="489.4" y="104.1"/><use href="#m5" x="491.6" y="103.7"/><use href="#m5" x="493.8" y="103.2"/><use href="#m5" x="496" y="102.8"/><use href="#m5" x="498.2" y="102.4"/><use href="#m5" x="500.4" y="102"/><use href="#m5" x="502.6" y="101.7"/><use href="#m5" x="504.8" y="101.3"/><use href="#m5" x="507" y="101.1"/><use href="#m5" x="509.2" y="100.9"/><use href="#m5" x="511.4" y="100.7"/><use href="#m5" x="513.6" y="100.5"/><use href="#m5" x="515.8" y="100.4"/><use href="#m5" x="518" y="100.3"/><use href="#m5" x="520.2" y="100.2"/><use href="#m5" x="522.4" y="100"/><use href="#m5" x="524.6" y="99.9"/><use href="#m5" x="526.8" y="99.8"/><use href="#m5" x="529" y="99.8"/><use href="#m5" x="531.2" y="99.7"/><use href="#m5" x="533.4" y="99.6"/><use href="#m5" x="535.6" y="99.5"/><use href="#m5" x="537.8" y="99.5"/><use href="#m5" x="540" y="99.4"/><use href="#m5" x="542.2" y="99.3"/><use href="#m5" x="544.4" y="99.3"/><use href="#m5" x="546.6" y="99.2"/><use href="#m5" x="548.8" y="99.2"/><use href="#m5" x="551" y="99.1"/><use href="#m5" x="553.2" y="99.1"/><use href="#m5" x="555.4" y="99"/><use href="#m5" x="557.6" y="99"/><use href="#m5" x="559.8" y="99"/><use href="#m5" x="562" y="98.9"/><use href="#m5" x="564.2" y="98.9"/><use href="#m5" x="566.4" y="98.8"/><use href="#m5" x="568.6" y="98.8"/><use href="#m5" x="570.8" y="98.8"/><use href="#m5" x="573" y="98.7"/><use href="#m5" x="575.2" y="98.7"/><use href="#m5" x="577.4" y="98.6"/><use href="#m5" x="579.6" y="98.6"/><use href="#m5" x="581.8" y="98.6"/><use href="#m5" x="584" y="98.5"/><use href="#m5" x="586.2" y="98.5"/><use href="#m5" x="588.4" y="98.5"/><use href="#m5" x="590.6" y="98.5"/><use href="#m5" x="592.8" y="98.4"/><use href="#m5" x="595" y="98.4"/><use href="#m5" x="597.2" y="98.4"/><use href="#m5" x="599.4" y="98.4"/><use href="#m5" x="601.6" y="98.3"/><use href="#m5" x="603.8" y="98.3"/><use href="#m5" x="606" y="98.3"/><use href="#m5" x="608.2" y="98.2"/><use href="#m5" x="610.4" y="98.2"/><use href="#m5" x="612.6" y="98.1"/><use href="#m5" x="614.8" y="98.1"/><use href="#m5" x="617" y="98"/><use href="#m5" x="619.2" y="97.9"/><use href="#m5" x="621.4" y="97.7"/><use href="#m5" x="623.6" y="97.4"/><use href="#m5" x="625.8" y="97.1"/><use href="#m5" x="628" y="96.8"/><use href="#m5" x="630.2" y="96.5"/><use href="#m5" x="632.4" y="96.1"/><use href="#m5" x="634.6" y="95.6"/><use href="#m5" x="636.8" y="95"/><use href="#m5" x="639" y="94.3"/><use href="#m5" x="641.2" y="93.6"/><use href="#m5" x="643.4" y="92.6"/><use href="#m5" x="645.6" y="91.4"/><use href="#m5" x="648" y="90"/></g>
<g fill="#fff" stroke="#2a2a2a" stroke-width="0.5"><use href="#m0" x="419" y="192"/><use href="#m0" x="421.2" y="188.2"/><use href="#m0" x="423.4" y="184.6"/><use href="#m0" x="425.6" y="181.2"/><use href="#m0" x="427.8" y="178"/><use href="#m0" x="430" y="175"/><use href="#m0" x="432.2" y="172.5"/><use href="#m0" x="434.4" y="170.1"/><use href="#m0" x="436.6" y="167.1"/><use href="#m0" x="438.8" y="163.1"/><use href="#m0" x="441" y="158.4"/><use href="#m0" x="443.2" y="152.8"/><use href="#m0" x="445.4" y="145.8"/><use href="#m0" x="447.6" y="138.3"/><use href="#m0" x="449.8" y="130.8"/><use href="#m0" x="452" y="123"/><use href="#m0" x="454.2" y="115.3"/><use href="#m0" x="456.4" y="107.6"/><use href="#m0" x="458.6" y="100"/><use href="#m0" x="460.8" y="94.6"/><use href="#m0" x="463" y="87.4"/><use href="#m0" x="465.2" y="80.4"/><use href="#m0" x="467.4" y="75"/><use href="#m0" x="469.6" y="68.9"/><use href="#m0" x="471.8" y="63.6"/><use href="#m0" x="474" y="59"/><use href="#m0" x="476.2" y="54"/><use href="#m0" x="478.4" y="50.5"/><use href="#m0" x="480.6" y="46.6"/><use href="#m0" x="482.8" y="42.8"/><use href="#m0" x="485" y="39.6"/><use href="#m0" x="487.2" y="36.9"/><use href="#m0" x="489.4" y="34.6"/><use href="#m0" x="491.6" y="32.6"/><use href="#m0" x="493.8" y="30.9"/><use href="#m0" x="496" y="29.3"/><use href="#m0" x="498.2" y="28"/><use href="#m0" x="500.4" y="26.8"/><use href="#m0" x="502.6" y="25.7"/><use href="#m0" x="504.8" y="24.8"/><use href="#m0" x="507" y="23.9"/><use href="#m0" x="509.2" y="23.2"/><use href="#m0" x="511.4" y="22.6"/><use href="#m0" x="513.6" y="22.1"/><use href="#m0" x="515.8" y="21.7"/><use href="#m0" x="518" y="21.3"/><use href="#m0" x="520.2" y="21"/><use href="#m0" x="522.4" y="20.7"/><use href="#m0" x="524.6" y="20.5"/><use href="#m0" x="526.8" y="20.3"/><use href="#m0" x="529" y="20.1"/><use href="#m0" x="531.2" y="19.9"/><use href="#m0" x="533.4" y="19.7"/><use href="#m0" x="535.6" y="19.5"/><use href="#m0" x="537.8" y="19.3"/><use href="#m0" x="540" y="19.1"/><use href="#m0" x="542.2" y="18.9"/><use href="#m0" x="544.4" y="18.8"/><use href="#m0" x="546.6" y="18.6"/><use href="#m0" x="548.8" y="18.5"/><use href="#m0" x="551" y="18.3"/><use href="#m0" x="553.2" y="18.2"/><use href="#m0" x="555.4" y="18.1"/><use href="#m0" x="557.6" y="18"/><use href="#m0" x="559.8" y="17.9"/><use href="#m0" x="562" y="17.9"/><use href="#m0" x="564.2" y="17.8"/><use href="#m0" x="566.4" y="17.7"/><use href="#m0" x="568.6" y="17.6"/><use href="#m0" x="570.8" y="17.5"/><use href="#m0" x="573" y="17.5"/><use href="#m0" x="575.2" y="17.4"/><use href="#m0" x="577.4" y="17.3"/><use href="#m0" x="579.6" y="17.2"/><use href="#m0" x="581.8" y="17.1"/><use href="#m0" x="584" y="17.1"/><use href="#m0" x="586.2" y="17"/><use href="#m0" x="588.4" y="16.9"/><use href="#m0" x="590.6" y="16.9"/><use href="#m0" x="592.8" y="16.8"/><use href="#m0" x="595" y="16.7"/><use href="#m0" x="597.2" y="16.7"/><use href="#m0" x="599.4" y="16.6"/><use href="#m0" x="601.6" y="16.5"/><use href="#m0" x="603.8" y="16.4"/><use href="#m0" x="606" y="16.4"/><use href="#m0" x="608.2" y="16.3"/><use href="#m0" x="610.4" y="16.2"/><use href="#m0" x="612.6" y="16.1"/><use href="#m0" x="614.8" y="15.9"/><use href="#m0" x="617" y="15.8"/><use href="#m0" x="619.2" y="15.6"/><use href="#m0" x="621.4" y="15.4"/><use href="#m0" x="623.6" y="15.1"/><use href="#m0" x="625.8" y="14.8"/><use href="#m0" x="628" y="14.4"/><use href="#m0" x="630.2" y="14"/><use href="#m0" x="632.4" y="13.5"/><use href="#m0" x="634.6" y="12.9"/><use href="#m0" x="636.8" y="12.2"/><use href="#m0" x="639" y="11.4"/><use href="#m0" x="641.2" y="10.5"/><use href="#m0" x="643.4" y="9.5"/><use href="#m0" x="645.6" y="8.4"/><use href="#m0" x="648" y="7"/></g>
<g fill="#fff" stroke="#1a1a1a" stroke-width="0.75"><use href="#m4" x="419" y="195.1"/><use href="#m4" x="421.2" y="194.9"/><use href="#m4" x="423.4" y="194.8"/><use href="#m4" x="425.6" y="194.7"/><use href="#m4" x="427.8" y="194.6"/><use href="#m4" x="430" y="194.5"/><use href="#m4" x="432.2" y="194.4"/><use href="#m4" x="434.4" y="194.4"/><use href="#m4" x="436.6" y="194.3"/><use href="#m4" x="438.8" y="194.3"/><use href="#m4" x="441" y="194.2"/><use href="#m4" x="443.2" y="194.2"/><use href="#m4" x="445.4" y="194.2"/><use href="#m4" x="447.6" y="194.1"/><use href="#m4" x="449.8" y="194.1"/><use href="#m4" x="452" y="194.1"/><use href="#m4" x="454.2" y="194.1"/><use href="#m4" x="456.4" y="194.1"/><use href="#m4" x="458.6" y="194.1"/><use href="#m4" x="460.8" y="194.1"/><use href="#m4" x="463" y="194"/><use href="#m4" x="465.2" y="194"/><use href="#m4" x="467.4" y="194"/><use href="#m4" x="469.6" y="194"/><use href="#m4" x="471.8" y="194"/><use href="#m4" x="474" y="194"/><use href="#m4" x="476.2" y="194"/><use href="#m4" x="478.4" y="194"/><use href="#m4" x="480.6" y="194"/><use href="#m4" x="482.8" y="194"/><use href="#m4" x="485" y="194"/><use href="#m4" x="487.2" y="194"/><use href="#m4" x="489.4" y="194"/><use href="#m4" x="491.6" y="194"/><use href="#m4" x="493.8" y="194"/><use href="#m4" x="496" y="194"/><use href="#m4" x="498.2" y="194"/><use href="#m4" x="500.4" y="194"/><use href="#m4" x="502.6" y="194"/><use href="#m4" x="504.8" y="194"/><use href="#m4" x="507" y="194"/><use href="#m4" x="509.2" y="194"/><use href="#m4" x="511.4" y="194"/><use href="#m4" x="513.6" y="194"/><use href="#m4" x="515.8" y="194"/><use href="#m4" x="518" y="194"/><use href="#m4" x="520.2" y="194"/><use href="#m4" x="522.4" y="194"/><use href="#m4" x="524.6" y="194"/><use href="#m4" x="526.8" y="194"/><use href="#m4" x="529" y="194"/><use href="#m4" x="531.2" y="194"/><use href="#m4" x="533.4" y="194"/><use href="#m4" x="535.6" y="194"/><use href="#m4" x="537.8" y="194"/><use href="#m4" x="540" y="194"/><use href="#m4" x="542.2" y="194"/><use href="#m4" x="544.4" y="194"/><use href="#m4" x="546.6" y="194"/><use href="#m4" x="548.8" y="194"/><use href="#m4" x="551" y="194"/><use href="#m4" x="553.2" y="194"/><use href="#m4" x="555.4" y="194"/><use href="#m4" x="557.6" y="194"/><use href="#m4" x="559.8" y="194"/><use href="#m4" x="562" y="194"/><use href="#m4" x="564.2" y="194"/><use href="#m4" x="566.4" y="194"/><use href="#m4" x="568.6" y="194"/><use href="#m4" x="570.8" y="194"/><use href="#m4" x="573" y="194"/><use href="#m4" x="575.2" y="194"/><use href="#m4" x="577.4" y="194"/><use href="#m4" x="579.6" y="194"/><use href="#m4" x="581.8" y="194"/><use href="#m4" x="584" y="194"/><use href="#m4" x="586.2" y="194"/><use href="#m4" x="588.4" y="194"/><use href="#m4" x="590.6" y="194"/><use href="#m4" x="592.8" y="194"/><use href="#m4" x="595" y="194"/><use href="#m4" x="597.2" y="194"/><use href="#m4" x="599.4" y="194"/><use href="#m4" x="601.6" y="194"/><use href="#m4" x="603.8" y="194"/><use href="#m4" x="606" y="194"/><use href="#m4" x="608.2" y="194"/><use href="#m4" x="610.4" y="194"/><use href="#m4" x="612.6" y="194"/><use href="#m4" x="614.8" y="194"/><use href="#m4" x="617" y="194"/><use href="#m4" x="619.2" y="194"/><use href="#m4" x="621.4" y="194"/><use href="#m4" x="623.6" y="193.9"/><use href="#m4" x="625.8" y="193.9"/><use href="#m4" x="628" y="193.9"/><use href="#m4" x="630.2" y="193.9"/><use href="#m4" x="632.4" y="193.9"/><use href="#m4" x="634.6" y="193.8"/><use href="#m4" x="636.8" y="193.8"/><use href="#m4" x="639" y="193.7"/><use href="#m4" x="641.2" y="193.6"/><use href="#m4" x="643.4" y="193.5"/><use href="#m4" x="645.6" y="193.4"/><use href="#m4" x="648" y="193.2"/></g>
<g fill="#fff" stroke="#1a1a1a" stroke-width="0.65"><use href="#m15" x="419" y="194.8"/><use href="#m15" x="421.2" y="194.5"/><use href="#m15" x="423.4" y="194.3"/><use href="#m15" x="425.6" y="194"/><use href="#m15" x="427.8" y="193.8"/><use href="#m15" x="430" y="193.7"/><use href="#m15" x="432.2" y="193.5"/><use href="#m15" x="434.4" y="193.4"/><use href="#m15" x="436.6" y="193.3"/><use href="#m15" x="438.8" y="193.2"/><use href="#m15" x="441" y="193.1"/><use href="#m15" x="443.2" y="193.1"/><use href="#m15" x="445.4" y="193"/><use href="#m15" x="447.6" y="193"/><use href="#m15" x="449.8" y="192.9"/><use href="#m15" x="452" y="192.9"/><use href="#m15" x="454.2" y="192.9"/><use href="#m15" x="456.4" y="192.8"/><use href="#m15" x="458.6" y="192.8"/><use href="#m15" x="460.8" y="192.8"/><use href="#m15" x="463" y="192.8"/><use href="#m15" x="465.2" y="192.8"/><use href="#m15" x="467.4" y="192.8"/><use href="#m15" x="469.6" y="192.8"/><use href="#m15" x="471.8" y="192.7"/><use href="#m15" x="474" y="192.7"/><use href="#m15" x="476.2" y="192.7"/><use href="#m15" x="478.4" y="192.7"/><use href="#m15" x="480.6" y="192.7"/><use href="#m15" x="482.8" y="192.7"/><use href="#m15" x="485" y="192.7"/><use href="#m15" x="487.2" y="192.7"/><use href="#m15" x="489.4" y="192.7"/><use href="#m15" x="491.6" y="192.7"/><use href="#m15" x="493.8" y="192.7"/><use href="#m15" x="496" y="192.7"/><use href="#m15" x="498.2" y="192.7"/><use href="#m15" x="500.4" y="192.7"/><use href="#m15" x="502.6" y="192.7"/><use href="#m15" x="504.8" y="192.7"/><use href="#m15" x="507" y="192.7"/><use href="#m15" x="509.2" y="192.7"/><use href="#m15" x="511.4" y="192.7"/><use href="#m15" x="513.6" y="192.7"/><use href="#m15" x="515.8" y="192.7"/><use href="#m15" x="518" y="192.7"/><use href="#m15" x="520.2" y="192.7"/><use href="#m15" x="522.4" y="192.7"/><use href="#m15" x="524.6" y="192.7"/><use href="#m15" x="526.8" y="192.7"/><use href="#m15" x="529" y="192.7"/><use href="#m15" x="531.2" y="192.7"/><use href="#m15" x="533.4" y="192.7"/><use href="#m15" x="535.6" y="192.7"/><use href="#m15" x="537.8" y="192.7"/><use href="#m15" x="540" y="192.7"/><use href="#m15" x="542.2" y="192.7"/><use href="#m15" x="544.4" y="192.7"/><use href="#m15" x="546.6" y="192.7"/><use href="#m15" x="548.8" y="192.7"/><use href="#m15" x="551" y="192.7"/><use href="#m15" x="553.2" y="192.7"/><use href="#m15" x="555.4" y="192.7"/><use href="#m15" x="557.6" y="192.7"/><use href="#m15" x="559.8" y="192.7"/><use href="#m15" x="562" y="192.7"/><use href="#m15" x="564.2" y="192.7"/><use href="#m15" x="566.4" y="192.7"/><use href="#m15" x="568.6" y="192.7"/><use href="#m15" x="570.8" y="192.7"/><use href="#m15" x="573" y="192.7"/><use href="#m15" x="575.2" y="192.7"/><use href="#m15" x="577.4" y="192.7"/><use href="#m15" x="579.6" y="192.7"/><use href="#m15" x="581.8" y="192.7"/><use href="#m15" x="584" y="192.7"/><use href="#m15" x="586.2" y="192.7"/><use href="#m15" x="588.4" y="192.7"/><use href="#m15" x="590.6" y="192.7"/><use href="#m15" x="592.8" y="192.7"/><use href="#m15" x="595" y="192.7"/><use href="#m15" x="597.2" y="192.7"/><use href="#m15" x="599.4" y="192.7"/><use href="#m15" x="601.6" y="192.7"/><use href="#m15" x="603.8" y="192.7"/><use href="#m15" x="606" y="192.7"/><use href="#m15" x="608.2" y="192.7"/><use href="#m15" x="610.4" y="192.7"/><use href="#m15" x="612.6" y="192.7"/><use href="#m15" x="614.8" y="192.7"/><use href="#m15" x="617" y="192.7"/><use href="#m15" x="619.2" y="192.7"/><use href="#m15" x="621.4" y="192.7"/><use href="#m15" x="623.6" y="192.6"/><use href="#m15" x="625.8" y="192.6"/><use href="#m15" x="628" y="192.6"/><use href="#m15" x="630.2" y="192.6"/><use href="#m15" x="632.4" y="192.6"/><use href="#m15" x="634.6" y="192.5"/><use href="#m15" x="636.8" y="192.5"/><use href="#m15" x="639" y="192.4"/><use href="#m15" x="641.2" y="192.3"/><use href="#m15" x="643.4" y="192.2"/><use href="#m15" x="645.6" y="192.1"/><use href="#m15" x="648" y="191.9"/></g>
<g fill="#fff" stroke="#1a1a1a" stroke-width="0.75"><use href="#m0" x="419" y="194.5"/><use href="#m0" x="421.2" y="194.1"/><use href="#m0" x="423.4" y="193.6"/><use href="#m0" x="425.6" y="193.3"/><use href="#m0" x="427.8" y="193"/><use href="#m0" x="430" y="192.7"/><use href="#m0" x="432.2" y="192.5"/><use href="#m0" x="434.4" y="192.3"/><use href="#m0" x="436.6" y="192.2"/><use href="#m0" x="438.8" y="192"/><use href="#m0" x="441" y="191.9"/><use href="#m0" x="443.2" y="191.8"/><use href="#m0" x="445.4" y="191.7"/><use href="#m0" x="447.6" y="191.6"/><use href="#m0" x="449.8" y="191.6"/><use href="#m0" x="452" y="191.5"/><use href="#m0" x="454.2" y="191.5"/><use href="#m0" x="456.4" y="191.4"/><use href="#m0" x="458.6" y="191.4"/><use href="#m0" x="460.8" y="191.4"/><use href="#m0" x="463" y="191.3"/><use href="#m0" x="465.2" y="191.3"/><use href="#m0" x="467.4" y="191.3"/><use href="#m0" x="469.6" y="191.3"/><use href="#m0" x="471.8" y="191.3"/><use href="#m0" x="474" y="191.3"/><use href="#m0" x="476.2" y="191.3"/><use href="#m0" x="478.4" y="191.2"/><use href="#m0" x="480.6" y="191.2"/><use href="#m0" x="482.8" y="191.2"/><use href="#m0" x="485" y="191.2"/><use href="#m0" x="487.2" y="191.2"/><use href="#m0" x="489.4" y="191.2"/><use href="#m0" x="491.6" y="191.2"/><use href="#m0" x="493.8" y="191.2"/><use href="#m0" x="496" y="191.2"/><use href="#m0" x="498.2" y="191.2"/><use href="#m0" x="500.4" y="191.2"/><use href="#m0" x="502.6" y="191.2"/><use href="#m0" x="504.8" y="191.2"/><use href="#m0" x="507" y="191.2"/><use href="#m0" x="509.2" y="191.2"/><use href="#m0" x="511.4" y="191.2"/><use href="#m0" x="513.6" y="191.2"/><use href="#m0" x="515.8" y="191.2"/><use href="#m0" x="518" y="191.2"/><use href="#m0" x="520.2" y="191.2"/><use href="#m0" x="522.4" y="191.2"/><use href="#m0" x="524.6" y="191.2"/><use href="#m0" x="526.8" y="191.2"/><use href="#m0" x="529" y="191.2"/><use href="#m0" x="531.2" y="191.2"/><use href="#m0" x="533.4" y="191.2"/><use href="#m0" x="535.6" y="191.2"/><use href="#m0" x="537.8" y="191.2"/><use href="#m0" x="540" y="191.2"/><use href="#m0" x="542.2" y="191.2"/><use href="#m0" x="544.4" y="191.2"/><use href="#m0" x="546.6" y="191.2"/><use href="#m0" x="548.8" y="191.2"/><use href="#m0" x="551" y="191.2"/><use href="#m0" x="553.2" y="191.2"/><use href="#m0" x="555.4" y="191.2"/><use href="#m0" x="557.6" y="191.2"/><use href="#m0" x="559.8" y="191.2"/><use href="#m0" x="562" y="191.2"/><use href="#m0" x="564.2" y="191.2"/><use href="#m0" x="566.4" y="191.2"/><use href="#m0" x="568.6" y="191.2"/><use href="#m0" x="570.8" y="191.2"/><use href="#m0" x="573" y="191.2"/><use href="#m0" x="575.2" y="191.2"/><use href="#m0" x="577.4" y="191.2"/><use href="#m0" x="579.6" y="191.2"/><use href="#m0" x="581.8" y="191.2"/><use href="#m0" x="584" y="191.2"/><use href="#m0" x="586.2" y="191.2"/><use href="#m0" x="588.4" y="191.2"/><use href="#m0" x="590.6" y="191.2"/><use href="#m0" x="592.8" y="191.2"/><use href="#m0" x="595" y="191.2"/><use href="#m0" x="597.2" y="191.2"/><use href="#m0" x="599.4" y="191.2"/><use href="#m0" x="601.6" y="191.2"/><use href="#m0" x="603.8" y="191.2"/><use href="#m0" x="606" y="191.2"/><use href="#m0" x="608.2" y="191.2"/><use href="#m0" x="610.4" y="191.2"/><use href="#m0" x="612.6" y="191.2"/><use href="#m0" x="614.8" y="191.2"/><use href="#m0" x="617" y="191.2"/><use href="#m0" x="619.2" y="191.2"/><use href="#m0" x="621.4" y="191.2"/><use href="#m0" x="623.6" y="191.1"/><use href="#m0" x="625.8" y="191.1"/><use href="#m0" x="628" y="191.1"/><use href="#m0" x="630.2" y="191.1"/><use href="#m0" x="632.4" y="191.1"/><use href="#m0" x="634.6" y="191"/><use href="#m0" x="636.8" y="191"/><use href="#m0" x="639" y="190.9"/><use href="#m0" x="641.2" y="190.8"/><use href="#m0" x="643.4" y="190.7"/><use href="#m0" x="645.6" y="190.6"/><use href="#m0" x="648" y="190.4"/></g>
<g fill="#fff" stroke="#1a1a1a" stroke-width="0.7"><use href="#m1" x="419" y="194.2"/><use href="#m1" x="421.2" y="193.5"/><use href="#m1" x="423.4" y="193"/><use href="#m1" x="425.6" y="192.5"/><use href="#m1" x="427.8" y="192.1"/><use href="#m1" x="430" y="191.7"/><use href="#m1" x="432.2" y="191.4"/><use href="#m1" x="434.4" y="191.1"/><use href="#m1" x="436.6" y="190.9"/><use href="#m1" x="438.8" y="190.7"/><use href="#m1" x="441" y="190.6"/><use href="#m1" x="443.2" y="190.4"/><use href="#m1" x="445.4" y="190.3"/><use href="#m1" x="447.6" y="190.2"/><use href="#m1" x="449.8" y="190.1"/><use href="#m1" x="452" y="190"/><use href="#m1" x="454.2" y="190"/><use href="#m1" x="456.4" y="189.9"/><use href="#m1" x="458.6" y="189.9"/><use href="#m1" x="460.8" y="189.8"/><use href="#m1" x="463" y="189.8"/><use href="#m1" x="465.2" y="189.8"/><use href="#m1" x="467.4" y="189.7"/><use href="#m1" x="469.6" y="189.7"/><use href="#m1" x="471.8" y="189.7"/><use href="#m1" x="474" y="189.7"/><use href="#m1" x="476.2" y="189.7"/><use href="#m1" x="478.4" y="189.7"/><use href="#m1" x="480.6" y="189.7"/><use href="#m1" x="482.8" y="189.6"/><use href="#m1" x="485" y="189.6"/><use href="#m1" x="487.2" y="189.6"/><use href="#m1" x="489.4" y="189.6"/><use href="#m1" x="491.6" y="189.6"/><use href="#m1" x="493.8" y="189.6"/><use href="#m1" x="496" y="189.6"/><use href="#m1" x="498.2" y="189.6"/><use href="#m1" x="500.4" y="189.6"/><use href="#m1" x="502.6" y="189.6"/><use href="#m1" x="504.8" y="189.6"/><use href="#m1" x="507" y="189.6"/><use href="#m1" x="509.2" y="189.6"/><use href="#m1" x="511.4" y="189.6"/><use href="#m1" x="513.6" y="189.6"/><use href="#m1" x="515.8" y="189.6"/><use href="#m1" x="518" y="189.6"/><use href="#m1" x="520.2" y="189.6"/><use href="#m1" x="522.4" y="189.6"/><use href="#m1" x="524.6" y="189.6"/><use href="#m1" x="526.8" y="189.6"/><use href="#m1" x="529" y="189.6"/><use href="#m1" x="531.2" y="189.6"/><use href="#m1" x="533.4" y="189.6"/><use href="#m1" x="535.6" y="189.6"/><use href="#m1" x="537.8" y="189.6"/><use href="#m1" x="540" y="189.6"/><use href="#m1" x="542.2" y="189.6"/><use href="#m1" x="544.4" y="189.6"/><use href="#m1" x="546.6" y="189.6"/><use href="#m1" x="548.8" y="189.6"/><use href="#m1" x="551" y="189.6"/><use href="#m1" x="553.2" y="189.6"/><use href="#m1" x="555.4" y="189.6"/><use href="#m1" x="557.6" y="189.6"/><use href="#m1" x="559.8" y="189.6"/><use href="#m1" x="562" y="189.6"/><use href="#m1" x="564.2" y="189.6"/><use href="#m1" x="566.4" y="189.6"/><use href="#m1" x="568.6" y="189.6"/><use href="#m1" x="570.8" y="189.6"/><use href="#m1" x="573" y="189.6"/><use href="#m1" x="575.2" y="189.6"/><use href="#m1" x="577.4" y="189.6"/><use href="#m1" x="579.6" y="189.6"/><use href="#m1" x="581.8" y="189.6"/><use href="#m1" x="584" y="189.6"/><use href="#m1" x="586.2" y="189.6"/><use href="#m1" x="588.4" y="189.6"/><use href="#m1" x="590.6" y="189.6"/><use href="#m1" x="592.8" y="189.6"/><use href="#m1" x="595" y="189.6"/><use href="#m1" x="597.2" y="189.6"/><use href="#m1" x="599.4" y="189.6"/><use href="#m1" x="601.6" y="189.6"/><use href="#m1" x="603.8" y="189.6"/><use href="#m1" x="606" y="189.6"/><use href="#m1" x="608.2" y="189.6"/><use href="#m1" x="610.4" y="189.6"/><use href="#m1" x="612.6" y="189.6"/><use href="#m1" x="614.8" y="189.6"/><use href="#m1" x="617" y="189.6"/><use href="#m1" x="619.2" y="189.6"/><use href="#m1" x="621.4" y="189.6"/><use href="#m1" x="623.6" y="189.5"/><use href="#m1" x="625.8" y="189.5"/><use href="#m1" x="628" y="189.5"/><use href="#m1" x="630.2" y="189.5"/><use href="#m1" x="632.4" y="189.5"/><use href="#m1" x="634.6" y="189.4"/><use href="#m1" x="636.8" y="189.4"/><use href="#m1" x="639" y="189.3"/><use href="#m1" x="641.2" y="189.2"/><use href="#m1" x="643.4" y="189.1"/><use href="#m1" x="645.6" y="189"/><use href="#m1" x="648" y="188.8"/></g>
<g fill="#fff" stroke="#1a1a1a" stroke-width="0.55"><use href="#m4" x="419" y="193.8"/><use href="#m4" x="421.2" y="192.9"/><use href="#m4" x="423.4" y="192.1"/><use href="#m4" x="425.6" y="191.4"/><use href="#m4" x="427.8" y="190.8"/><use href="#m4" x="430" y="190.3"/><use href="#m4" x="432.2" y="189.9"/><use href="#m4" x="434.4" y="189.5"/><use href="#m4" x="436.6" y="189.2"/><use href="#m4" x="438.8" y="189"/><use href="#m4" x="441" y="188.7"/><use href="#m4" x="443.2" y="188.5"/><use href="#m4" x="445.4" y="188.4"/><use href="#m4" x="447.6" y="188.2"/><use href="#m4" x="449.8" y="188.1"/><use href="#m4" x="452" y="188"/><use href="#m4" x="454.2" y="187.9"/><use href="#m4" x="456.4" y="187.8"/><use href="#m4" x="458.6" y="187.8"/><use href="#m4" x="460.8" y="187.7"/><use href="#m4" x="463" y="187.7"/><use href="#m4" x="465.2" y="187.6"/><use href="#m4" x="467.4" y="187.6"/><use href="#m4" x="469.6" y="187.6"/><use href="#m4" x="471.8" y="187.5"/><use href="#m4" x="474" y="187.5"/><use href="#m4" x="476.2" y="187.5"/><use href="#m4" x="478.4" y="187.5"/><use href="#m4" x="480.6" y="187.5"/><use href="#m4" x="482.8" y="187.5"/><use href="#m4" x="485" y="187.5"/><use href="#m4" x="487.2" y="187.4"/><use href="#m4" x="489.4" y="187.4"/><use href="#m4" x="491.6" y="187.4"/><use href="#m4" x="493.8" y="187.4"/><use href="#m4" x="496" y="187.4"/><use href="#m4" x="498.2" y="187.4"/><use href="#m4" x="500.4" y="187.4"/><use href="#m4" x="502.6" y="187.4"/><use href="#m4" x="504.8" y="187.4"/><use href="#m4" x="507" y="187.4"/><use href="#m4" x="509.2" y="187.4"/><use href="#m4" x="511.4" y="187.4"/><use href="#m4" x="513.6" y="187.4"/><use href="#m4" x="515.8" y="187.4"/><use href="#m4" x="518" y="187.4"/><use href="#m4" x="520.2" y="187.4"/><use href="#m4" x="522.4" y="187.4"/><use href="#m4" x="524.6" y="187.4"/><use href="#m4" x="526.8" y="187.4"/><use href="#m4" x="529" y="187.4"/><use href="#m4" x="531.2" y="187.4"/><use href="#m4" x="533.4" y="187.4"/><use href="#m4" x="535.6" y="187.4"/><use href="#m4" x="537.8" y="187.4"/><use href="#m4" x="540" y="187.4"/><use href="#m4" x="542.2" y="187.4"/><use href="#m4" x="544.4" y="187.4"/><use href="#m4" x="546.6" y="187.4"/><use href="#m4" x="548.8" y="187.4"/><use href="#m4" x="551" y="187.4"/><use href="#m4" x="553.2" y="187.4"/><use href="#m4" x="555.4" y="187.4"/><use href="#m4" x="557.6" y="187.4"/><use href="#m4" x="559.8" y="187.4"/><use href="#m4" x="562" y="187.4"/><use href="#m4" x="564.2" y="187.4"/><use href="#m4" x="566.4" y="187.4"/><use href="#m4" x="568.6" y="187.4"/><use href="#m4" x="570.8" y="187.4"/><use href="#m4" x="573" y="187.4"/><use href="#m4" x="575.2" y="187.4"/><use href="#m4" x="577.4" y="187.4"/><use href="#m4" x="579.6" y="187.4"/><use href="#m4" x="581.8" y="187.4"/><use href="#m4" x="584" y="187.4"/><use href="#m4" x="586.2" y="187.4"/><use href="#m4" x="588.4" y="187.4"/><use href="#m4" x="590.6" y="187.4"/><use href="#m4" x="592.8" y="187.4"/><use href="#m4" x="595" y="187.4"/><use href="#m4" x="597.2" y="187.4"/><use href="#m4" x="599.4" y="187.4"/><use href="#m4" x="601.6" y="187.4"/><use href="#m4" x="603.8" y="187.4"/><use href="#m4" x="606" y="187.4"/><use href="#m4" x="608.2" y="187.4"/><use href="#m4" x="610.4" y="187.4"/><use href="#m4" x="612.6" y="187.4"/><use href="#m4" x="614.8" y="187.4"/><use href="#m4" x="617" y="187.4"/><use href="#m4" x="619.2" y="187.4"/><use href="#m4" x="621.4" y="187.4"/><use href="#m4" x="623.6" y="187.3"/><use href="#m4" x="625.8" y="187.3"/><use href="#m4" x="628" y="187.3"/><use href="#m4" x="630.2" y="187.3"/><use href="#m4" x="632.4" y="187.3"/><use href="#m4" x="634.6" y="187.2"/><use href="#m4" x="636.8" y="187.2"/><use href="#m4" x="639" y="187.1"/><use href="#m4" x="641.2" y="187"/><use href="#m4" x="643.4" y="186.9"/><use href="#m4" x="645.6" y="186.8"/><use href="#m4" x="648" y="186.6"/></g>
<g fill="#fff" stroke="#1a1a1a" stroke-width="0.5"><use href="#m0" x="419" y="193.2"/><use href="#m0" x="421.2" y="192"/><use href="#m0" x="423.4" y="190.9"/><use href="#m0" x="425.6" y="190"/><use href="#m0" x="427.8" y="189.2"/><use href="#m0" x="430" y="188.5"/><use href="#m0" x="432.2" y="188"/><use href="#m0" x="434.4" y="187.5"/><use href="#m0" x="436.6" y="187.1"/><use href="#m0" x="438.8" y="186.7"/><use href="#m0" x="441" y="186.4"/><use href="#m0" x="443.2" y="186.1"/><use href="#m0" x="445.4" y="185.9"/><use href="#m0" x="447.6" y="185.7"/><use href="#m0" x="449.8" y="185.6"/><use href="#m0" x="452" y="185.4"/><use href="#m0" x="454.2" y="185.3"/><use href="#m0" x="456.4" y="185.2"/><use href="#m0" x="458.6" y="185.1"/><use href="#m0" x="460.8" y="185"/><use href="#m0" x="463" y="185"/><use href="#m0" x="465.2" y="184.9"/><use href="#m0" x="467.4" y="184.9"/><use href="#m0" x="469.6" y="184.8"/><use href="#m0" x="471.8" y="184.8"/><use href="#m0" x="474" y="184.8"/><use href="#m0" x="476.2" y="184.7"/><use href="#m0" x="478.4" y="184.7"/><use href="#m0" x="480.6" y="184.7"/><use href="#m0" x="482.8" y="184.7"/><use href="#m0" x="485" y="184.7"/><use href="#m0" x="487.2" y="184.7"/><use href="#m0" x="489.4" y="184.7"/><use href="#m0" x="491.6" y="184.6"/><use href="#m0" x="493.8" y="184.6"/><use href="#m0" x="496" y="184.6"/><use href="#m0" x="498.2" y="184.6"/><use href="#m0" x="500.4" y="184.6"/><use href="#m0" x="502.6" y="184.6"/><use href="#m0" x="504.8" y="184.6"/><use href="#m0" x="507" y="184.6"/><use href="#m0" x="509.2" y="184.6"/><use href="#m0" x="511.4" y="184.6"/><use href="#m0" x="513.6" y="184.6"/><use href="#m0" x="515.8" y="184.6"/><use href="#m0" x="518" y="184.6"/><use href="#m0" x="520.2" y="184.6"/><use href="#m0" x="522.4" y="184.6"/><use href="#m0" x="524.6" y="184.6"/><use href="#m0" x="526.8" y="184.6"/><use href="#m0" x="529" y="184.6"/><use href="#m0" x="531.2" y="184.6"/><use href="#m0" x="533.4" y="184.6"/><use href="#m0" x="535.6" y="184.6"/><use href="#m0" x="537.8" y="184.6"/><use href="#m0" x="540" y="184.6"/><use href="#m0" x="542.2" y="184.6"/><use href="#m0" x="544.4" y="184.6"/><use href="#m0" x="546.6" y="184.6"/><use href="#m0" x="548.8" y="184.6"/><use href="#m0" x="551" y="184.6"/><use href="#m0" x="553.2" y="184.6"/><use href="#m0" x="555.4" y="184.6"/><use href="#m0" x="557.6" y="184.6"/><use href="#m0" x="559.8" y="184.6"/><use href="#m0" x="562" y="184.6"/><use href="#m0" x="564.2" y="184.6"/><use href="#m0" x="566.4" y="184.6"/><use href="#m0" x="568.6" y="184.6"/><use href="#m0" x="570.8" y="184.6"/><use href="#m0" x="573" y="184.6"/><use href="#m0" x="575.2" y="184.6"/><use href="#m0" x="577.4" y="184.6"/><use href="#m0" x="579.6" y="184.6"/><use href="#m0" x="581.8" y="184.6"/><use href="#m0" x="584" y="184.6"/><use href="#m0" x="586.2" y="184.6"/><use href="#m0" x="588.4" y="184.6"/><use href="#m0" x="590.6" y="184.6"/><use href="#m0" x="592.8" y="184.6"/><use href="#m0" x="595" y="184.6"/><use href="#m0" x="597.2" y="184.6"/><use href="#m0" x="599.4" y="184.6"/><use href="#m0" x="601.6" y="184.6"/><use href="#m0" x="603.8" y="184.6"/><use href="#m0" x="606" y="184.6"/><use href="#m0" x="608.2" y="184.6"/><use href="#m0" x="610.4" y="184.6"/><use href="#m0" x="612.6" y="184.6"/><use href="#m0" x="614.8" y="184.6"/><use href="#m0" x="617" y="184.6"/><use href="#m0" x="619.2" y="184.6"/><use href="#m0" x="621.4" y="184.6"/><use href="#m0" x="623.6" y="184.5"/><use href="#m0" x="625.8" y="184.5"/><use href="#m0" x="628" y="184.5"/><use href="#m0" x="630.2" y="184.5"/><use href="#m0" x="632.4" y="184.5"/><use href="#m0" x="634.6" y="184.4"/><use href="#m0" x="636.8" y="184.4"/><use href="#m0" x="639" y="184.3"/><use href="#m0" x="641.2" y="184.2"/><use href="#m0" x="643.4" y="184.1"/><use href="#m0" x="645.6" y="184"/><use href="#m0" x="648" y="183.8"/></g>
<g fill="#fff" stroke="#1a1a1a" stroke-width="0.5"><use href="#m5" x="419" y="192.5"/><use href="#m5" x="421.2" y="190.8"/><use href="#m5" x="423.4" y="189.4"/><use href="#m5" x="425.6" y="188.2"/><use href="#m5" x="427.8" y="187.1"/><use href="#m5" x="430" y="186.2"/><use href="#m5" x="432.2" y="185.5"/><use href="#m5" x="434.4" y="184.8"/><use href="#m5" x="436.6" y="184.3"/><use href="#m5" x="438.8" y="183.8"/><use href="#m5" x="441" y="183.4"/><use href="#m5" x="443.2" y="183"/><use href="#m5" x="445.4" y="182.7"/><use href="#m5" x="447.6" y="182.5"/><use href="#m5" x="449.8" y="182.3"/><use href="#m5" x="452" y="182.1"/><use href="#m5" x="454.2" y="181.9"/><use href="#m5" x="456.4" y="181.8"/><use href="#m5" x="458.6" y="181.7"/><use href="#m5" x="460.8" y="181.6"/><use href="#m5" x="463" y="181.5"/><use href="#m5" x="465.2" y="181.4"/><use href="#m5" x="467.4" y="181.4"/><use href="#m5" x="469.6" y="181.3"/><use href="#m5" x="471.8" y="181.3"/><use href="#m5" x="474" y="181.2"/><use href="#m5" x="476.2" y="181.2"/><use href="#m5" x="478.4" y="181.2"/><use href="#m5" x="480.6" y="181.1"/><use href="#m5" x="482.8" y="181.1"/><use href="#m5" x="485" y="181.1"/><use href="#m5" x="487.2" y="181.1"/><use href="#m5" x="489.4" y="181.1"/><use href="#m5" x="491.6" y="181.1"/><use href="#m5" x="493.8" y="181.1"/><use href="#m5" x="496" y="181"/><use href="#m5" x="498.2" y="181"/><use href="#m5" x="500.4" y="181"/><use href="#m5" x="502.6" y="181"/><use href="#m5" x="504.8" y="181"/><use href="#m5" x="507" y="181"/><use href="#m5" x="509.2" y="181"/><use href="#m5" x="511.4" y="181"/><use href="#m5" x="513.6" y="181"/><use href="#m5" x="515.8" y="181"/><use href="#m5" x="518" y="181"/><use href="#m5" x="520.2" y="181"/><use href="#m5" x="522.4" y="181"/><use href="#m5" x="524.6" y="181"/><use href="#m5" x="526.8" y="181"/><use href="#m5" x="529" y="181"/><use href="#m5" x="531.2" y="181"/><use href="#m5" x="533.4" y="181"/><use href="#m5" x="535.6" y="181"/><use href="#m5" x="537.8" y="181"/><use href="#m5" x="540" y="181"/><use href="#m5" x="542.2" y="181"/><use href="#m5" x="544.4" y="181"/><use href="#m5" x="546.6" y="181"/><use href="#m5" x="548.8" y="181"/><use href="#m5" x="551" y="181"/><use href="#m5" x="553.2" y="181"/><use href="#m5" x="555.4" y="181"/><use href="#m5" x="557.6" y="181"/><use href="#m5" x="559.8" y="181"/><use href="#m5" x="562" y="181"/><use href="#m5" x="564.2" y="181"/><use href="#m5" x="566.4" y="181"/><use href="#m5" x="568.6" y="181"/><use href="#m5" x="570.8" y="181"/><use href="#m5" x="573" y="181"/><use href="#m5" x="575.2" y="181"/><use href="#m5" x="577.4" y="181"/><use href="#m5" x="579.6" y="181"/><use href="#m5" x="581.8" y="181"/><use href="#m5" x="584" y="181"/><use href="#m5" x="586.2" y="181"/><use href="#m5" x="588.4" y="181"/><use href="#m5" x="590.6" y="181"/><use href="#m5" x="592.8" y="181"/><use href="#m5" x="595" y="181"/><use href="#m5" x="597.2" y="181"/><use href="#m5" x="599.4" y="181"/><use href="#m5" x="601.6" y="181"/><use href="#m5" x="603.8" y="181"/><use href="#m5" x="606" y="181"/><use href="#m5" x="608.2" y="181"/><use href="#m5" x="610.4" y="181"/><use href="#m5" x="612.6" y="181"/><use href="#m5" x="614.8" y="181"/><use href="#m5" x="617" y="181"/><use href="#m5" x="619.2" y="181"/><use href="#m5" x="621.4" y="181"/><use href="#m5" x="623.6" y="180.9"/><use href="#m5" x="625.8" y="180.9"/><use href="#m5" x="628" y="180.9"/><use href="#m5" x="630.2" y="180.9"/><use href="#m5" x="632.4" y="180.9"/><use href="#m5" x="634.6" y="180.8"/><use href="#m5" x="636.8" y="180.8"/><use href="#m5" x="639" y="180.7"/><use href="#m5" x="641.2" y="180.6"/><use href="#m5" x="643.4" y="180.5"/><use href="#m5" x="645.6" y="180.4"/><use href="#m5" x="648" y="180.2"/></g>
<g fill="#fff" stroke="#555" stroke-width="0.55"><use href="#m16" x="419" y="201.8"/><use href="#m16" x="421.2" y="201.8"/><use href="#m16" x="423.4" y="201.8"/><use href="#m16" x="425.6" y="201.8"/><use href="#m16" x="427.8" y="201.8"/><use href="#m16" x="430" y="201.8"/><use href="#m16" x="432.2" y="201.8"/><use href="#m16" x="434.4" y="201.8"/><use href="#m16" x="436.6" y="201.8"/><use href="#m16" x="438.8" y="201.8"/><use href="#m16" x="441" y="201.8"/><use href="#m16" x="443.2" y="201.8"/><use href="#m16" x="445.4" y="201.8"/><use href="#m16" x="447.6" y="201.8"/><use href="#m16" x="449.8" y="201.8"/><use href="#m16" x="452" y="201.8"/><use href="#m16" x="454.2" y="201.8"/><use href="#m16" x="456.4" y="201.8"/><use href="#m16" x="458.6" y="201.8"/><use href="#m16" x="460.8" y="201.8"/><use href="#m16" x="463" y="201.8"/><use href="#m16" x="465.2" y="201.8"/><use href="#m16" x="467.4" y="201.8"/><use href="#m16" x="469.6" y="201.8"/><use href="#m16" x="471.8" y="201.8"/><use href="#m16" x="474" y="201.8"/><use href="#m16" x="476.2" y="201.8"/><use href="#m16" x="478.4" y="201.8"/><use href="#m16" x="480.6" y="201.8"/><use href="#m16" x="482.8" y="201.8"/><use href="#m16" x="485" y="201.8"/><use href="#m16" x="487.2" y="201.8"/><use href="#m16" x="489.4" y="201.8"/><use href="#m16" x="491.6" y="201.8"/><use href="#m16" x="493.8" y="201.8"/><use href="#m16" x="496" y="201.8"/><use href="#m16" x="498.2" y="201.8"/><use href="#m16" x="500.4" y="201.8"/><use href="#m16" x="502.6" y="201.8"/><use href="#m16" x="504.8" y="201.8"/><use href="#m16" x="507" y="201.8"/><use href="#m16" x="509.2" y="201.8"/><use href="#m16" x="511.4" y="201.8"/><use href="#m16" x="513.6" y="201.8"/><use href="#m16" x="515.8" y="201.8"/><use href="#m16" x="518" y="201.8"/><use href="#m16" x="520.2" y="201.8"/><use href="#m16" x="522.4" y="201.8"/><use href="#m16" x="524.6" y="201.8"/><use href="#m16" x="526.8" y="201.8"/><use href="#m16" x="529" y="201.8"/><use href="#m16" x="531.2" y="201.8"/><use href="#m16" x="533.4" y="201.8"/><use href="#m16" x="535.6" y="201.8"/><use href="#m16" x="537.8" y="201.8"/><use href="#m16" x="540" y="201.8"/><use href="#m16" x="542.2" y="201.8"/><use href="#m16" x="544.4" y="201.8"/><use href="#m16" x="546.6" y="201.8"/><use href="#m16" x="548.8" y="201.8"/><use href="#m16" x="551" y="201.8"/><use href="#m16" x="553.2" y="201.8"/><use href="#m16" x="555.4" y="201.8"/><use href="#m16" x="557.6" y="201.8"/><use href="#m16" x="559.8" y="201.8"/><use href="#m16" x="562" y="201.8"/><use href="#m16" x="564.2" y="201.8"/><use href="#m16" x="566.4" y="201.8"/><use href="#m16" x="568.6" y="201.8"/><use href="#m16" x="570.8" y="201.8"/><use href="#m16" x="573" y="201.8"/><use href="#m16" x="575.2" y="201.8"/><use href="#m16" x="577.4" y="201.8"/><use href="#m16" x="579.6" y="201.8"/><use href="#m16" x="581.8" y="201.8"/><use href="#m16" x="584" y="201.8"/><use href="#m16" x="586.2" y="201.8"/><use href="#m16" x="588.4" y="201.8"/><use href="#m16" x="590.6" y="201.8"/><use href="#m16" x="592.8" y="201.8"/><use href="#m16" x="595" y="201.8"/><use href="#m16" x="597.2" y="201.8"/><use href="#m16" x="599.4" y="201.8"/><use href="#m16" x="601.6" y="201.8"/><use href="#m16" x="603.8" y="201.8"/><use href="#m16" x="606" y="201.8"/><use href="#m16" x="608.2" y="201.8"/><use href="#m16" x="610.4" y="201.8"/><use href="#m16" x="612.6" y="201.8"/><use href="#m16" x="614.8" y="201.8"/><use href="#m16" x="617" y="201.8"/><use href="#m16" x="619.2" y="201.8"/><use href="#m16" x="621.4" y="201.8"/><use href="#m16" x="623.6" y="201.8"/><use href="#m16" x="625.8" y="201.8"/><use href="#m16" x="628" y="201.8"/><use href="#m16" x="630.2" y="201.8"/><use href="#m16" x="632.4" y="201.8"/><use href="#m16" x="634.6" y="201.8"/><use href="#m16" x="636.8" y="201.8"/><use href="#m16" x="639" y="201.8"/><use href="#m16" x="641.2" y="201.8"/><use href="#m16" x="643.4" y="201.8"/><use href="#m16" x="645.6" y="201.8"/><use href="#m16" x="648" y="201.8"/></g>
<path d="M413.5 213.0V0.8H699.2V213.0z" fill="none" stroke="#1a1a1a" stroke-width="1"/>
<path d="M413.5 201.5h-4.5M413.5 169.3h-2.5M413.5 137.2h-4.5M413.5 105h-2.5M413.5 72.8h-4.5M413.5 40.7h-2.5M413.5 8.5h-4.5M433.6 213.0v4.5M469.3 213.0v4.5M505 213.0v4.5M540.7 213.0v4.5M576.4 213.0v4.5M612.1 213.0v4.5M647.8 213.0v4.5M683.5 213.0v4.5M414.9 213.0v2.5M419.4 213.0v2.5M422.9 213.0v2.5M425.7 213.0v2.5M428.1 213.0v2.5M430.1 213.0v2.5M432 213.0v2.5M444.3 213.0v2.5M450.6 213.0v2.5M455.1 213.0v2.5M458.6 213.0v2.5M461.4 213.0v2.5M463.8 213.0v2.5M465.8 213.0v2.5M467.7 213.0v2.5M480 213.0v2.5M486.3 213.0v2.5M490.8 213.0v2.5M494.3 213.0v2.5M497.1 213.0v2.5M499.5 213.0v2.5M501.5 213.0v2.5M503.4 213.0v2.5M515.7 213.0v2.5M522 213.0v2.5M526.5 213.0v2.5M530 213.0v2.5M532.8 213.0v2.5M535.2 213.0v2.5M537.2 213.0v2.5M539.1 213.0v2.5M551.4 213.0v2.5M557.7 213.0v2.5M562.2 213.0v2.5M565.7 213.0v2.5M568.5 213.0v2.5M570.9 213.0v2.5M572.9 213.0v2.5M574.8 213.0v2.5M587.1 213.0v2.5M593.4 213.0v2.5M597.9 213.0v2.5M601.4 213.0v2.5M604.2 213.0v2.5M606.6 213.0v2.5M608.6 213.0v2.5M610.5 213.0v2.5M622.8 213.0v2.5M629.1 213.0v2.5M633.6 213.0v2.5M637.1 213.0v2.5M639.9 213.0v2.5M642.3 213.0v2.5M644.3 213.0v2.5M646.2 213.0v2.5M658.5 213.0v2.5M664.8 213.0v2.5M669.3 213.0v2.5M672.8 213.0v2.5M675.6 213.0v2.5M678 213.0v2.5M680 213.0v2.5M681.9 213.0v2.5M694.2 213.0v2.5" stroke="#000" stroke-width="1" fill="none"/>
<text x="406.4" y="206.1" font-size="13.3" text-anchor="end">0.00</text>
<text x="406.4" y="141.8" font-size="13.3" text-anchor="end">0.08</text>
<text x="406.4" y="77.4" font-size="13.3" text-anchor="end">0.16</text>
<text x="406.4" y="13.1" font-size="13.3" text-anchor="end">0.24</text>
<text x="433.8" y="233.8" font-size="12.2" text-anchor="middle" fill="#000">10<tspan font-size="8.6" dy="-6.5">2</tspan></text>
<text x="469.5" y="233.8" font-size="12.2" text-anchor="middle" fill="#000">10<tspan font-size="8.6" dy="-6.5">3</tspan></text>
<text x="505.2" y="233.8" font-size="12.2" text-anchor="middle" fill="#000">10<tspan font-size="8.6" dy="-6.5">4</tspan></text>
<text x="540.9" y="233.8" font-size="12.2" text-anchor="middle" fill="#000">10<tspan font-size="8.6" dy="-6.5">5</tspan></text>
<text x="576.6" y="233.8" font-size="12.2" text-anchor="middle" fill="#000">10<tspan font-size="8.6" dy="-6.5">6</tspan></text>
<text x="612.3" y="233.8" font-size="12.2" text-anchor="middle" fill="#000">10<tspan font-size="8.6" dy="-6.5">7</tspan></text>
<text x="648" y="233.8" font-size="12.2" text-anchor="middle" fill="#000">10<tspan font-size="8.6" dy="-6.5">8</tspan></text>
<text x="683.7" y="233.8" font-size="12.2" text-anchor="middle" fill="#000">10<tspan font-size="8.6" dy="-6.5">9</tspan></text>
<text x="553.8" y="249.6" font-size="16.2" text-anchor="middle">f (Hz)</text>
<text transform="translate(371.2 137.4) rotate(-90)" font-size="12.5">κ</text>
<text transform="translate(371 125.4) rotate(-90)" font-size="16">(S/m)</text>
<text x="428" y="19.4" font-size="12" font-weight="bold">(b) HSiW-DMF</text>
<path d="M617.7 206.6V8" stroke="#000" stroke-width="1.1" fill="none"/>
<path d="M617.7 2.8l2.1 6.8h-4.2z" fill="#000"/>
<text x="624" y="28.6" font-size="10.4">0.02615 mol/L</text>
<text x="653" y="204.5" font-size="10.4">0 mol/L</text>
</g>
</svg>
</body></html>
